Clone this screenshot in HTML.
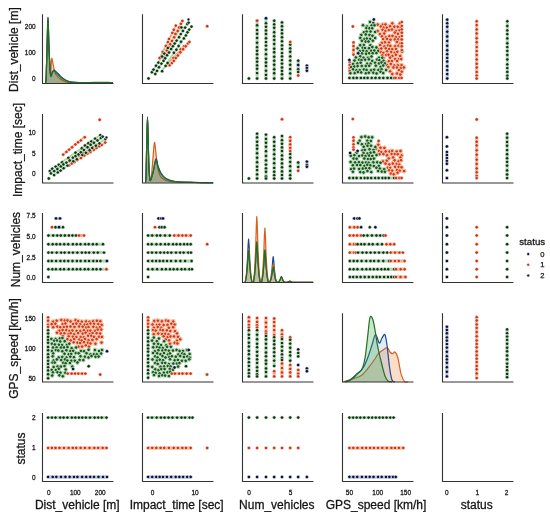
<!DOCTYPE html>
<html><head><meta charset="utf-8"><style>html,body{margin:0;padding:0;background:#fff;width:550px;height:517px;overflow:hidden}svg{display:block}</style></head>
<body><svg width="550" height="517" viewBox="0 0 550 517" font-family="Liberation Sans, sans-serif">
<rect width="550" height="517" fill="#fff"/>
<style>circle{stroke:#fff;stroke-width:0.55px}</style>
<g style="filter:blur(0.35px)"><path d="M159.8,58.0 L176.0,25.5" stroke="#f4a47a" stroke-width="2" stroke-linecap="round" fill="none"/>
<path d="M163.5,57.0 L182.7,20.7" stroke="#f4a47a" stroke-width="2" stroke-linecap="round" fill="none"/>
<path d="M166.5,66.0 L184.0,46.0" stroke="#f4a47a" stroke-width="2" stroke-linecap="round" fill="none"/>
<path d="M169.5,65.5 L189.6,42.0" stroke="#f4a47a" stroke-width="2" stroke-linecap="round" fill="none"/>
<path d="M152.0,72.0 L181.4,27.5" stroke="#a6d8a4" stroke-width="2" stroke-linecap="round" fill="none"/>
<path d="M162.0,71.0 L191.5,26.3" stroke="#a6d8a4" stroke-width="2" stroke-linecap="round" fill="none"/>
<path d="M155.0,74.0 L188.3,22.5" stroke="#a6d8a4" stroke-width="2" stroke-linecap="round" fill="none"/>
<path d="M257.1,20.7 L257.1,78.5" stroke="#a6d8a4" stroke-width="3.0" stroke-linecap="round" fill="none"/>
<path d="M266.0,18.5 L266.0,78.5" stroke="#a6d8a4" stroke-width="3.0" stroke-linecap="round" fill="none"/>
<path d="M274.2,20.7 L274.2,78.5" stroke="#a6d8a4" stroke-width="3.0" stroke-linecap="round" fill="none"/>
<path d="M282.0,22.4 L282.0,78.5" stroke="#a6d8a4" stroke-width="3.0" stroke-linecap="round" fill="none"/>
<path d="M290.2,44.5 L290.2,78.5" stroke="#a6d8a4" stroke-width="3.0" stroke-linecap="round" fill="none"/>
<path d="M298.2,60.7 L298.2,72.0" stroke="#a6d8a4" stroke-width="3.0" stroke-linecap="round" fill="none"/>
<path d="M306.9,65.6 L306.9,70.8" stroke="#a8bce0" stroke-width="3.0" stroke-linecap="round" fill="none"/>
<g fill="#f4a47a" style="stroke:none"><circle style="stroke:none" cx="377.7" cy="24.6" r="2.4"/><circle style="stroke:none" cx="382.7" cy="24.7" r="2.4"/><circle style="stroke:none" cx="385.4" cy="24.5" r="2.4"/><circle style="stroke:none" cx="392.3" cy="23.4" r="2.4"/><circle style="stroke:none" cx="400.0" cy="23.3" r="2.4"/><circle style="stroke:none" cx="380.9" cy="26.4" r="2.4"/><circle style="stroke:none" cx="383.7" cy="27.7" r="2.4"/><circle style="stroke:none" cx="386.8" cy="27.7" r="2.4"/><circle style="stroke:none" cx="390.1" cy="26.2" r="2.4"/><circle style="stroke:none" cx="394.4" cy="26.7" r="2.4"/><circle style="stroke:none" cx="397.8" cy="26.8" r="2.4"/><circle style="stroke:none" cx="400.9" cy="27.5" r="2.4"/><circle style="stroke:none" cx="377.7" cy="30.9" r="2.4"/><circle style="stroke:none" cx="382.6" cy="29.8" r="2.4"/><circle style="stroke:none" cx="385.3" cy="31.0" r="2.4"/><circle style="stroke:none" cx="388.9" cy="30.1" r="2.4"/><circle style="stroke:none" cx="391.9" cy="29.5" r="2.4"/><circle style="stroke:none" cx="395.9" cy="30.9" r="2.4"/><circle style="stroke:none" cx="399.5" cy="30.2" r="2.4"/><circle style="stroke:none" cx="379.9" cy="34.1" r="2.4"/><circle style="stroke:none" cx="384.2" cy="33.6" r="2.4"/><circle style="stroke:none" cx="394.9" cy="32.6" r="2.4"/><circle style="stroke:none" cx="398.0" cy="33.8" r="2.4"/><circle style="stroke:none" cx="401.3" cy="32.6" r="2.4"/><circle style="stroke:none" cx="381.9" cy="36.2" r="2.4"/><circle style="stroke:none" cx="385.9" cy="37.3" r="2.4"/><circle style="stroke:none" cx="389.4" cy="36.1" r="2.4"/><circle style="stroke:none" cx="392.5" cy="35.9" r="2.4"/><circle style="stroke:none" cx="395.8" cy="37.2" r="2.4"/><circle style="stroke:none" cx="399.4" cy="37.2" r="2.4"/><circle style="stroke:none" cx="383.1" cy="39.1" r="2.4"/><circle style="stroke:none" cx="387.0" cy="38.9" r="2.4"/><circle style="stroke:none" cx="390.5" cy="39.7" r="2.4"/><circle style="stroke:none" cx="394.9" cy="39.4" r="2.4"/><circle style="stroke:none" cx="398.1" cy="39.4" r="2.4"/><circle style="stroke:none" cx="401.0" cy="39.2" r="2.4"/><circle style="stroke:none" cx="381.9" cy="42.9" r="2.4"/><circle style="stroke:none" cx="385.0" cy="42.3" r="2.4"/><circle style="stroke:none" cx="388.9" cy="42.6" r="2.4"/><circle style="stroke:none" cx="396.9" cy="41.9" r="2.4"/><circle style="stroke:none" cx="400.3" cy="43.4" r="2.4"/><circle style="stroke:none" cx="380.2" cy="45.0" r="2.4"/><circle style="stroke:none" cx="384.4" cy="46.4" r="2.4"/><circle style="stroke:none" cx="388.1" cy="45.4" r="2.4"/><circle style="stroke:none" cx="390.3" cy="45.9" r="2.4"/><circle style="stroke:none" cx="395.3" cy="46.2" r="2.4"/><circle style="stroke:none" cx="398.6" cy="45.8" r="2.4"/><circle style="stroke:none" cx="400.9" cy="46.3" r="2.4"/><circle style="stroke:none" cx="379.0" cy="49.2" r="2.4"/><circle style="stroke:none" cx="381.3" cy="48.6" r="2.4"/><circle style="stroke:none" cx="385.8" cy="48.3" r="2.4"/><circle style="stroke:none" cx="389.1" cy="49.1" r="2.4"/><circle style="stroke:none" cx="392.2" cy="49.2" r="2.4"/><circle style="stroke:none" cx="396.0" cy="48.9" r="2.4"/><circle style="stroke:none" cx="380.8" cy="52.1" r="2.4"/><circle style="stroke:none" cx="383.3" cy="52.9" r="2.4"/><circle style="stroke:none" cx="387.0" cy="51.3" r="2.4"/><circle style="stroke:none" cx="391.2" cy="52.0" r="2.4"/><circle style="stroke:none" cx="394.8" cy="52.8" r="2.4"/><circle style="stroke:none" cx="397.3" cy="51.8" r="2.4"/><circle style="stroke:none" cx="402.0" cy="51.6" r="2.4"/><circle style="stroke:none" cx="382.3" cy="55.3" r="2.4"/><circle style="stroke:none" cx="386.3" cy="54.9" r="2.4"/><circle style="stroke:none" cx="388.6" cy="54.8" r="2.4"/><circle style="stroke:none" cx="392.4" cy="56.0" r="2.4"/><circle style="stroke:none" cx="395.8" cy="54.8" r="2.4"/><circle style="stroke:none" cx="400.2" cy="56.0" r="2.4"/><circle style="stroke:none" cx="383.5" cy="57.9" r="2.4"/><circle style="stroke:none" cx="390.1" cy="57.6" r="2.4"/><circle style="stroke:none" cx="395.2" cy="59.0" r="2.4"/><circle style="stroke:none" cx="398.9" cy="59.1" r="2.4"/><circle style="stroke:none" cx="401.2" cy="59.1" r="2.4"/><circle style="stroke:none" cx="384.7" cy="61.8" r="2.4"/><circle style="stroke:none" cx="388.9" cy="61.2" r="2.4"/><circle style="stroke:none" cx="391.9" cy="61.1" r="2.4"/><circle style="stroke:none" cx="397.1" cy="60.9" r="2.4"/><circle style="stroke:none" cx="387.1" cy="65.2" r="2.4"/><circle style="stroke:none" cx="390.8" cy="63.9" r="2.4"/><circle style="stroke:none" cx="394.3" cy="65.4" r="2.4"/><circle style="stroke:none" cx="397.9" cy="65.3" r="2.4"/><circle style="stroke:none" cx="401.5" cy="65.2" r="2.4"/><circle style="stroke:none" cx="388.3" cy="67.0" r="2.4"/><circle style="stroke:none" cx="393.4" cy="67.4" r="2.4"/><circle style="stroke:none" cx="397.0" cy="67.5" r="2.4"/><circle style="stroke:none" cx="400.7" cy="68.0" r="2.4"/><circle style="stroke:none" cx="403.9" cy="67.5" r="2.4"/><circle style="stroke:none" cx="390.1" cy="71.3" r="2.4"/><circle style="stroke:none" cx="398.9" cy="70.1" r="2.4"/><circle style="stroke:none" cx="401.7" cy="71.7" r="2.4"/><circle style="stroke:none" cx="392.3" cy="73.9" r="2.4"/><circle style="stroke:none" cx="397.0" cy="73.5" r="2.4"/><circle style="stroke:none" cx="400.3" cy="74.6" r="2.4"/></g>
<path d="M353.5,42.4 L353.5,54.6" stroke="#f4a47a" stroke-width="3.0" stroke-linecap="round" fill="none"/>
<path d="M349.7,62.0 L349.7,71.0" stroke="#f4a47a" stroke-width="3.0" stroke-linecap="round" fill="none"/>
<g fill="#a6d8a4" style="stroke:none"><circle style="stroke:none" cx="370.0" cy="21.9" r="2.4"/><circle style="stroke:none" cx="373.3" cy="23.1" r="2.4"/><circle style="stroke:none" cx="363.0" cy="25.3" r="2.4"/><circle style="stroke:none" cx="366.9" cy="26.5" r="2.4"/><circle style="stroke:none" cx="371.7" cy="25.4" r="2.4"/><circle style="stroke:none" cx="374.5" cy="25.3" r="2.4"/><circle style="stroke:none" cx="366.4" cy="28.1" r="2.4"/><circle style="stroke:none" cx="369.4" cy="28.3" r="2.4"/><circle style="stroke:none" cx="372.2" cy="28.3" r="2.4"/><circle style="stroke:none" cx="364.0" cy="32.2" r="2.4"/><circle style="stroke:none" cx="366.6" cy="31.6" r="2.4"/><circle style="stroke:none" cx="370.5" cy="31.6" r="2.4"/><circle style="stroke:none" cx="375.1" cy="32.0" r="2.4"/><circle style="stroke:none" cx="361.3" cy="34.9" r="2.4"/><circle style="stroke:none" cx="365.8" cy="34.4" r="2.4"/><circle style="stroke:none" cx="369.5" cy="34.9" r="2.4"/><circle style="stroke:none" cx="372.5" cy="35.8" r="2.4"/><circle style="stroke:none" cx="360.3" cy="37.9" r="2.4"/><circle style="stroke:none" cx="364.4" cy="39.0" r="2.4"/><circle style="stroke:none" cx="366.9" cy="38.6" r="2.4"/><circle style="stroke:none" cx="370.2" cy="38.9" r="2.4"/><circle style="stroke:none" cx="375.1" cy="38.0" r="2.4"/><circle style="stroke:none" cx="361.9" cy="40.8" r="2.4"/><circle style="stroke:none" cx="365.7" cy="41.6" r="2.4"/><circle style="stroke:none" cx="368.5" cy="41.5" r="2.4"/><circle style="stroke:none" cx="372.8" cy="40.7" r="2.4"/><circle style="stroke:none" cx="360.2" cy="45.2" r="2.4"/><circle style="stroke:none" cx="363.8" cy="45.0" r="2.4"/><circle style="stroke:none" cx="370.4" cy="45.2" r="2.4"/><circle style="stroke:none" cx="357.6" cy="48.3" r="2.4"/><circle style="stroke:none" cx="362.7" cy="47.8" r="2.4"/><circle style="stroke:none" cx="365.0" cy="48.1" r="2.4"/><circle style="stroke:none" cx="369.0" cy="48.2" r="2.4"/><circle style="stroke:none" cx="372.3" cy="47.1" r="2.4"/><circle style="stroke:none" cx="376.4" cy="47.4" r="2.4"/><circle style="stroke:none" cx="359.8" cy="51.1" r="2.4"/><circle style="stroke:none" cx="363.0" cy="50.8" r="2.4"/><circle style="stroke:none" cx="366.6" cy="51.3" r="2.4"/><circle style="stroke:none" cx="371.2" cy="50.8" r="2.4"/><circle style="stroke:none" cx="374.3" cy="50.6" r="2.4"/><circle style="stroke:none" cx="378.1" cy="51.0" r="2.4"/><circle style="stroke:none" cx="358.3" cy="53.0" r="2.4"/><circle style="stroke:none" cx="362.0" cy="53.4" r="2.4"/><circle style="stroke:none" cx="366.1" cy="53.8" r="2.4"/><circle style="stroke:none" cx="369.2" cy="53.2" r="2.4"/><circle style="stroke:none" cx="372.7" cy="53.2" r="2.4"/><circle style="stroke:none" cx="376.4" cy="53.1" r="2.4"/><circle style="stroke:none" cx="355.9" cy="57.4" r="2.4"/><circle style="stroke:none" cx="360.2" cy="56.2" r="2.4"/><circle style="stroke:none" cx="363.6" cy="57.8" r="2.4"/><circle style="stroke:none" cx="368.0" cy="57.8" r="2.4"/><circle style="stroke:none" cx="371.5" cy="56.5" r="2.4"/><circle style="stroke:none" cx="379.0" cy="57.7" r="2.4"/><circle style="stroke:none" cx="382.3" cy="57.7" r="2.4"/><circle style="stroke:none" cx="354.5" cy="60.6" r="2.4"/><circle style="stroke:none" cx="359.1" cy="59.7" r="2.4"/><circle style="stroke:none" cx="361.4" cy="60.1" r="2.4"/><circle style="stroke:none" cx="365.1" cy="59.7" r="2.4"/><circle style="stroke:none" cx="368.9" cy="59.3" r="2.4"/><circle style="stroke:none" cx="372.2" cy="60.9" r="2.4"/><circle style="stroke:none" cx="377.1" cy="59.6" r="2.4"/><circle style="stroke:none" cx="379.3" cy="60.2" r="2.4"/><circle style="stroke:none" cx="383.4" cy="60.8" r="2.4"/><circle style="stroke:none" cx="353.1" cy="63.9" r="2.4"/><circle style="stroke:none" cx="357.4" cy="63.5" r="2.4"/><circle style="stroke:none" cx="360.7" cy="62.8" r="2.4"/><circle style="stroke:none" cx="367.2" cy="63.7" r="2.4"/><circle style="stroke:none" cx="370.5" cy="63.7" r="2.4"/><circle style="stroke:none" cx="375.1" cy="62.8" r="2.4"/><circle style="stroke:none" cx="379.0" cy="63.4" r="2.4"/><circle style="stroke:none" cx="381.5" cy="62.4" r="2.4"/><circle style="stroke:none" cx="384.8" cy="63.4" r="2.4"/><circle style="stroke:none" cx="351.2" cy="67.1" r="2.4"/><circle style="stroke:none" cx="354.3" cy="66.6" r="2.4"/><circle style="stroke:none" cx="357.6" cy="66.1" r="2.4"/><circle style="stroke:none" cx="361.8" cy="65.9" r="2.4"/><circle style="stroke:none" cx="365.8" cy="65.9" r="2.4"/><circle style="stroke:none" cx="369.2" cy="65.8" r="2.4"/><circle style="stroke:none" cx="375.8" cy="65.7" r="2.4"/><circle style="stroke:none" cx="380.6" cy="66.9" r="2.4"/><circle style="stroke:none" cx="383.2" cy="65.5" r="2.4"/><circle style="stroke:none" cx="353.1" cy="69.3" r="2.4"/><circle style="stroke:none" cx="356.5" cy="70.3" r="2.4"/><circle style="stroke:none" cx="359.8" cy="70.2" r="2.4"/><circle style="stroke:none" cx="363.9" cy="69.4" r="2.4"/><circle style="stroke:none" cx="366.6" cy="70.0" r="2.4"/><circle style="stroke:none" cx="371.1" cy="70.3" r="2.4"/><circle style="stroke:none" cx="374.1" cy="69.7" r="2.4"/><circle style="stroke:none" cx="378.4" cy="70.0" r="2.4"/><circle style="stroke:none" cx="381.5" cy="69.2" r="2.4"/><circle style="stroke:none" cx="386.1" cy="70.0" r="2.4"/><circle style="stroke:none" cx="350.4" cy="73.2" r="2.4"/><circle style="stroke:none" cx="354.7" cy="73.1" r="2.4"/><circle style="stroke:none" cx="357.9" cy="72.0" r="2.4"/><circle style="stroke:none" cx="361.2" cy="72.4" r="2.4"/><circle style="stroke:none" cx="365.9" cy="73.2" r="2.4"/><circle style="stroke:none" cx="368.8" cy="72.7" r="2.4"/><circle style="stroke:none" cx="373.3" cy="72.7" r="2.4"/><circle style="stroke:none" cx="376.6" cy="73.4" r="2.4"/><circle style="stroke:none" cx="380.6" cy="71.8" r="2.4"/><circle style="stroke:none" cx="383.2" cy="73.1" r="2.4"/></g>
<path d="M349.4,77.9 L394.1,77.9" stroke="#a6d8a4" stroke-width="3.0" stroke-linecap="round" fill="none"/>
<path d="M395.5,77.9 L401.6,77.9" stroke="#f4a47a" stroke-width="3.0" stroke-linecap="round" fill="none"/>
<path d="M447.2,19.6 L447.2,78.5" stroke="#a8bce0" stroke-width="3.0" stroke-linecap="round" fill="none"/>
<path d="M476.7,21.3 L476.7,78.5" stroke="#f4a47a" stroke-width="3.0" stroke-linecap="round" fill="none"/>
<path d="M507.3,21.3 L507.3,78.5" stroke="#a6d8a4" stroke-width="3.0" stroke-linecap="round" fill="none"/>
<path d="M63.0,154.5 L84.6,137.0" stroke="#f4a47a" stroke-width="2" stroke-linecap="round" fill="none"/>
<path d="M66.0,163.0 L98.0,144.0" stroke="#f4a47a" stroke-width="2" stroke-linecap="round" fill="none"/>
<path d="M68.9,165.3 L105.3,142.7" stroke="#f4a47a" stroke-width="2" stroke-linecap="round" fill="none"/>
<path d="M49.5,171.0 L100.3,135.0" stroke="#a6d8a4" stroke-width="2" stroke-linecap="round" fill="none"/>
<path d="M54.0,175.0 L105.3,139.0" stroke="#a6d8a4" stroke-width="2" stroke-linecap="round" fill="none"/>
<path d="M51.0,173.5 L103.0,136.5" stroke="#a6d8a4" stroke-width="2" stroke-linecap="round" fill="none"/>
<path d="M257.1,133.7 L257.1,178.5" stroke="#a6d8a4" stroke-width="3.0" stroke-linecap="round" fill="none"/>
<path d="M266.0,134.6 L266.0,178.5" stroke="#a6d8a4" stroke-width="3.0" stroke-linecap="round" fill="none"/>
<path d="M274.2,137.2 L274.2,178.5" stroke="#a6d8a4" stroke-width="3.0" stroke-linecap="round" fill="none"/>
<path d="M282.0,136.0 L282.0,178.5" stroke="#a6d8a4" stroke-width="3.0" stroke-linecap="round" fill="none"/>
<path d="M290.2,137.2 L290.2,151.0" stroke="#f4a47a" stroke-width="3.0" stroke-linecap="round" fill="none"/>
<path d="M290.2,154.0 L290.2,178.5" stroke="#a6d8a4" stroke-width="3.0" stroke-linecap="round" fill="none"/>
<path d="M298.2,162.5 L298.2,167.0" stroke="#a6d8a4" stroke-width="3.0" stroke-linecap="round" fill="none"/>
<path d="M306.9,161.6 L306.9,166.8" stroke="#a8bce0" stroke-width="3.0" stroke-linecap="round" fill="none"/>
<g fill="#f4a47a" style="stroke:none"><circle style="stroke:none" cx="378.3" cy="144.7" r="2.4"/><circle style="stroke:none" cx="375.9" cy="148.7" r="2.4"/><circle style="stroke:none" cx="380.5" cy="147.8" r="2.4"/><circle style="stroke:none" cx="384.4" cy="147.9" r="2.4"/><circle style="stroke:none" cx="379.0" cy="150.9" r="2.4"/><circle style="stroke:none" cx="381.2" cy="152.2" r="2.4"/><circle style="stroke:none" cx="385.7" cy="151.4" r="2.4"/><circle style="stroke:none" cx="389.6" cy="151.5" r="2.4"/><circle style="stroke:none" cx="392.1" cy="151.0" r="2.4"/><circle style="stroke:none" cx="396.7" cy="151.6" r="2.4"/><circle style="stroke:none" cx="400.5" cy="151.1" r="2.4"/><circle style="stroke:none" cx="379.5" cy="154.2" r="2.4"/><circle style="stroke:none" cx="383.4" cy="154.1" r="2.4"/><circle style="stroke:none" cx="387.0" cy="155.3" r="2.4"/><circle style="stroke:none" cx="391.7" cy="153.9" r="2.4"/><circle style="stroke:none" cx="394.8" cy="154.1" r="2.4"/><circle style="stroke:none" cx="397.7" cy="154.2" r="2.4"/><circle style="stroke:none" cx="401.5" cy="155.5" r="2.4"/><circle style="stroke:none" cx="388.7" cy="158.4" r="2.4"/><circle style="stroke:none" cx="393.1" cy="157.4" r="2.4"/><circle style="stroke:none" cx="400.4" cy="157.5" r="2.4"/><circle style="stroke:none" cx="382.9" cy="161.5" r="2.4"/><circle style="stroke:none" cx="386.8" cy="160.8" r="2.4"/><circle style="stroke:none" cx="394.6" cy="160.3" r="2.4"/><circle style="stroke:none" cx="398.6" cy="161.3" r="2.4"/><circle style="stroke:none" cx="401.0" cy="160.2" r="2.4"/><circle style="stroke:none" cx="385.5" cy="163.6" r="2.4"/><circle style="stroke:none" cx="389.3" cy="164.4" r="2.4"/><circle style="stroke:none" cx="392.8" cy="163.5" r="2.4"/><circle style="stroke:none" cx="396.7" cy="163.9" r="2.4"/><circle style="stroke:none" cx="399.1" cy="164.6" r="2.4"/><circle style="stroke:none" cx="387.9" cy="167.8" r="2.4"/><circle style="stroke:none" cx="390.1" cy="167.9" r="2.4"/><circle style="stroke:none" cx="395.1" cy="166.8" r="2.4"/><circle style="stroke:none" cx="398.7" cy="166.9" r="2.4"/><circle style="stroke:none" cx="401.5" cy="167.3" r="2.4"/><circle style="stroke:none" cx="389.1" cy="170.2" r="2.4"/><circle style="stroke:none" cx="392.1" cy="170.7" r="2.4"/><circle style="stroke:none" cx="396.9" cy="170.0" r="2.4"/><circle style="stroke:none" cx="399.7" cy="170.7" r="2.4"/><circle style="stroke:none" cx="404.1" cy="171.1" r="2.4"/><circle style="stroke:none" cx="390.9" cy="173.5" r="2.4"/><circle style="stroke:none" cx="393.7" cy="174.2" r="2.4"/><circle style="stroke:none" cx="397.6" cy="172.7" r="2.4"/></g>
<path d="M353.5,137.4 L353.5,149.6" stroke="#f4a47a" stroke-width="3.0" stroke-linecap="round" fill="none"/>
<g fill="#a6d8a4" style="stroke:none"><circle style="stroke:none" cx="361.4" cy="137.1" r="2.4"/><circle style="stroke:none" cx="365.2" cy="136.5" r="2.4"/><circle style="stroke:none" cx="368.6" cy="137.3" r="2.4"/><circle style="stroke:none" cx="372.2" cy="137.3" r="2.4"/><circle style="stroke:none" cx="359.6" cy="140.8" r="2.4"/><circle style="stroke:none" cx="367.3" cy="140.8" r="2.4"/><circle style="stroke:none" cx="370.8" cy="141.0" r="2.4"/><circle style="stroke:none" cx="358.1" cy="143.0" r="2.4"/><circle style="stroke:none" cx="361.9" cy="144.2" r="2.4"/><circle style="stroke:none" cx="366.3" cy="143.9" r="2.4"/><circle style="stroke:none" cx="368.4" cy="143.4" r="2.4"/><circle style="stroke:none" cx="363.7" cy="146.8" r="2.4"/><circle style="stroke:none" cx="367.5" cy="145.8" r="2.4"/><circle style="stroke:none" cx="371.0" cy="145.7" r="2.4"/><circle style="stroke:none" cx="375.4" cy="147.0" r="2.4"/><circle style="stroke:none" cx="362.5" cy="150.3" r="2.4"/><circle style="stroke:none" cx="364.8" cy="149.9" r="2.4"/><circle style="stroke:none" cx="369.5" cy="149.3" r="2.4"/><circle style="stroke:none" cx="373.5" cy="149.9" r="2.4"/><circle style="stroke:none" cx="356.6" cy="152.7" r="2.4"/><circle style="stroke:none" cx="363.5" cy="153.0" r="2.4"/><circle style="stroke:none" cx="367.6" cy="153.6" r="2.4"/><circle style="stroke:none" cx="370.6" cy="152.7" r="2.4"/><circle style="stroke:none" cx="374.0" cy="152.2" r="2.4"/><circle style="stroke:none" cx="350.8" cy="155.8" r="2.4"/><circle style="stroke:none" cx="354.4" cy="155.2" r="2.4"/><circle style="stroke:none" cx="359.0" cy="156.1" r="2.4"/><circle style="stroke:none" cx="362.3" cy="155.4" r="2.4"/><circle style="stroke:none" cx="365.5" cy="156.0" r="2.4"/><circle style="stroke:none" cx="369.1" cy="155.6" r="2.4"/><circle style="stroke:none" cx="372.3" cy="155.9" r="2.4"/><circle style="stroke:none" cx="376.5" cy="155.1" r="2.4"/><circle style="stroke:none" cx="353.6" cy="158.6" r="2.4"/><circle style="stroke:none" cx="356.6" cy="158.7" r="2.4"/><circle style="stroke:none" cx="364.3" cy="158.5" r="2.4"/><circle style="stroke:none" cx="368.0" cy="159.0" r="2.4"/><circle style="stroke:none" cx="370.8" cy="159.0" r="2.4"/><circle style="stroke:none" cx="373.9" cy="158.6" r="2.4"/><circle style="stroke:none" cx="350.6" cy="161.9" r="2.4"/><circle style="stroke:none" cx="355.1" cy="162.4" r="2.4"/><circle style="stroke:none" cx="358.9" cy="162.2" r="2.4"/><circle style="stroke:none" cx="362.4" cy="162.6" r="2.4"/><circle style="stroke:none" cx="366.1" cy="162.5" r="2.4"/><circle style="stroke:none" cx="368.6" cy="162.8" r="2.4"/><circle style="stroke:none" cx="373.3" cy="162.3" r="2.4"/><circle style="stroke:none" cx="377.2" cy="162.3" r="2.4"/><circle style="stroke:none" cx="380.5" cy="162.8" r="2.4"/><circle style="stroke:none" cx="352.8" cy="165.2" r="2.4"/><circle style="stroke:none" cx="357.0" cy="165.0" r="2.4"/><circle style="stroke:none" cx="360.3" cy="165.1" r="2.4"/><circle style="stroke:none" cx="364.3" cy="165.9" r="2.4"/><circle style="stroke:none" cx="367.3" cy="164.8" r="2.4"/><circle style="stroke:none" cx="370.4" cy="165.4" r="2.4"/><circle style="stroke:none" cx="373.9" cy="166.0" r="2.4"/><circle style="stroke:none" cx="378.8" cy="165.9" r="2.4"/><circle style="stroke:none" cx="351.1" cy="169.1" r="2.4"/><circle style="stroke:none" cx="354.0" cy="168.6" r="2.4"/><circle style="stroke:none" cx="359.1" cy="168.9" r="2.4"/><circle style="stroke:none" cx="362.8" cy="168.5" r="2.4"/><circle style="stroke:none" cx="365.9" cy="168.3" r="2.4"/><circle style="stroke:none" cx="369.4" cy="168.2" r="2.4"/><circle style="stroke:none" cx="376.4" cy="167.8" r="2.4"/><circle style="stroke:none" cx="379.8" cy="168.6" r="2.4"/><circle style="stroke:none" cx="384.2" cy="169.2" r="2.4"/><circle style="stroke:none" cx="352.9" cy="171.8" r="2.4"/><circle style="stroke:none" cx="360.3" cy="172.1" r="2.4"/><circle style="stroke:none" cx="363.5" cy="172.4" r="2.4"/><circle style="stroke:none" cx="367.4" cy="170.9" r="2.4"/><circle style="stroke:none" cx="371.3" cy="172.1" r="2.4"/><circle style="stroke:none" cx="378.1" cy="171.0" r="2.4"/><circle style="stroke:none" cx="381.8" cy="171.6" r="2.4"/><circle style="stroke:none" cx="384.9" cy="171.8" r="2.4"/></g>
<path d="M349.4,178.0 L394.1,178.0" stroke="#a6d8a4" stroke-width="3.0" stroke-linecap="round" fill="none"/>
<path d="M396.2,178.0 L401.6,178.0" stroke="#f4a47a" stroke-width="3.0" stroke-linecap="round" fill="none"/>
<path d="M476.7,137.7 L476.7,178.1" stroke="#f4a47a" stroke-width="3.0" stroke-linecap="round" fill="none"/>
<path d="M507.1,133.7 L507.1,178.1" stroke="#a6d8a4" stroke-width="3.0" stroke-linecap="round" fill="none"/>
<path d="M48.4,269.2 L106.4,269.2" stroke="#a6d8a4" stroke-width="3.0" stroke-linecap="round" fill="none"/>
<path d="M48.4,261.0 L106.4,261.0" stroke="#a6d8a4" stroke-width="3.0" stroke-linecap="round" fill="none"/>
<path d="M48.4,252.6 L104.0,252.6" stroke="#a6d8a4" stroke-width="3.0" stroke-linecap="round" fill="none"/>
<path d="M48.4,244.2 L103.0,244.2" stroke="#a6d8a4" stroke-width="3.0" stroke-linecap="round" fill="none"/>
<path d="M48.4,235.5 L76.0,235.5" stroke="#a6d8a4" stroke-width="3.0" stroke-linecap="round" fill="none"/>
<path d="M79.0,235.5 L84.0,235.5" stroke="#f4a47a" stroke-width="3.0" stroke-linecap="round" fill="none"/>
<path d="M55.5,227.2 L63.0,227.2" stroke="#a6d8a4" stroke-width="3.0" stroke-linecap="round" fill="none"/>
<path d="M56.0,218.4 L60.0,218.4" stroke="#a8bce0" stroke-width="3.0" stroke-linecap="round" fill="none"/>
<path d="M148.1,269.2 L192.0,269.2" stroke="#a6d8a4" stroke-width="3.0" stroke-linecap="round" fill="none"/>
<path d="M148.1,261.0 L191.6,261.0" stroke="#a6d8a4" stroke-width="3.0" stroke-linecap="round" fill="none"/>
<path d="M148.1,252.6 L191.0,252.6" stroke="#a6d8a4" stroke-width="3.0" stroke-linecap="round" fill="none"/>
<path d="M148.1,244.2 L190.7,244.2" stroke="#a6d8a4" stroke-width="3.0" stroke-linecap="round" fill="none"/>
<path d="M148.1,235.5 L169.8,235.5" stroke="#a6d8a4" stroke-width="3.0" stroke-linecap="round" fill="none"/>
<path d="M174.2,235.5 L190.7,235.5" stroke="#f4a47a" stroke-width="3.0" stroke-linecap="round" fill="none"/>
<path d="M159.4,227.2 L164.6,227.2" stroke="#a6d8a4" stroke-width="3.0" stroke-linecap="round" fill="none"/>
<path d="M158.5,218.4 L163.0,218.4" stroke="#a8bce0" stroke-width="3.0" stroke-linecap="round" fill="none"/>
<path d="M349.8,277.0 L394.2,277.0" stroke="#a6d8a4" stroke-width="3.0" stroke-linecap="round" fill="none"/>
<path d="M396.0,277.0 L405.5,277.0" stroke="#f4a47a" stroke-width="3.0" stroke-linecap="round" fill="none"/>
<path d="M349.8,269.2 L394.2,269.2" stroke="#a6d8a4" stroke-width="3.0" stroke-linecap="round" fill="none"/>
<path d="M396.0,269.2 L404.6,269.2" stroke="#f4a47a" stroke-width="3.0" stroke-linecap="round" fill="none"/>
<path d="M349.8,261.0 L389.0,261.0" stroke="#a6d8a4" stroke-width="3.0" stroke-linecap="round" fill="none"/>
<path d="M390.7,261.0 L404.6,261.0" stroke="#f4a47a" stroke-width="3.0" stroke-linecap="round" fill="none"/>
<path d="M349.8,252.6 L355.9,252.6" stroke="#f4a47a" stroke-width="3.0" stroke-linecap="round" fill="none"/>
<path d="M358.0,252.6 L387.2,252.6" stroke="#a6d8a4" stroke-width="3.0" stroke-linecap="round" fill="none"/>
<path d="M390.7,252.6 L402.9,252.6" stroke="#f4a47a" stroke-width="3.0" stroke-linecap="round" fill="none"/>
<path d="M349.8,244.2 L355.9,244.2" stroke="#f4a47a" stroke-width="3.0" stroke-linecap="round" fill="none"/>
<path d="M357.6,244.2 L382.0,244.2" stroke="#a6d8a4" stroke-width="3.0" stroke-linecap="round" fill="none"/>
<path d="M386.4,244.2 L394.2,244.2" stroke="#f4a47a" stroke-width="3.0" stroke-linecap="round" fill="none"/>
<path d="M349.8,235.5 L361.1,235.5" stroke="#f4a47a" stroke-width="3.0" stroke-linecap="round" fill="none"/>
<path d="M363.7,235.5 L383.7,235.5" stroke="#a6d8a4" stroke-width="3.0" stroke-linecap="round" fill="none"/>
<path d="M349.8,227.2 L357.6,227.2" stroke="#f4a47a" stroke-width="3.0" stroke-linecap="round" fill="none"/>
<path d="M354.2,218.4 L359.4,218.4" stroke="#a8bce0" stroke-width="3.0" stroke-linecap="round" fill="none"/>
<path d="M48.1,317.4 L48.1,326.9" stroke="#f4a47a" stroke-width="3.0" stroke-linecap="round" fill="none"/>
<path d="M48.1,330.3 L48.1,378.3" stroke="#a6d8a4" stroke-width="3.0" stroke-linecap="round" fill="none"/>
<g fill="#f4a47a" style="stroke:none"><circle style="stroke:none" cx="53.2" cy="321.7" r="2.4"/><circle style="stroke:none" cx="56.7" cy="320.8" r="2.4"/><circle style="stroke:none" cx="61.3" cy="320.1" r="2.4"/><circle style="stroke:none" cx="64.8" cy="320.5" r="2.4"/><circle style="stroke:none" cx="67.5" cy="320.5" r="2.4"/><circle style="stroke:none" cx="70.6" cy="321.5" r="2.4"/><circle style="stroke:none" cx="75.6" cy="320.2" r="2.4"/><circle style="stroke:none" cx="78.2" cy="321.2" r="2.4"/><circle style="stroke:none" cx="81.8" cy="321.7" r="2.4"/><circle style="stroke:none" cx="86.1" cy="321.5" r="2.4"/><circle style="stroke:none" cx="89.5" cy="321.8" r="2.4"/><circle style="stroke:none" cx="93.1" cy="321.3" r="2.4"/><circle style="stroke:none" cx="96.9" cy="320.8" r="2.4"/><circle style="stroke:none" cx="100.3" cy="321.2" r="2.4"/><circle style="stroke:none" cx="51.7" cy="324.1" r="2.4"/><circle style="stroke:none" cx="55.3" cy="323.7" r="2.4"/><circle style="stroke:none" cx="62.7" cy="324.1" r="2.4"/><circle style="stroke:none" cx="65.4" cy="323.5" r="2.4"/><circle style="stroke:none" cx="73.1" cy="324.1" r="2.4"/><circle style="stroke:none" cx="76.3" cy="323.5" r="2.4"/><circle style="stroke:none" cx="80.2" cy="324.3" r="2.4"/><circle style="stroke:none" cx="84.6" cy="324.7" r="2.4"/><circle style="stroke:none" cx="87.3" cy="324.6" r="2.4"/><circle style="stroke:none" cx="90.5" cy="323.5" r="2.4"/><circle style="stroke:none" cx="94.0" cy="323.8" r="2.4"/><circle style="stroke:none" cx="98.3" cy="324.0" r="2.4"/><circle style="stroke:none" cx="101.7" cy="324.9" r="2.4"/><circle style="stroke:none" cx="53.2" cy="327.2" r="2.4"/><circle style="stroke:none" cx="57.3" cy="326.6" r="2.4"/><circle style="stroke:none" cx="60.3" cy="327.2" r="2.4"/><circle style="stroke:none" cx="63.9" cy="326.9" r="2.4"/><circle style="stroke:none" cx="66.9" cy="326.7" r="2.4"/><circle style="stroke:none" cx="70.5" cy="326.6" r="2.4"/><circle style="stroke:none" cx="74.5" cy="326.9" r="2.4"/><circle style="stroke:none" cx="79.1" cy="326.5" r="2.4"/><circle style="stroke:none" cx="82.7" cy="326.7" r="2.4"/><circle style="stroke:none" cx="86.2" cy="327.4" r="2.4"/><circle style="stroke:none" cx="88.5" cy="327.1" r="2.4"/><circle style="stroke:none" cx="93.3" cy="326.8" r="2.4"/><circle style="stroke:none" cx="96.8" cy="327.7" r="2.4"/><circle style="stroke:none" cx="99.9" cy="327.3" r="2.4"/><circle style="stroke:none" cx="59.5" cy="330.7" r="2.4"/><circle style="stroke:none" cx="62.6" cy="330.0" r="2.4"/><circle style="stroke:none" cx="66.3" cy="330.1" r="2.4"/><circle style="stroke:none" cx="69.5" cy="331.0" r="2.4"/><circle style="stroke:none" cx="72.3" cy="330.5" r="2.4"/><circle style="stroke:none" cx="76.6" cy="330.9" r="2.4"/><circle style="stroke:none" cx="80.3" cy="331.0" r="2.4"/><circle style="stroke:none" cx="83.9" cy="330.3" r="2.4"/><circle style="stroke:none" cx="87.8" cy="330.7" r="2.4"/><circle style="stroke:none" cx="90.3" cy="330.6" r="2.4"/><circle style="stroke:none" cx="95.2" cy="330.8" r="2.4"/><circle style="stroke:none" cx="97.8" cy="329.6" r="2.4"/><circle style="stroke:none" cx="101.2" cy="329.6" r="2.4"/><circle style="stroke:none" cx="57.0" cy="332.7" r="2.4"/><circle style="stroke:none" cx="60.9" cy="333.4" r="2.4"/><circle style="stroke:none" cx="64.4" cy="333.3" r="2.4"/><circle style="stroke:none" cx="68.5" cy="334.0" r="2.4"/><circle style="stroke:none" cx="70.7" cy="333.2" r="2.4"/><circle style="stroke:none" cx="74.1" cy="334.3" r="2.4"/><circle style="stroke:none" cx="78.1" cy="333.1" r="2.4"/><circle style="stroke:none" cx="82.7" cy="333.6" r="2.4"/><circle style="stroke:none" cx="85.6" cy="332.7" r="2.4"/><circle style="stroke:none" cx="89.9" cy="334.0" r="2.4"/><circle style="stroke:none" cx="92.5" cy="333.0" r="2.4"/><circle style="stroke:none" cx="96.6" cy="333.2" r="2.4"/><circle style="stroke:none" cx="100.1" cy="333.6" r="2.4"/><circle style="stroke:none" cx="62.8" cy="336.1" r="2.4"/><circle style="stroke:none" cx="68.7" cy="336.3" r="2.4"/><circle style="stroke:none" cx="72.9" cy="336.7" r="2.4"/><circle style="stroke:none" cx="76.3" cy="337.1" r="2.4"/><circle style="stroke:none" cx="80.7" cy="337.1" r="2.4"/><circle style="stroke:none" cx="83.8" cy="337.3" r="2.4"/><circle style="stroke:none" cx="88.1" cy="335.8" r="2.4"/><circle style="stroke:none" cx="91.3" cy="335.8" r="2.4"/><circle style="stroke:none" cx="94.0" cy="336.8" r="2.4"/><circle style="stroke:none" cx="99.0" cy="336.7" r="2.4"/><circle style="stroke:none" cx="101.9" cy="336.9" r="2.4"/><circle style="stroke:none" cx="67.4" cy="339.2" r="2.4"/><circle style="stroke:none" cx="70.7" cy="340.4" r="2.4"/><circle style="stroke:none" cx="74.2" cy="339.0" r="2.4"/><circle style="stroke:none" cx="79.3" cy="339.6" r="2.4"/><circle style="stroke:none" cx="81.7" cy="340.4" r="2.4"/><circle style="stroke:none" cx="85.1" cy="339.0" r="2.4"/><circle style="stroke:none" cx="88.5" cy="340.3" r="2.4"/><circle style="stroke:none" cx="92.4" cy="339.9" r="2.4"/><circle style="stroke:none" cx="96.6" cy="339.1" r="2.4"/><circle style="stroke:none" cx="73.7" cy="342.3" r="2.4"/><circle style="stroke:none" cx="77.5" cy="342.7" r="2.4"/><circle style="stroke:none" cx="80.1" cy="343.1" r="2.4"/><circle style="stroke:none" cx="84.0" cy="342.2" r="2.4"/><circle style="stroke:none" cx="87.9" cy="342.7" r="2.4"/><circle style="stroke:none" cx="90.4" cy="343.4" r="2.4"/><circle style="stroke:none" cx="95.4" cy="343.7" r="2.4"/><circle style="stroke:none" cx="101.5" cy="342.6" r="2.4"/><circle style="stroke:none" cx="78.5" cy="346.7" r="2.4"/><circle style="stroke:none" cx="82.1" cy="346.6" r="2.4"/><circle style="stroke:none" cx="85.8" cy="345.3" r="2.4"/><circle style="stroke:none" cx="88.9" cy="346.7" r="2.4"/></g>
<g fill="#a6d8a4" style="stroke:none"><circle style="stroke:none" cx="51.4" cy="338.9" r="2.4"/><circle style="stroke:none" cx="55.7" cy="338.9" r="2.4"/><circle style="stroke:none" cx="59.9" cy="338.4" r="2.4"/><circle style="stroke:none" cx="62.4" cy="338.0" r="2.4"/><circle style="stroke:none" cx="54.1" cy="340.7" r="2.4"/><circle style="stroke:none" cx="57.0" cy="340.5" r="2.4"/><circle style="stroke:none" cx="60.2" cy="341.4" r="2.4"/><circle style="stroke:none" cx="64.7" cy="341.2" r="2.4"/><circle style="stroke:none" cx="51.9" cy="343.7" r="2.4"/><circle style="stroke:none" cx="54.9" cy="344.5" r="2.4"/><circle style="stroke:none" cx="58.9" cy="344.7" r="2.4"/><circle style="stroke:none" cx="62.1" cy="345.1" r="2.4"/><circle style="stroke:none" cx="66.9" cy="345.0" r="2.4"/><circle style="stroke:none" cx="69.3" cy="343.7" r="2.4"/><circle style="stroke:none" cx="53.0" cy="347.5" r="2.4"/><circle style="stroke:none" cx="56.6" cy="347.5" r="2.4"/><circle style="stroke:none" cx="61.0" cy="347.5" r="2.4"/><circle style="stroke:none" cx="64.0" cy="347.4" r="2.4"/><circle style="stroke:none" cx="67.5" cy="347.1" r="2.4"/><circle style="stroke:none" cx="71.7" cy="348.2" r="2.4"/><circle style="stroke:none" cx="76.1" cy="347.5" r="2.4"/><circle style="stroke:none" cx="52.0" cy="351.0" r="2.4"/><circle style="stroke:none" cx="55.9" cy="350.1" r="2.4"/><circle style="stroke:none" cx="58.3" cy="350.5" r="2.4"/><circle style="stroke:none" cx="62.3" cy="351.3" r="2.4"/><circle style="stroke:none" cx="66.4" cy="350.2" r="2.4"/><circle style="stroke:none" cx="70.4" cy="351.0" r="2.4"/><circle style="stroke:none" cx="73.1" cy="350.8" r="2.4"/><circle style="stroke:none" cx="80.9" cy="351.0" r="2.4"/><circle style="stroke:none" cx="84.0" cy="351.2" r="2.4"/><circle style="stroke:none" cx="88.6" cy="349.8" r="2.4"/><circle style="stroke:none" cx="94.9" cy="350.0" r="2.4"/><circle style="stroke:none" cx="99.1" cy="351.0" r="2.4"/><circle style="stroke:none" cx="102.0" cy="350.0" r="2.4"/><circle style="stroke:none" cx="53.2" cy="353.5" r="2.4"/><circle style="stroke:none" cx="64.5" cy="353.8" r="2.4"/><circle style="stroke:none" cx="68.8" cy="354.2" r="2.4"/><circle style="stroke:none" cx="71.2" cy="354.0" r="2.4"/><circle style="stroke:none" cx="75.8" cy="353.1" r="2.4"/><circle style="stroke:none" cx="78.6" cy="353.2" r="2.4"/><circle style="stroke:none" cx="86.5" cy="353.2" r="2.4"/><circle style="stroke:none" cx="90.4" cy="354.5" r="2.4"/><circle style="stroke:none" cx="93.9" cy="354.3" r="2.4"/><circle style="stroke:none" cx="96.8" cy="354.3" r="2.4"/><circle style="stroke:none" cx="101.1" cy="353.5" r="2.4"/><circle style="stroke:none" cx="52.7" cy="356.3" r="2.4"/><circle style="stroke:none" cx="58.7" cy="357.5" r="2.4"/><circle style="stroke:none" cx="62.2" cy="356.9" r="2.4"/><circle style="stroke:none" cx="66.3" cy="357.6" r="2.4"/><circle style="stroke:none" cx="70.3" cy="356.7" r="2.4"/><circle style="stroke:none" cx="74.0" cy="357.2" r="2.4"/><circle style="stroke:none" cx="80.5" cy="356.2" r="2.4"/><circle style="stroke:none" cx="84.9" cy="356.7" r="2.4"/><circle style="stroke:none" cx="88.5" cy="357.4" r="2.4"/><circle style="stroke:none" cx="91.5" cy="356.1" r="2.4"/><circle style="stroke:none" cx="95.6" cy="356.8" r="2.4"/><circle style="stroke:none" cx="98.6" cy="356.6" r="2.4"/><circle style="stroke:none" cx="53.5" cy="360.6" r="2.4"/><circle style="stroke:none" cx="56.9" cy="359.4" r="2.4"/><circle style="stroke:none" cx="61.2" cy="360.0" r="2.4"/><circle style="stroke:none" cx="65.0" cy="359.4" r="2.4"/><circle style="stroke:none" cx="67.3" cy="360.6" r="2.4"/><circle style="stroke:none" cx="71.3" cy="360.8" r="2.4"/><circle style="stroke:none" cx="74.8" cy="360.7" r="2.4"/><circle style="stroke:none" cx="79.6" cy="359.9" r="2.4"/><circle style="stroke:none" cx="83.3" cy="360.1" r="2.4"/><circle style="stroke:none" cx="52.5" cy="362.6" r="2.4"/><circle style="stroke:none" cx="54.7" cy="362.6" r="2.4"/><circle style="stroke:none" cx="63.2" cy="362.8" r="2.4"/><circle style="stroke:none" cx="65.6" cy="363.3" r="2.4"/><circle style="stroke:none" cx="69.9" cy="363.0" r="2.4"/><circle style="stroke:none" cx="77.4" cy="362.5" r="2.4"/><circle style="stroke:none" cx="53.6" cy="367.1" r="2.4"/><circle style="stroke:none" cx="57.6" cy="366.5" r="2.4"/><circle style="stroke:none" cx="60.9" cy="366.6" r="2.4"/><circle style="stroke:none" cx="64.5" cy="366.1" r="2.4"/><circle style="stroke:none" cx="72.3" cy="366.6" r="2.4"/><circle style="stroke:none" cx="51.8" cy="369.9" r="2.4"/><circle style="stroke:none" cx="55.9" cy="369.9" r="2.4"/><circle style="stroke:none" cx="58.8" cy="368.8" r="2.4"/><circle style="stroke:none" cx="65.7" cy="369.6" r="2.4"/><circle style="stroke:none" cx="52.9" cy="372.4" r="2.4"/><circle style="stroke:none" cx="57.5" cy="372.2" r="2.4"/><circle style="stroke:none" cx="60.5" cy="372.7" r="2.4"/><circle style="stroke:none" cx="65.3" cy="372.8" r="2.4"/><circle style="stroke:none" cx="52.2" cy="375.5" r="2.4"/><circle style="stroke:none" cx="59.4" cy="375.3" r="2.4"/><circle style="stroke:none" cx="62.8" cy="376.3" r="2.4"/></g>
<path d="M67.7,373.6 L85.3,373.6" stroke="#f4a47a" stroke-width="3.0" stroke-linecap="round" fill="none"/>
<path d="M148.1,317.4 L148.1,326.9" stroke="#f4a47a" stroke-width="3.0" stroke-linecap="round" fill="none"/>
<path d="M148.1,330.3 L148.1,377.7" stroke="#a6d8a4" stroke-width="3.0" stroke-linecap="round" fill="none"/>
<g fill="#f4a47a" style="stroke:none"><circle style="stroke:none" cx="154.3" cy="321.0" r="2.4"/><circle style="stroke:none" cx="157.9" cy="320.7" r="2.4"/><circle style="stroke:none" cx="161.9" cy="321.3" r="2.4"/><circle style="stroke:none" cx="166.1" cy="320.6" r="2.4"/><circle style="stroke:none" cx="168.3" cy="321.1" r="2.4"/><circle style="stroke:none" cx="173.2" cy="321.5" r="2.4"/><circle style="stroke:none" cx="152.6" cy="324.5" r="2.4"/><circle style="stroke:none" cx="157.0" cy="324.9" r="2.4"/><circle style="stroke:none" cx="159.4" cy="324.7" r="2.4"/><circle style="stroke:none" cx="163.6" cy="325.0" r="2.4"/><circle style="stroke:none" cx="167.6" cy="324.9" r="2.4"/><circle style="stroke:none" cx="171.4" cy="323.7" r="2.4"/><circle style="stroke:none" cx="174.7" cy="324.6" r="2.4"/><circle style="stroke:none" cx="153.9" cy="327.7" r="2.4"/><circle style="stroke:none" cx="157.8" cy="327.0" r="2.4"/><circle style="stroke:none" cx="161.1" cy="327.8" r="2.4"/><circle style="stroke:none" cx="168.8" cy="327.8" r="2.4"/><circle style="stroke:none" cx="173.2" cy="327.2" r="2.4"/><circle style="stroke:none" cx="153.0" cy="330.0" r="2.4"/><circle style="stroke:none" cx="155.7" cy="330.5" r="2.4"/><circle style="stroke:none" cx="160.5" cy="329.8" r="2.4"/><circle style="stroke:none" cx="162.9" cy="330.2" r="2.4"/><circle style="stroke:none" cx="166.9" cy="330.3" r="2.4"/><circle style="stroke:none" cx="170.3" cy="331.1" r="2.4"/><circle style="stroke:none" cx="175.0" cy="331.2" r="2.4"/><circle style="stroke:none" cx="153.8" cy="334.2" r="2.4"/><circle style="stroke:none" cx="158.2" cy="333.6" r="2.4"/><circle style="stroke:none" cx="162.0" cy="334.1" r="2.4"/><circle style="stroke:none" cx="165.2" cy="333.8" r="2.4"/><circle style="stroke:none" cx="168.5" cy="334.4" r="2.4"/><circle style="stroke:none" cx="177.0" cy="333.5" r="2.4"/><circle style="stroke:none" cx="163.6" cy="336.3" r="2.4"/><circle style="stroke:none" cx="167.5" cy="337.2" r="2.4"/><circle style="stroke:none" cx="170.5" cy="336.4" r="2.4"/><circle style="stroke:none" cx="174.0" cy="336.4" r="2.4"/><circle style="stroke:none" cx="178.0" cy="336.8" r="2.4"/><circle style="stroke:none" cx="165.7" cy="339.5" r="2.4"/><circle style="stroke:none" cx="169.1" cy="340.4" r="2.4"/><circle style="stroke:none" cx="177.0" cy="340.7" r="2.4"/><circle style="stroke:none" cx="180.2" cy="339.3" r="2.4"/><circle style="stroke:none" cx="170.0" cy="343.8" r="2.4"/><circle style="stroke:none" cx="174.6" cy="342.8" r="2.4"/><circle style="stroke:none" cx="177.4" cy="343.4" r="2.4"/></g>
<g fill="#a6d8a4" style="stroke:none"><circle style="stroke:none" cx="153.8" cy="337.6" r="2.4"/><circle style="stroke:none" cx="158.9" cy="338.6" r="2.4"/><circle style="stroke:none" cx="152.1" cy="340.6" r="2.4"/><circle style="stroke:none" cx="156.9" cy="341.2" r="2.4"/><circle style="stroke:none" cx="164.1" cy="341.2" r="2.4"/><circle style="stroke:none" cx="154.0" cy="343.7" r="2.4"/><circle style="stroke:none" cx="158.2" cy="343.9" r="2.4"/><circle style="stroke:none" cx="161.0" cy="345.1" r="2.4"/><circle style="stroke:none" cx="166.2" cy="345.2" r="2.4"/><circle style="stroke:none" cx="153.2" cy="347.3" r="2.4"/><circle style="stroke:none" cx="157.0" cy="346.9" r="2.4"/><circle style="stroke:none" cx="159.5" cy="347.7" r="2.4"/><circle style="stroke:none" cx="162.8" cy="348.1" r="2.4"/><circle style="stroke:none" cx="167.1" cy="346.8" r="2.4"/><circle style="stroke:none" cx="170.9" cy="346.8" r="2.4"/><circle style="stroke:none" cx="154.8" cy="351.3" r="2.4"/><circle style="stroke:none" cx="158.4" cy="350.2" r="2.4"/><circle style="stroke:none" cx="162.5" cy="350.5" r="2.4"/><circle style="stroke:none" cx="165.6" cy="350.0" r="2.4"/><circle style="stroke:none" cx="168.9" cy="350.8" r="2.4"/><circle style="stroke:none" cx="173.0" cy="350.6" r="2.4"/><circle style="stroke:none" cx="176.6" cy="349.9" r="2.4"/><circle style="stroke:none" cx="179.6" cy="351.0" r="2.4"/><circle style="stroke:none" cx="183.0" cy="350.9" r="2.4"/><circle style="stroke:none" cx="187.0" cy="350.1" r="2.4"/><circle style="stroke:none" cx="153.0" cy="353.0" r="2.4"/><circle style="stroke:none" cx="157.2" cy="353.3" r="2.4"/><circle style="stroke:none" cx="160.5" cy="354.3" r="2.4"/><circle style="stroke:none" cx="164.0" cy="353.0" r="2.4"/><circle style="stroke:none" cx="168.0" cy="354.3" r="2.4"/><circle style="stroke:none" cx="170.0" cy="353.4" r="2.4"/><circle style="stroke:none" cx="178.3" cy="354.5" r="2.4"/><circle style="stroke:none" cx="182.3" cy="353.4" r="2.4"/><circle style="stroke:none" cx="184.4" cy="354.2" r="2.4"/><circle style="stroke:none" cx="189.6" cy="354.1" r="2.4"/><circle style="stroke:none" cx="155.1" cy="356.4" r="2.4"/><circle style="stroke:none" cx="157.5" cy="357.4" r="2.4"/><circle style="stroke:none" cx="162.5" cy="356.1" r="2.4"/><circle style="stroke:none" cx="165.5" cy="357.5" r="2.4"/><circle style="stroke:none" cx="169.2" cy="357.1" r="2.4"/><circle style="stroke:none" cx="171.9" cy="356.2" r="2.4"/><circle style="stroke:none" cx="175.8" cy="356.7" r="2.4"/><circle style="stroke:none" cx="180.2" cy="356.1" r="2.4"/><circle style="stroke:none" cx="183.9" cy="356.9" r="2.4"/><circle style="stroke:none" cx="187.3" cy="356.4" r="2.4"/><circle style="stroke:none" cx="189.9" cy="357.7" r="2.4"/><circle style="stroke:none" cx="152.5" cy="359.4" r="2.4"/><circle style="stroke:none" cx="157.0" cy="360.6" r="2.4"/><circle style="stroke:none" cx="159.8" cy="359.7" r="2.4"/><circle style="stroke:none" cx="163.0" cy="360.2" r="2.4"/><circle style="stroke:none" cx="170.0" cy="359.3" r="2.4"/><circle style="stroke:none" cx="174.7" cy="360.2" r="2.4"/><circle style="stroke:none" cx="177.9" cy="359.9" r="2.4"/><circle style="stroke:none" cx="181.9" cy="360.8" r="2.4"/><circle style="stroke:none" cx="185.7" cy="360.8" r="2.4"/><circle style="stroke:none" cx="189.2" cy="359.3" r="2.4"/><circle style="stroke:none" cx="155.2" cy="363.1" r="2.4"/><circle style="stroke:none" cx="157.7" cy="363.9" r="2.4"/><circle style="stroke:none" cx="162.2" cy="362.8" r="2.4"/><circle style="stroke:none" cx="165.1" cy="362.9" r="2.4"/><circle style="stroke:none" cx="168.9" cy="364.0" r="2.4"/><circle style="stroke:none" cx="173.3" cy="363.6" r="2.4"/><circle style="stroke:none" cx="177.0" cy="363.6" r="2.4"/><circle style="stroke:none" cx="179.4" cy="363.0" r="2.4"/><circle style="stroke:none" cx="152.3" cy="367.0" r="2.4"/><circle style="stroke:none" cx="160.5" cy="366.8" r="2.4"/><circle style="stroke:none" cx="164.1" cy="366.4" r="2.4"/><circle style="stroke:none" cx="167.8" cy="366.0" r="2.4"/><circle style="stroke:none" cx="170.6" cy="366.4" r="2.4"/><circle style="stroke:none" cx="178.1" cy="366.6" r="2.4"/><circle style="stroke:none" cx="155.3" cy="369.3" r="2.4"/><circle style="stroke:none" cx="158.5" cy="370.2" r="2.4"/><circle style="stroke:none" cx="161.3" cy="369.1" r="2.4"/><circle style="stroke:none" cx="164.6" cy="369.0" r="2.4"/><circle style="stroke:none" cx="169.8" cy="368.9" r="2.4"/><circle style="stroke:none" cx="172.9" cy="369.8" r="2.4"/><circle style="stroke:none" cx="153.2" cy="372.2" r="2.4"/><circle style="stroke:none" cx="155.6" cy="372.9" r="2.4"/><circle style="stroke:none" cx="159.6" cy="373.4" r="2.4"/><circle style="stroke:none" cx="163.8" cy="372.8" r="2.4"/><circle style="stroke:none" cx="167.5" cy="372.3" r="2.4"/><circle style="stroke:none" cx="170.1" cy="371.8" r="2.4"/><circle style="stroke:none" cx="154.0" cy="375.1" r="2.4"/><circle style="stroke:none" cx="159.0" cy="376.0" r="2.4"/><circle style="stroke:none" cx="162.3" cy="375.2" r="2.4"/><circle style="stroke:none" cx="165.1" cy="375.6" r="2.4"/><circle style="stroke:none" cx="168.9" cy="376.1" r="2.4"/></g>
<path d="M171.8,373.6 L190.7,373.6" stroke="#f4a47a" stroke-width="3.0" stroke-linecap="round" fill="none"/>
<path d="M248.9,317.2 L248.9,327.6" stroke="#f4a47a" stroke-width="3.0" stroke-linecap="round" fill="none"/>
<path d="M248.9,330.2 L248.9,376.4" stroke="#a6d8a4" stroke-width="3.0" stroke-linecap="round" fill="none"/>
<path d="M257.1,318.0 L257.1,327.6" stroke="#f4a47a" stroke-width="3.0" stroke-linecap="round" fill="none"/>
<path d="M257.1,330.2 L257.1,376.4" stroke="#a6d8a4" stroke-width="3.0" stroke-linecap="round" fill="none"/>
<path d="M266.0,318.0 L266.0,333.7" stroke="#f4a47a" stroke-width="3.0" stroke-linecap="round" fill="none"/>
<path d="M266.0,336.0 L266.0,376.4" stroke="#a6d8a4" stroke-width="3.0" stroke-linecap="round" fill="none"/>
<path d="M274.2,318.5 L274.2,335.0" stroke="#f4a47a" stroke-width="3.0" stroke-linecap="round" fill="none"/>
<path d="M274.2,337.2 L274.2,365.9" stroke="#a6d8a4" stroke-width="3.0" stroke-linecap="round" fill="none"/>
<path d="M274.2,371.2 L274.2,376.4" stroke="#f4a47a" stroke-width="3.0" stroke-linecap="round" fill="none"/>
<path d="M282.0,330.2 L282.0,337.2" stroke="#f4a47a" stroke-width="3.0" stroke-linecap="round" fill="none"/>
<path d="M282.0,339.0 L282.0,360.0" stroke="#a6d8a4" stroke-width="3.0" stroke-linecap="round" fill="none"/>
<path d="M282.0,363.5 L282.0,376.4" stroke="#f4a47a" stroke-width="3.0" stroke-linecap="round" fill="none"/>
<path d="M290.2,339.8 L290.2,360.7" stroke="#a6d8a4" stroke-width="3.0" stroke-linecap="round" fill="none"/>
<path d="M290.2,365.0 L290.2,376.4" stroke="#f4a47a" stroke-width="3.0" stroke-linecap="round" fill="none"/>
<path d="M298.2,352.9 L298.2,356.4" stroke="#a6d8a4" stroke-width="3.0" stroke-linecap="round" fill="none"/>
<path d="M298.2,370.0 L298.2,376.4" stroke="#f4a47a" stroke-width="3.0" stroke-linecap="round" fill="none"/>
<path d="M306.9,368.5 L306.9,371.2" stroke="#a8bce0" stroke-width="3.0" stroke-linecap="round" fill="none"/>
<path d="M446.9,326.8 L446.9,376.4" stroke="#a8bce0" stroke-width="3.0" stroke-linecap="round" fill="none"/>
<path d="M476.7,317.2 L476.7,378.1" stroke="#f4a47a" stroke-width="3.0" stroke-linecap="round" fill="none"/>
<path d="M507.1,329.4 L507.1,377.2" stroke="#a6d8a4" stroke-width="3.0" stroke-linecap="round" fill="none"/>
<path d="M48.1,417.6 L106.5,417.6" stroke="#a6d8a4" stroke-width="3.0" stroke-linecap="round" fill="none"/>
<path d="M48.1,447.9 L106.5,447.9" stroke="#f4a47a" stroke-width="3.0" stroke-linecap="round" fill="none"/>
<path d="M48.1,476.9 L107.0,476.9" stroke="#a8bce0" stroke-width="3.0" stroke-linecap="round" fill="none"/>
<path d="M148.1,417.6 L192.5,417.6" stroke="#a6d8a4" stroke-width="3.0" stroke-linecap="round" fill="none"/>
<path d="M148.1,447.9 L190.7,447.9" stroke="#f4a47a" stroke-width="3.0" stroke-linecap="round" fill="none"/>
<path d="M148.1,476.9 L190.7,476.9" stroke="#a8bce0" stroke-width="3.0" stroke-linecap="round" fill="none"/>
<path d="M349.4,417.6 L393.6,417.6" stroke="#a6d8a4" stroke-width="3.0" stroke-linecap="round" fill="none"/>
<path d="M349.4,447.9 L403.3,447.9" stroke="#f4a47a" stroke-width="3.0" stroke-linecap="round" fill="none"/>
<path d="M349.4,476.9 L395.8,476.9" stroke="#a8bce0" stroke-width="3.0" stroke-linecap="round" fill="none"/><path d="M45.60,83.00 C45.70,81.83 45.95,82.33 46.20,76.00 C46.45,69.67 46.80,54.75 47.10,45.00 C47.40,35.25 47.70,17.50 48.00,17.50 C48.30,17.50 48.57,36.25 48.90,45.00 C49.23,53.75 49.72,65.08 50.00,70.00 C50.28,74.92 50.40,75.50 50.60,74.50 C50.80,73.50 50.98,66.72 51.20,64.00 C51.42,61.28 51.60,58.20 51.90,58.20 C52.20,58.20 52.57,61.95 53.00,64.00 C53.43,66.05 54.00,68.75 54.50,70.50 C55.00,72.25 55.08,73.12 56.00,74.50 C56.92,75.88 58.33,77.58 60.00,78.80 C61.67,80.02 63.50,81.13 66.00,81.80 C68.50,82.47 67.17,82.60 75.00,82.80 C82.83,83.00 106.67,82.97 113.00,83.00 L113.00,83.0 L45.60,83.0 Z" fill="#dc5e1a" fill-opacity="0.28" stroke="none"/>
<path d="M45.60,83.00 C45.70,81.83 45.95,82.33 46.20,76.00 C46.45,69.67 46.80,54.75 47.10,45.00 C47.40,35.25 47.70,17.50 48.00,17.50 C48.30,17.50 48.57,36.25 48.90,45.00 C49.23,53.75 49.72,65.08 50.00,70.00 C50.28,74.92 50.40,75.50 50.60,74.50 C50.80,73.50 50.98,66.72 51.20,64.00 C51.42,61.28 51.60,58.20 51.90,58.20 C52.20,58.20 52.57,61.95 53.00,64.00 C53.43,66.05 54.00,68.75 54.50,70.50 C55.00,72.25 55.08,73.12 56.00,74.50 C56.92,75.88 58.33,77.58 60.00,78.80 C61.67,80.02 63.50,81.13 66.00,81.80 C68.50,82.47 67.17,82.60 75.00,82.80 C82.83,83.00 106.67,82.97 113.00,83.00" fill="none" stroke="#dc5e1a" stroke-width="1.2" stroke-linejoin="round"/>
<path d="M45.60,83.00 C45.70,81.83 45.95,82.33 46.20,76.00 C46.45,69.67 46.80,54.75 47.10,45.00 C47.40,35.25 47.70,17.50 48.00,17.50 C48.30,17.50 48.55,36.25 48.90,45.00 C49.25,53.75 49.77,64.85 50.10,70.00 C50.43,75.15 50.53,75.57 50.90,75.90 C51.27,76.23 51.77,72.97 52.30,72.00 C52.83,71.03 53.15,69.85 54.10,70.10 C55.05,70.35 56.68,72.27 58.00,73.50 C59.32,74.73 60.17,76.15 62.00,77.50 C63.83,78.85 66.00,80.75 69.00,81.60 C72.00,82.45 73.50,82.43 80.00,82.60 C86.50,82.77 102.50,82.53 108.00,82.60 C113.50,82.67 112.17,82.93 113.00,83.00 L113.00,83.0 L45.60,83.0 Z" fill="#1f4a86" fill-opacity="0.12" stroke="none"/>
<path d="M45.60,83.00 C45.70,81.83 45.95,82.33 46.20,76.00 C46.45,69.67 46.80,54.75 47.10,45.00 C47.40,35.25 47.70,17.50 48.00,17.50 C48.30,17.50 48.55,36.25 48.90,45.00 C49.25,53.75 49.77,64.85 50.10,70.00 C50.43,75.15 50.53,75.57 50.90,75.90 C51.27,76.23 51.77,72.97 52.30,72.00 C52.83,71.03 53.15,69.85 54.10,70.10 C55.05,70.35 56.68,72.27 58.00,73.50 C59.32,74.73 60.17,76.15 62.00,77.50 C63.83,78.85 66.00,80.75 69.00,81.60 C72.00,82.45 73.50,82.43 80.00,82.60 C86.50,82.77 102.50,82.53 108.00,82.60 C113.50,82.67 112.17,82.93 113.00,83.00" fill="none" stroke="#1f4a86" stroke-width="1.2" stroke-linejoin="round"/>
<path d="M45.60,83.00 C45.70,81.83 45.95,82.33 46.20,76.00 C46.45,69.67 46.80,54.80 47.10,45.00 C47.40,35.20 47.70,17.20 48.00,17.20 C48.30,17.20 48.55,36.20 48.90,45.00 C49.25,53.80 49.77,64.75 50.10,70.00 C50.43,75.25 50.53,76.00 50.90,76.50 C51.27,77.00 51.77,73.92 52.30,73.00 C52.83,72.08 53.15,70.75 54.10,71.00 C55.05,71.25 56.68,73.28 58.00,74.50 C59.32,75.72 60.17,77.12 62.00,78.30 C63.83,79.48 66.00,80.88 69.00,81.60 C72.00,82.32 73.50,82.48 80.00,82.60 C86.50,82.72 102.50,82.23 108.00,82.30 C113.50,82.37 112.17,82.88 113.00,83.00 L113.00,83.0 L45.60,83.0 Z" fill="#1d7024" fill-opacity="0.3" stroke="none"/>
<path d="M45.60,83.00 C45.70,81.83 45.95,82.33 46.20,76.00 C46.45,69.67 46.80,54.80 47.10,45.00 C47.40,35.20 47.70,17.20 48.00,17.20 C48.30,17.20 48.55,36.20 48.90,45.00 C49.25,53.80 49.77,64.75 50.10,70.00 C50.43,75.25 50.53,76.00 50.90,76.50 C51.27,77.00 51.77,73.92 52.30,73.00 C52.83,72.08 53.15,70.75 54.10,71.00 C55.05,71.25 56.68,73.28 58.00,74.50 C59.32,75.72 60.17,77.12 62.00,78.30 C63.83,79.48 66.00,80.88 69.00,81.60 C72.00,82.32 73.50,82.48 80.00,82.60 C86.50,82.72 102.50,82.23 108.00,82.30 C113.50,82.37 112.17,82.88 113.00,83.00" fill="none" stroke="#1d7024" stroke-width="1.2" stroke-linejoin="round"/>
<path d="M145.40,182.80 C145.50,181.67 145.78,182.30 146.00,176.00 C146.22,169.70 146.45,154.80 146.70,145.00 C146.95,135.20 147.23,117.20 147.50,117.20 C147.77,117.20 148.03,136.20 148.30,145.00 C148.57,153.80 148.78,164.08 149.10,170.00 C149.42,175.92 149.75,180.17 150.20,180.50 C150.65,180.83 151.30,176.25 151.80,172.00 C152.30,167.75 152.75,159.93 153.20,155.00 C153.65,150.07 154.07,142.90 154.50,142.40 C154.93,141.90 155.33,148.23 155.80,152.00 C156.27,155.77 156.77,161.50 157.30,165.00 C157.83,168.50 158.22,170.83 159.00,173.00 C159.78,175.17 160.17,176.58 162.00,178.00 C163.83,179.42 165.33,180.75 170.00,181.50 C174.67,182.25 182.83,182.30 190.00,182.50 C197.17,182.70 209.17,182.67 213.00,182.70 L213.00,182.8 L145.40,182.8 Z" fill="#dc5e1a" fill-opacity="0.28" stroke="none"/>
<path d="M145.40,182.80 C145.50,181.67 145.78,182.30 146.00,176.00 C146.22,169.70 146.45,154.80 146.70,145.00 C146.95,135.20 147.23,117.20 147.50,117.20 C147.77,117.20 148.03,136.20 148.30,145.00 C148.57,153.80 148.78,164.08 149.10,170.00 C149.42,175.92 149.75,180.17 150.20,180.50 C150.65,180.83 151.30,176.25 151.80,172.00 C152.30,167.75 152.75,159.93 153.20,155.00 C153.65,150.07 154.07,142.90 154.50,142.40 C154.93,141.90 155.33,148.23 155.80,152.00 C156.27,155.77 156.77,161.50 157.30,165.00 C157.83,168.50 158.22,170.83 159.00,173.00 C159.78,175.17 160.17,176.58 162.00,178.00 C163.83,179.42 165.33,180.75 170.00,181.50 C174.67,182.25 182.83,182.30 190.00,182.50 C197.17,182.70 209.17,182.67 213.00,182.70" fill="none" stroke="#dc5e1a" stroke-width="1.2" stroke-linejoin="round"/>
<path d="M145.40,182.80 C145.50,181.67 145.78,182.30 146.00,176.00 C146.22,169.70 146.45,154.80 146.70,145.00 C146.95,135.20 147.23,117.20 147.50,117.20 C147.77,117.20 148.03,136.20 148.30,145.00 C148.57,153.80 148.78,164.08 149.10,170.00 C149.42,175.92 149.55,180.17 150.20,180.50 C150.85,180.83 152.05,175.58 153.00,172.00 C153.95,168.42 155.07,160.00 155.90,159.00 C156.73,158.00 157.15,163.67 158.00,166.00 C158.85,168.33 159.67,170.92 161.00,173.00 C162.33,175.08 163.67,177.08 166.00,178.50 C168.33,179.92 170.17,180.83 175.00,181.50 C179.83,182.17 188.67,182.30 195.00,182.50 C201.33,182.70 210.00,182.67 213.00,182.70 L213.00,182.8 L145.40,182.8 Z" fill="#1f4a86" fill-opacity="0.12" stroke="none"/>
<path d="M145.40,182.80 C145.50,181.67 145.78,182.30 146.00,176.00 C146.22,169.70 146.45,154.80 146.70,145.00 C146.95,135.20 147.23,117.20 147.50,117.20 C147.77,117.20 148.03,136.20 148.30,145.00 C148.57,153.80 148.78,164.08 149.10,170.00 C149.42,175.92 149.55,180.17 150.20,180.50 C150.85,180.83 152.05,175.58 153.00,172.00 C153.95,168.42 155.07,160.00 155.90,159.00 C156.73,158.00 157.15,163.67 158.00,166.00 C158.85,168.33 159.67,170.92 161.00,173.00 C162.33,175.08 163.67,177.08 166.00,178.50 C168.33,179.92 170.17,180.83 175.00,181.50 C179.83,182.17 188.67,182.30 195.00,182.50 C201.33,182.70 210.00,182.67 213.00,182.70" fill="none" stroke="#1f4a86" stroke-width="1.2" stroke-linejoin="round"/>
<path d="M145.40,182.80 C145.50,181.67 145.78,182.30 146.00,176.00 C146.22,169.70 146.45,154.80 146.70,145.00 C146.95,135.20 147.23,117.20 147.50,117.20 C147.77,117.20 148.03,136.20 148.30,145.00 C148.57,153.80 148.78,164.08 149.10,170.00 C149.42,175.92 149.55,180.00 150.20,180.50 C150.85,181.00 152.05,176.42 153.00,173.00 C153.95,169.58 155.07,161.00 155.90,160.00 C156.73,159.00 157.15,164.67 158.00,167.00 C158.85,169.33 159.67,172.00 161.00,174.00 C162.33,176.00 163.67,177.75 166.00,179.00 C168.33,180.25 170.17,180.95 175.00,181.50 C179.83,182.05 188.67,182.10 195.00,182.30 C201.33,182.50 210.00,182.63 213.00,182.70 L213.00,182.8 L145.40,182.8 Z" fill="#1d7024" fill-opacity="0.3" stroke="none"/>
<path d="M145.40,182.80 C145.50,181.67 145.78,182.30 146.00,176.00 C146.22,169.70 146.45,154.80 146.70,145.00 C146.95,135.20 147.23,117.20 147.50,117.20 C147.77,117.20 148.03,136.20 148.30,145.00 C148.57,153.80 148.78,164.08 149.10,170.00 C149.42,175.92 149.55,180.00 150.20,180.50 C150.85,181.00 152.05,176.42 153.00,173.00 C153.95,169.58 155.07,161.00 155.90,160.00 C156.73,159.00 157.15,164.67 158.00,167.00 C158.85,169.33 159.67,172.00 161.00,174.00 C162.33,176.00 163.67,177.75 166.00,179.00 C168.33,180.25 170.17,180.95 175.00,181.50 C179.83,182.05 188.67,182.10 195.00,182.30 C201.33,182.50 210.00,182.63 213.00,182.70" fill="none" stroke="#1d7024" stroke-width="1.2" stroke-linejoin="round"/>
<path d="M244.50,282.30 L245.20,282.30 L246.40,274.51 L247.40,260.65 L248.15,244.20 L248.60,239.00 L249.05,244.20 L249.80,260.65 L250.80,274.51 L252.00,282.30 L253.40,282.30 L254.60,275.10 L255.60,262.30 L256.35,247.10 L256.80,242.30 L257.25,247.10 L258.00,262.30 L259.00,275.10 L260.20,282.30 L261.50,282.30 L262.70,276.54 L263.70,266.30 L264.45,254.14 L264.90,250.30 L265.35,254.14 L266.10,266.30 L267.10,276.54 L268.30,282.30 L269.80,282.30 L271.00,277.69 L272.00,269.50 L272.75,259.77 L273.20,256.70 L273.65,259.77 L274.40,269.50 L275.40,277.69 L276.60,282.30 L278.00,282.30 L279.20,281.40 L280.20,279.80 L280.95,277.90 L281.40,277.30 L281.85,277.90 L282.60,279.80 L283.60,281.40 L284.80,282.30 L286.40,282.30 L287.60,282.12 L288.60,281.80 L289.35,281.42 L289.80,281.30 L290.25,281.42 L291.00,281.80 L292.00,282.12 L293.20,282.30 L313.00,282.30 Z" fill="#1f4a86" fill-opacity="0.08" stroke="none"/>
<path d="M244.50,282.30 L245.20,282.30 L246.40,274.51 L247.40,260.65 L248.15,244.20 L248.60,239.00 L249.05,244.20 L249.80,260.65 L250.80,274.51 L252.00,282.30 L253.40,282.30 L254.60,275.10 L255.60,262.30 L256.35,247.10 L256.80,242.30 L257.25,247.10 L258.00,262.30 L259.00,275.10 L260.20,282.30 L261.50,282.30 L262.70,276.54 L263.70,266.30 L264.45,254.14 L264.90,250.30 L265.35,254.14 L266.10,266.30 L267.10,276.54 L268.30,282.30 L269.80,282.30 L271.00,277.69 L272.00,269.50 L272.75,259.77 L273.20,256.70 L273.65,259.77 L274.40,269.50 L275.40,277.69 L276.60,282.30 L278.00,282.30 L279.20,281.40 L280.20,279.80 L280.95,277.90 L281.40,277.30 L281.85,277.90 L282.60,279.80 L283.60,281.40 L284.80,282.30 L286.40,282.30 L287.60,282.12 L288.60,281.80 L289.35,281.42 L289.80,281.30 L290.25,281.42 L291.00,281.80 L292.00,282.12 L293.20,282.30 L313.00,282.30" fill="none" stroke="#1f4a86" stroke-width="1.2" stroke-linejoin="round"/>
<path d="M244.50,282.30 L245.20,282.30 L246.40,276.32 L247.40,265.70 L248.15,253.08 L248.60,249.10 L249.05,253.08 L249.80,265.70 L250.80,276.32 L252.00,282.30 L253.40,282.30 L254.60,270.46 L255.60,249.40 L256.35,224.40 L256.80,216.50 L257.25,224.40 L258.00,249.40 L259.00,270.46 L260.20,282.30 L261.50,282.30 L262.70,272.54 L263.70,255.20 L264.45,234.60 L264.90,228.10 L265.35,234.60 L266.10,255.20 L267.10,272.54 L268.30,282.30 L269.80,282.30 L271.00,279.06 L272.00,273.30 L272.75,266.46 L273.20,264.30 L273.65,266.46 L274.40,273.30 L275.40,279.06 L276.60,282.30 L278.00,282.30 L279.20,281.40 L280.20,279.80 L280.95,277.90 L281.40,277.30 L281.85,277.90 L282.60,279.80 L283.60,281.40 L284.80,282.30 L286.40,282.30 L287.60,282.12 L288.60,281.80 L289.35,281.42 L289.80,281.30 L290.25,281.42 L291.00,281.80 L292.00,282.12 L293.20,282.30 L313.00,282.30 Z" fill="#dc5e1a" fill-opacity="0.2" stroke="none"/>
<path d="M244.50,282.30 L245.20,282.30 L246.40,276.32 L247.40,265.70 L248.15,253.08 L248.60,249.10 L249.05,253.08 L249.80,265.70 L250.80,276.32 L252.00,282.30 L253.40,282.30 L254.60,270.46 L255.60,249.40 L256.35,224.40 L256.80,216.50 L257.25,224.40 L258.00,249.40 L259.00,270.46 L260.20,282.30 L261.50,282.30 L262.70,272.54 L263.70,255.20 L264.45,234.60 L264.90,228.10 L265.35,234.60 L266.10,255.20 L267.10,272.54 L268.30,282.30 L269.80,282.30 L271.00,279.06 L272.00,273.30 L272.75,266.46 L273.20,264.30 L273.65,266.46 L274.40,273.30 L275.40,279.06 L276.60,282.30 L278.00,282.30 L279.20,281.40 L280.20,279.80 L280.95,277.90 L281.40,277.30 L281.85,277.90 L282.60,279.80 L283.60,281.40 L284.80,282.30 L286.40,282.30 L287.60,282.12 L288.60,281.80 L289.35,281.42 L289.80,281.30 L290.25,281.42 L291.00,281.80 L292.00,282.12 L293.20,282.30 L313.00,282.30" fill="none" stroke="#dc5e1a" stroke-width="1.2" stroke-linejoin="round"/>
<path d="M244.50,282.30 L245.20,282.30 L246.40,276.59 L247.40,266.45 L248.15,254.40 L248.60,250.60 L249.05,254.40 L249.80,266.45 L250.80,276.59 L252.00,282.30 L253.40,282.30 L254.60,275.03 L255.60,262.10 L256.35,246.75 L256.80,241.90 L257.25,246.75 L258.00,262.10 L259.00,275.03 L260.20,282.30 L261.50,282.30 L262.70,276.47 L263.70,266.10 L264.45,253.79 L264.90,249.90 L265.35,253.79 L266.10,266.10 L267.10,276.47 L268.30,282.30 L269.80,282.30 L271.00,279.58 L272.00,274.75 L272.75,269.01 L273.20,267.20 L273.65,269.01 L274.40,274.75 L275.40,279.58 L276.60,282.30 L278.00,282.30 L279.20,281.24 L280.20,279.35 L280.95,277.11 L281.40,276.40 L281.85,277.11 L282.60,279.35 L283.60,281.24 L284.80,282.30 L286.40,282.30 L287.60,282.07 L288.60,281.65 L289.35,281.16 L289.80,281.00 L290.25,281.16 L291.00,281.65 L292.00,282.07 L293.20,282.30 L313.00,282.30 Z" fill="#1d7024" fill-opacity="0.2" stroke="none"/>
<path d="M244.50,282.30 L245.20,282.30 L246.40,276.59 L247.40,266.45 L248.15,254.40 L248.60,250.60 L249.05,254.40 L249.80,266.45 L250.80,276.59 L252.00,282.30 L253.40,282.30 L254.60,275.03 L255.60,262.10 L256.35,246.75 L256.80,241.90 L257.25,246.75 L258.00,262.10 L259.00,275.03 L260.20,282.30 L261.50,282.30 L262.70,276.47 L263.70,266.10 L264.45,253.79 L264.90,249.90 L265.35,253.79 L266.10,266.10 L267.10,276.47 L268.30,282.30 L269.80,282.30 L271.00,279.58 L272.00,274.75 L272.75,269.01 L273.20,267.20 L273.65,269.01 L274.40,274.75 L275.40,279.58 L276.60,282.30 L278.00,282.30 L279.20,281.24 L280.20,279.35 L280.95,277.11 L281.40,276.40 L281.85,277.11 L282.60,279.35 L283.60,281.24 L284.80,282.30 L286.40,282.30 L287.60,282.07 L288.60,281.65 L289.35,281.16 L289.80,281.00 L290.25,281.16 L291.00,281.65 L292.00,282.07 L293.20,282.30 L313.00,282.30" fill="none" stroke="#1d7024" stroke-width="1.2" stroke-linejoin="round"/>
<path d="M343.50,381.90 C344.92,381.42 348.92,380.15 352.00,379.00 C355.08,377.85 358.67,377.67 362.00,375.00 C365.33,372.33 369.25,366.55 372.00,363.00 C374.75,359.45 376.67,355.87 378.50,353.70 C380.33,351.53 381.55,351.00 383.00,350.00 C384.45,349.00 386.03,347.37 387.20,347.70 C388.37,348.03 389.12,351.00 390.00,352.00 C390.88,353.00 391.67,353.70 392.50,353.70 C393.33,353.70 394.13,351.42 395.00,352.00 C395.87,352.58 396.95,354.87 397.70,357.20 C398.45,359.53 398.92,363.10 399.50,366.00 C400.08,368.90 400.35,372.00 401.20,374.60 C402.05,377.20 403.47,380.38 404.60,381.60 C405.73,382.82 407.43,381.85 408.00,381.90 L408.00,381.9 L343.50,381.9 Z" fill="#f07a2a" fill-opacity="0.25" stroke="none"/>
<path d="M343.50,381.90 C344.92,381.42 348.92,380.15 352.00,379.00 C355.08,377.85 358.67,377.67 362.00,375.00 C365.33,372.33 369.25,366.55 372.00,363.00 C374.75,359.45 376.67,355.87 378.50,353.70 C380.33,351.53 381.55,351.00 383.00,350.00 C384.45,349.00 386.03,347.37 387.20,347.70 C388.37,348.03 389.12,351.00 390.00,352.00 C390.88,353.00 391.67,353.70 392.50,353.70 C393.33,353.70 394.13,351.42 395.00,352.00 C395.87,352.58 396.95,354.87 397.70,357.20 C398.45,359.53 398.92,363.10 399.50,366.00 C400.08,368.90 400.35,372.00 401.20,374.60 C402.05,377.20 403.47,380.38 404.60,381.60 C405.73,382.82 407.43,381.85 408.00,381.90" fill="none" stroke="#dc5e1a" stroke-width="1.2" stroke-linejoin="round"/>
<path d="M345.50,381.90 C346.25,381.58 348.08,381.32 350.00,380.00 C351.92,378.68 354.83,376.00 357.00,374.00 C359.17,372.00 361.17,370.83 363.00,368.00 C364.83,365.17 366.50,360.83 368.00,357.00 C369.50,353.17 370.75,348.75 372.00,345.00 C373.25,341.25 374.28,334.83 375.50,334.50 C376.72,334.17 378.22,342.42 379.30,343.00 C380.38,343.58 381.07,339.40 382.00,338.00 C382.93,336.60 384.07,333.43 384.90,334.60 C385.73,335.77 386.23,339.60 387.00,345.00 C387.77,350.40 388.67,361.17 389.50,367.00 C390.33,372.83 391.08,377.52 392.00,380.00 C392.92,382.48 394.50,381.58 395.00,381.90 L395.00,381.9 L345.50,381.9 Z" fill="#3f78c4" fill-opacity="0.16" stroke="none"/>
<path d="M345.50,381.90 C346.25,381.58 348.08,381.32 350.00,380.00 C351.92,378.68 354.83,376.00 357.00,374.00 C359.17,372.00 361.17,370.83 363.00,368.00 C364.83,365.17 366.50,360.83 368.00,357.00 C369.50,353.17 370.75,348.75 372.00,345.00 C373.25,341.25 374.28,334.83 375.50,334.50 C376.72,334.17 378.22,342.42 379.30,343.00 C380.38,343.58 381.07,339.40 382.00,338.00 C382.93,336.60 384.07,333.43 384.90,334.60 C385.73,335.77 386.23,339.60 387.00,345.00 C387.77,350.40 388.67,361.17 389.50,367.00 C390.33,372.83 391.08,377.52 392.00,380.00 C392.92,382.48 394.50,381.58 395.00,381.90" fill="none" stroke="#1f4a86" stroke-width="1.2" stroke-linejoin="round"/>
<path d="M345.50,381.90 C346.58,381.42 350.08,380.32 352.00,379.00 C353.92,377.68 355.33,375.67 357.00,374.00 C358.67,372.33 360.67,371.67 362.00,369.00 C363.33,366.33 364.08,363.17 365.00,358.00 C365.92,352.83 366.75,344.33 367.50,338.00 C368.25,331.67 368.97,323.62 369.50,320.00 C370.03,316.38 370.12,316.30 370.70,316.30 C371.28,316.30 372.28,317.72 373.00,320.00 C373.72,322.28 374.17,325.33 375.00,330.00 C375.83,334.67 376.83,342.17 378.00,348.00 C379.17,353.83 380.83,360.33 382.00,365.00 C383.17,369.67 384.00,373.33 385.00,376.00 C386.00,378.67 386.83,380.02 388.00,381.00 C389.17,381.98 391.33,381.75 392.00,381.90 L392.00,381.9 L345.50,381.9 Z" fill="#36a844" fill-opacity="0.28" stroke="none"/>
<path d="M345.50,381.90 C346.58,381.42 350.08,380.32 352.00,379.00 C353.92,377.68 355.33,375.67 357.00,374.00 C358.67,372.33 360.67,371.67 362.00,369.00 C363.33,366.33 364.08,363.17 365.00,358.00 C365.92,352.83 366.75,344.33 367.50,338.00 C368.25,331.67 368.97,323.62 369.50,320.00 C370.03,316.38 370.12,316.30 370.70,316.30 C371.28,316.30 372.28,317.72 373.00,320.00 C373.72,322.28 374.17,325.33 375.00,330.00 C375.83,334.67 376.83,342.17 378.00,348.00 C379.17,353.83 380.83,360.33 382.00,365.00 C383.17,369.67 384.00,373.33 385.00,376.00 C386.00,378.67 386.83,380.02 388.00,381.00 C389.17,381.98 391.33,381.75 392.00,381.90" fill="none" stroke="#1d7024" stroke-width="1.2" stroke-linejoin="round"/>
<circle cx="148.5" cy="78.4" r="1.75" fill="#083a0c"/>
<circle cx="159.6" cy="58.0" r="1.72" fill="#d2320c"/>
<circle cx="162.7" cy="52.0" r="1.72" fill="#d2320c"/>
<circle cx="165.9" cy="45.9" r="1.72" fill="#d2320c"/>
<circle cx="167.9" cy="42.1" r="1.72" fill="#d2320c"/>
<circle cx="169.0" cy="38.9" r="1.72" fill="#d2320c"/>
<circle cx="172.4" cy="32.9" r="1.72" fill="#d2320c"/>
<circle cx="173.8" cy="29.8" r="1.72" fill="#d2320c"/>
<circle cx="175.8" cy="25.6" r="1.72" fill="#d2320c"/>
<circle cx="163.4" cy="57.3" r="1.72" fill="#d2320c"/>
<circle cx="165.2" cy="53.9" r="1.72" fill="#d2320c"/>
<circle cx="166.8" cy="50.4" r="1.72" fill="#d2320c"/>
<circle cx="168.8" cy="47.3" r="1.72" fill="#d2320c"/>
<circle cx="170.2" cy="44.2" r="1.72" fill="#d2320c"/>
<circle cx="172.0" cy="40.9" r="1.72" fill="#d2320c"/>
<circle cx="174.2" cy="37.3" r="1.72" fill="#d2320c"/>
<circle cx="175.5" cy="33.9" r="1.72" fill="#d2320c"/>
<circle cx="177.7" cy="31.0" r="1.72" fill="#d2320c"/>
<circle cx="179.1" cy="27.5" r="1.72" fill="#d2320c"/>
<circle cx="180.9" cy="23.8" r="1.72" fill="#d2320c"/>
<circle cx="182.4" cy="20.9" r="1.72" fill="#d2320c"/>
<circle cx="173.4" cy="58.0" r="1.72" fill="#d2320c"/>
<circle cx="180.7" cy="49.3" r="1.72" fill="#d2320c"/>
<circle cx="184.0" cy="46.1" r="1.72" fill="#d2320c"/>
<circle cx="169.6" cy="65.2" r="1.72" fill="#d2320c"/>
<circle cx="171.9" cy="63.1" r="1.72" fill="#d2320c"/>
<circle cx="173.8" cy="60.9" r="1.72" fill="#d2320c"/>
<circle cx="175.8" cy="58.0" r="1.72" fill="#d2320c"/>
<circle cx="177.9" cy="55.5" r="1.72" fill="#d2320c"/>
<circle cx="180.3" cy="52.3" r="1.72" fill="#d2320c"/>
<circle cx="183.1" cy="49.2" r="1.72" fill="#d2320c"/>
<circle cx="185.7" cy="46.2" r="1.72" fill="#d2320c"/>
<circle cx="187.9" cy="43.4" r="1.72" fill="#d2320c"/>
<circle cx="189.4" cy="41.9" r="1.72" fill="#d2320c"/>
<circle cx="151.9" cy="72.2" r="1.72" fill="#083a0c"/>
<circle cx="153.5" cy="69.6" r="1.72" fill="#083a0c"/>
<circle cx="156.0" cy="65.7" r="1.72" fill="#083a0c"/>
<circle cx="158.4" cy="62.6" r="1.72" fill="#083a0c"/>
<circle cx="162.0" cy="56.5" r="1.72" fill="#083a0c"/>
<circle cx="164.3" cy="53.6" r="1.72" fill="#083a0c"/>
<circle cx="167.8" cy="48.0" r="1.72" fill="#083a0c"/>
<circle cx="181.4" cy="27.4" r="1.72" fill="#083a0c"/>
<circle cx="162.1" cy="71.2" r="1.72" fill="#083a0c"/>
<circle cx="165.6" cy="65.9" r="1.72" fill="#083a0c"/>
<circle cx="167.6" cy="63.0" r="1.72" fill="#083a0c"/>
<circle cx="173.9" cy="52.8" r="1.72" fill="#083a0c"/>
<circle cx="176.4" cy="49.7" r="1.72" fill="#083a0c"/>
<circle cx="178.6" cy="46.0" r="1.72" fill="#083a0c"/>
<circle cx="181.0" cy="41.7" r="1.72" fill="#083a0c"/>
<circle cx="183.9" cy="38.4" r="1.72" fill="#083a0c"/>
<circle cx="185.9" cy="35.4" r="1.72" fill="#083a0c"/>
<circle cx="187.5" cy="32.3" r="1.72" fill="#083a0c"/>
<circle cx="189.2" cy="29.6" r="1.72" fill="#083a0c"/>
<circle cx="191.5" cy="26.6" r="1.72" fill="#083a0c"/>
<circle cx="155.3" cy="74.0" r="1.72" fill="#083a0c"/>
<circle cx="157.0" cy="70.9" r="1.72" fill="#083a0c"/>
<circle cx="159.0" cy="67.3" r="1.72" fill="#083a0c"/>
<circle cx="161.4" cy="63.6" r="1.72" fill="#083a0c"/>
<circle cx="163.6" cy="60.8" r="1.72" fill="#083a0c"/>
<circle cx="165.2" cy="58.3" r="1.72" fill="#083a0c"/>
<circle cx="167.1" cy="55.2" r="1.72" fill="#083a0c"/>
<circle cx="169.0" cy="52.5" r="1.72" fill="#083a0c"/>
<circle cx="171.2" cy="49.0" r="1.72" fill="#083a0c"/>
<circle cx="172.9" cy="46.2" r="1.72" fill="#083a0c"/>
<circle cx="174.7" cy="43.5" r="1.72" fill="#083a0c"/>
<circle cx="176.6" cy="40.6" r="1.72" fill="#083a0c"/>
<circle cx="179.1" cy="37.2" r="1.72" fill="#083a0c"/>
<circle cx="180.8" cy="34.1" r="1.72" fill="#083a0c"/>
<circle cx="182.9" cy="30.9" r="1.72" fill="#083a0c"/>
<circle cx="185.1" cy="27.6" r="1.72" fill="#083a0c"/>
<circle cx="187.3" cy="24.0" r="1.72" fill="#083a0c"/>
<circle cx="188.6" cy="22.6" r="1.72" fill="#083a0c"/>
<circle cx="188.5" cy="19.5" r="1.4" fill="#081242"/>
<circle cx="207.2" cy="26.2" r="1.75" fill="#d2320c"/>
<circle cx="248.9" cy="78.5" r="1.75" fill="#083a0c"/>
<circle cx="257.1" cy="20.7" r="1.72" fill="#083a0c"/>
<circle cx="257.1" cy="25.3" r="1.72" fill="#083a0c"/>
<circle cx="257.1" cy="30.1" r="1.72" fill="#083a0c"/>
<circle cx="257.1" cy="33.8" r="1.72" fill="#083a0c"/>
<circle cx="257.1" cy="37.9" r="1.72" fill="#083a0c"/>
<circle cx="257.1" cy="42.7" r="1.72" fill="#083a0c"/>
<circle cx="257.1" cy="47.2" r="1.72" fill="#083a0c"/>
<circle cx="257.1" cy="50.8" r="1.72" fill="#083a0c"/>
<circle cx="257.1" cy="54.3" r="1.72" fill="#083a0c"/>
<circle cx="257.1" cy="58.3" r="1.72" fill="#083a0c"/>
<circle cx="257.1" cy="61.7" r="1.72" fill="#083a0c"/>
<circle cx="257.1" cy="65.4" r="1.72" fill="#083a0c"/>
<circle cx="257.1" cy="68.8" r="1.72" fill="#083a0c"/>
<circle cx="257.1" cy="73.1" r="1.72" fill="#083a0c"/>
<circle cx="257.1" cy="78.5" r="1.72" fill="#083a0c"/>
<circle cx="266.0" cy="18.5" r="1.72" fill="#083a0c"/>
<circle cx="266.0" cy="23.3" r="1.72" fill="#083a0c"/>
<circle cx="266.0" cy="26.8" r="1.72" fill="#083a0c"/>
<circle cx="266.0" cy="30.5" r="1.72" fill="#083a0c"/>
<circle cx="266.0" cy="33.9" r="1.72" fill="#083a0c"/>
<circle cx="266.0" cy="38.3" r="1.72" fill="#083a0c"/>
<circle cx="266.0" cy="42.1" r="1.72" fill="#083a0c"/>
<circle cx="266.0" cy="45.6" r="1.72" fill="#083a0c"/>
<circle cx="266.0" cy="49.6" r="1.72" fill="#083a0c"/>
<circle cx="266.0" cy="54.2" r="1.72" fill="#083a0c"/>
<circle cx="266.0" cy="58.8" r="1.72" fill="#083a0c"/>
<circle cx="266.0" cy="62.5" r="1.72" fill="#083a0c"/>
<circle cx="266.0" cy="66.0" r="1.72" fill="#083a0c"/>
<circle cx="266.0" cy="70.7" r="1.72" fill="#083a0c"/>
<circle cx="266.0" cy="74.9" r="1.72" fill="#083a0c"/>
<circle cx="266.0" cy="78.5" r="1.72" fill="#083a0c"/>
<circle cx="274.2" cy="20.7" r="1.72" fill="#083a0c"/>
<circle cx="274.2" cy="24.4" r="1.72" fill="#083a0c"/>
<circle cx="274.2" cy="27.8" r="1.72" fill="#083a0c"/>
<circle cx="274.2" cy="32.2" r="1.72" fill="#083a0c"/>
<circle cx="274.2" cy="36.3" r="1.72" fill="#083a0c"/>
<circle cx="274.2" cy="39.9" r="1.72" fill="#083a0c"/>
<circle cx="274.2" cy="44.0" r="1.72" fill="#083a0c"/>
<circle cx="274.2" cy="48.7" r="1.72" fill="#083a0c"/>
<circle cx="274.2" cy="52.2" r="1.72" fill="#083a0c"/>
<circle cx="274.2" cy="56.7" r="1.72" fill="#083a0c"/>
<circle cx="274.2" cy="60.7" r="1.72" fill="#083a0c"/>
<circle cx="274.2" cy="64.7" r="1.72" fill="#083a0c"/>
<circle cx="274.2" cy="69.3" r="1.72" fill="#083a0c"/>
<circle cx="274.2" cy="73.2" r="1.72" fill="#083a0c"/>
<circle cx="274.2" cy="78.5" r="1.72" fill="#083a0c"/>
<circle cx="282.0" cy="22.4" r="1.72" fill="#083a0c"/>
<circle cx="282.0" cy="26.2" r="1.72" fill="#083a0c"/>
<circle cx="282.0" cy="30.0" r="1.72" fill="#083a0c"/>
<circle cx="282.0" cy="33.4" r="1.72" fill="#083a0c"/>
<circle cx="282.0" cy="37.3" r="1.72" fill="#083a0c"/>
<circle cx="282.0" cy="41.3" r="1.72" fill="#083a0c"/>
<circle cx="282.0" cy="45.4" r="1.72" fill="#083a0c"/>
<circle cx="282.0" cy="49.0" r="1.72" fill="#083a0c"/>
<circle cx="282.0" cy="53.1" r="1.72" fill="#083a0c"/>
<circle cx="282.0" cy="56.4" r="1.72" fill="#083a0c"/>
<circle cx="282.0" cy="60.1" r="1.72" fill="#083a0c"/>
<circle cx="282.0" cy="63.6" r="1.72" fill="#083a0c"/>
<circle cx="282.0" cy="67.5" r="1.72" fill="#083a0c"/>
<circle cx="282.0" cy="70.9" r="1.72" fill="#083a0c"/>
<circle cx="282.0" cy="74.3" r="1.72" fill="#083a0c"/>
<circle cx="282.0" cy="78.5" r="1.72" fill="#083a0c"/>
<circle cx="290.2" cy="44.5" r="1.72" fill="#083a0c"/>
<circle cx="290.2" cy="48.4" r="1.72" fill="#083a0c"/>
<circle cx="290.2" cy="51.8" r="1.72" fill="#083a0c"/>
<circle cx="290.2" cy="56.4" r="1.72" fill="#083a0c"/>
<circle cx="290.2" cy="60.6" r="1.72" fill="#083a0c"/>
<circle cx="290.2" cy="64.8" r="1.72" fill="#083a0c"/>
<circle cx="290.2" cy="69.1" r="1.72" fill="#083a0c"/>
<circle cx="290.2" cy="73.4" r="1.72" fill="#083a0c"/>
<circle cx="290.2" cy="78.5" r="1.72" fill="#083a0c"/>
<circle cx="257.1" cy="20.7" r="1.75" fill="#d2320c"/>
<circle cx="266.0" cy="18.2" r="1.75" fill="#081242"/>
<circle cx="290.2" cy="41.9" r="1.75" fill="#d2320c"/>
<circle cx="298.2" cy="60.7" r="1.72" fill="#083a0c"/>
<circle cx="298.2" cy="64.9" r="1.72" fill="#083a0c"/>
<circle cx="298.2" cy="69.3" r="1.72" fill="#083a0c"/>
<circle cx="298.2" cy="72.0" r="1.72" fill="#083a0c"/>
<circle cx="298.2" cy="65.0" r="1.75" fill="#081242"/>
<circle cx="298.2" cy="75.5" r="1.75" fill="#d2320c"/>
<circle cx="306.9" cy="65.6" r="1.72" fill="#081242"/>
<circle cx="306.9" cy="68.0" r="1.72" fill="#081242"/>
<circle cx="306.9" cy="70.8" r="1.72" fill="#081242"/>
<circle cx="377.7" cy="24.6" r="1.75" fill="#d83a10"/>
<circle cx="382.7" cy="24.7" r="1.75" fill="#d83a10"/>
<circle cx="385.4" cy="24.5" r="1.75" fill="#d83a10"/>
<circle cx="392.3" cy="23.4" r="1.75" fill="#d83a10"/>
<circle cx="400.0" cy="23.3" r="1.75" fill="#d83a10"/>
<circle cx="380.9" cy="26.4" r="1.75" fill="#d83a10"/>
<circle cx="383.7" cy="27.7" r="1.75" fill="#d83a10"/>
<circle cx="386.8" cy="27.7" r="1.75" fill="#d83a10"/>
<circle cx="390.1" cy="26.2" r="1.75" fill="#d83a10"/>
<circle cx="394.4" cy="26.7" r="1.75" fill="#d83a10"/>
<circle cx="397.8" cy="26.8" r="1.75" fill="#d83a10"/>
<circle cx="400.9" cy="27.5" r="1.75" fill="#d83a10"/>
<circle cx="377.7" cy="30.9" r="1.75" fill="#d83a10"/>
<circle cx="382.6" cy="29.8" r="1.75" fill="#d83a10"/>
<circle cx="385.3" cy="31.0" r="1.75" fill="#d83a10"/>
<circle cx="388.9" cy="30.1" r="1.75" fill="#d83a10"/>
<circle cx="391.9" cy="29.5" r="1.75" fill="#d83a10"/>
<circle cx="395.9" cy="30.9" r="1.75" fill="#d83a10"/>
<circle cx="399.5" cy="30.2" r="1.75" fill="#d83a10"/>
<circle cx="379.9" cy="34.1" r="1.75" fill="#d83a10"/>
<circle cx="384.2" cy="33.6" r="1.75" fill="#d83a10"/>
<circle cx="394.9" cy="32.6" r="1.75" fill="#d83a10"/>
<circle cx="398.0" cy="33.8" r="1.75" fill="#d83a10"/>
<circle cx="401.3" cy="32.6" r="1.75" fill="#d83a10"/>
<circle cx="381.9" cy="36.2" r="1.75" fill="#d83a10"/>
<circle cx="385.9" cy="37.3" r="1.75" fill="#d83a10"/>
<circle cx="389.4" cy="36.1" r="1.75" fill="#d83a10"/>
<circle cx="392.5" cy="35.9" r="1.75" fill="#d83a10"/>
<circle cx="395.8" cy="37.2" r="1.75" fill="#d83a10"/>
<circle cx="399.4" cy="37.2" r="1.75" fill="#d83a10"/>
<circle cx="383.1" cy="39.1" r="1.75" fill="#d83a10"/>
<circle cx="387.0" cy="38.9" r="1.75" fill="#d83a10"/>
<circle cx="390.5" cy="39.7" r="1.75" fill="#d83a10"/>
<circle cx="394.9" cy="39.4" r="1.75" fill="#d83a10"/>
<circle cx="398.1" cy="39.4" r="1.75" fill="#d83a10"/>
<circle cx="401.0" cy="39.2" r="1.75" fill="#d83a10"/>
<circle cx="381.9" cy="42.9" r="1.75" fill="#d83a10"/>
<circle cx="385.0" cy="42.3" r="1.75" fill="#d83a10"/>
<circle cx="388.9" cy="42.6" r="1.75" fill="#d83a10"/>
<circle cx="396.9" cy="41.9" r="1.75" fill="#d83a10"/>
<circle cx="400.3" cy="43.4" r="1.75" fill="#d83a10"/>
<circle cx="380.2" cy="45.0" r="1.75" fill="#d83a10"/>
<circle cx="384.4" cy="46.4" r="1.75" fill="#d83a10"/>
<circle cx="388.1" cy="45.4" r="1.75" fill="#d83a10"/>
<circle cx="390.3" cy="45.9" r="1.75" fill="#d83a10"/>
<circle cx="395.3" cy="46.2" r="1.75" fill="#d83a10"/>
<circle cx="398.6" cy="45.8" r="1.75" fill="#d83a10"/>
<circle cx="400.9" cy="46.3" r="1.75" fill="#d83a10"/>
<circle cx="379.0" cy="49.2" r="1.75" fill="#d83a10"/>
<circle cx="381.3" cy="48.6" r="1.75" fill="#d83a10"/>
<circle cx="385.8" cy="48.3" r="1.75" fill="#d83a10"/>
<circle cx="389.1" cy="49.1" r="1.75" fill="#d83a10"/>
<circle cx="392.2" cy="49.2" r="1.75" fill="#d83a10"/>
<circle cx="396.0" cy="48.9" r="1.75" fill="#d83a10"/>
<circle cx="380.8" cy="52.1" r="1.75" fill="#d83a10"/>
<circle cx="383.3" cy="52.9" r="1.75" fill="#d83a10"/>
<circle cx="387.0" cy="51.3" r="1.75" fill="#d83a10"/>
<circle cx="391.2" cy="52.0" r="1.75" fill="#d83a10"/>
<circle cx="394.8" cy="52.8" r="1.75" fill="#d83a10"/>
<circle cx="397.3" cy="51.8" r="1.75" fill="#d83a10"/>
<circle cx="402.0" cy="51.6" r="1.75" fill="#d83a10"/>
<circle cx="382.3" cy="55.3" r="1.75" fill="#d83a10"/>
<circle cx="386.3" cy="54.9" r="1.75" fill="#d83a10"/>
<circle cx="388.6" cy="54.8" r="1.75" fill="#d83a10"/>
<circle cx="392.4" cy="56.0" r="1.75" fill="#d83a10"/>
<circle cx="395.8" cy="54.8" r="1.75" fill="#d83a10"/>
<circle cx="400.2" cy="56.0" r="1.75" fill="#d83a10"/>
<circle cx="383.5" cy="57.9" r="1.75" fill="#d83a10"/>
<circle cx="390.1" cy="57.6" r="1.75" fill="#d83a10"/>
<circle cx="395.2" cy="59.0" r="1.75" fill="#d83a10"/>
<circle cx="398.9" cy="59.1" r="1.75" fill="#d83a10"/>
<circle cx="401.2" cy="59.1" r="1.75" fill="#d83a10"/>
<circle cx="384.7" cy="61.8" r="1.75" fill="#d83a10"/>
<circle cx="388.9" cy="61.2" r="1.75" fill="#d83a10"/>
<circle cx="391.9" cy="61.1" r="1.75" fill="#d83a10"/>
<circle cx="397.1" cy="60.9" r="1.75" fill="#d83a10"/>
<circle cx="387.1" cy="65.2" r="1.75" fill="#d83a10"/>
<circle cx="390.8" cy="63.9" r="1.75" fill="#d83a10"/>
<circle cx="394.3" cy="65.4" r="1.75" fill="#d83a10"/>
<circle cx="397.9" cy="65.3" r="1.75" fill="#d83a10"/>
<circle cx="401.5" cy="65.2" r="1.75" fill="#d83a10"/>
<circle cx="388.3" cy="67.0" r="1.75" fill="#d83a10"/>
<circle cx="393.4" cy="67.4" r="1.75" fill="#d83a10"/>
<circle cx="397.0" cy="67.5" r="1.75" fill="#d83a10"/>
<circle cx="400.7" cy="68.0" r="1.75" fill="#d83a10"/>
<circle cx="403.9" cy="67.5" r="1.75" fill="#d83a10"/>
<circle cx="390.1" cy="71.3" r="1.75" fill="#d83a10"/>
<circle cx="398.9" cy="70.1" r="1.75" fill="#d83a10"/>
<circle cx="401.7" cy="71.7" r="1.75" fill="#d83a10"/>
<circle cx="392.3" cy="73.9" r="1.75" fill="#d83a10"/>
<circle cx="397.0" cy="73.5" r="1.75" fill="#d83a10"/>
<circle cx="400.3" cy="74.6" r="1.75" fill="#d83a10"/>
<circle cx="401.8" cy="22.0" r="1.72" fill="#d2320c"/>
<circle cx="401.8" cy="25.9" r="1.72" fill="#d2320c"/>
<circle cx="401.8" cy="29.5" r="1.72" fill="#d2320c"/>
<circle cx="401.8" cy="32.8" r="1.72" fill="#d2320c"/>
<circle cx="401.8" cy="36.1" r="1.72" fill="#d2320c"/>
<circle cx="401.8" cy="39.5" r="1.72" fill="#d2320c"/>
<circle cx="401.8" cy="43.3" r="1.72" fill="#d2320c"/>
<circle cx="401.8" cy="46.3" r="1.72" fill="#d2320c"/>
<circle cx="401.8" cy="50.0" r="1.72" fill="#d2320c"/>
<circle cx="352.8" cy="26.5" r="1.75" fill="#d2320c"/>
<circle cx="353.5" cy="42.4" r="1.72" fill="#d2320c"/>
<circle cx="353.5" cy="46.1" r="1.72" fill="#d2320c"/>
<circle cx="353.5" cy="50.0" r="1.72" fill="#d2320c"/>
<circle cx="353.5" cy="54.6" r="1.72" fill="#d2320c"/>
<circle cx="349.7" cy="62.0" r="1.72" fill="#d2320c"/>
<circle cx="349.7" cy="65.0" r="1.72" fill="#d2320c"/>
<circle cx="349.7" cy="68.0" r="1.72" fill="#d2320c"/>
<circle cx="349.7" cy="71.0" r="1.72" fill="#d2320c"/>
<circle cx="370.0" cy="21.9" r="1.75" fill="#165a1a"/>
<circle cx="373.3" cy="23.1" r="1.75" fill="#165a1a"/>
<circle cx="363.0" cy="25.3" r="1.75" fill="#165a1a"/>
<circle cx="366.9" cy="26.5" r="1.75" fill="#165a1a"/>
<circle cx="371.7" cy="25.4" r="1.75" fill="#165a1a"/>
<circle cx="374.5" cy="25.3" r="1.75" fill="#165a1a"/>
<circle cx="366.4" cy="28.1" r="1.75" fill="#165a1a"/>
<circle cx="369.4" cy="28.3" r="1.75" fill="#165a1a"/>
<circle cx="372.2" cy="28.3" r="1.75" fill="#165a1a"/>
<circle cx="364.0" cy="32.2" r="1.75" fill="#165a1a"/>
<circle cx="366.6" cy="31.6" r="1.75" fill="#165a1a"/>
<circle cx="370.5" cy="31.6" r="1.75" fill="#165a1a"/>
<circle cx="375.1" cy="32.0" r="1.75" fill="#165a1a"/>
<circle cx="361.3" cy="34.9" r="1.75" fill="#165a1a"/>
<circle cx="365.8" cy="34.4" r="1.75" fill="#165a1a"/>
<circle cx="369.5" cy="34.9" r="1.75" fill="#165a1a"/>
<circle cx="372.5" cy="35.8" r="1.75" fill="#165a1a"/>
<circle cx="360.3" cy="37.9" r="1.75" fill="#165a1a"/>
<circle cx="364.4" cy="39.0" r="1.75" fill="#165a1a"/>
<circle cx="366.9" cy="38.6" r="1.75" fill="#165a1a"/>
<circle cx="370.2" cy="38.9" r="1.75" fill="#165a1a"/>
<circle cx="375.1" cy="38.0" r="1.75" fill="#165a1a"/>
<circle cx="361.9" cy="40.8" r="1.75" fill="#165a1a"/>
<circle cx="365.7" cy="41.6" r="1.75" fill="#165a1a"/>
<circle cx="368.5" cy="41.5" r="1.75" fill="#165a1a"/>
<circle cx="372.8" cy="40.7" r="1.75" fill="#165a1a"/>
<circle cx="360.2" cy="45.2" r="1.75" fill="#165a1a"/>
<circle cx="363.8" cy="45.0" r="1.75" fill="#165a1a"/>
<circle cx="370.4" cy="45.2" r="1.75" fill="#165a1a"/>
<circle cx="357.6" cy="48.3" r="1.75" fill="#165a1a"/>
<circle cx="362.7" cy="47.8" r="1.75" fill="#165a1a"/>
<circle cx="365.0" cy="48.1" r="1.75" fill="#165a1a"/>
<circle cx="369.0" cy="48.2" r="1.75" fill="#165a1a"/>
<circle cx="372.3" cy="47.1" r="1.75" fill="#165a1a"/>
<circle cx="376.4" cy="47.4" r="1.75" fill="#165a1a"/>
<circle cx="359.8" cy="51.1" r="1.75" fill="#165a1a"/>
<circle cx="363.0" cy="50.8" r="1.75" fill="#165a1a"/>
<circle cx="366.6" cy="51.3" r="1.75" fill="#165a1a"/>
<circle cx="371.2" cy="50.8" r="1.75" fill="#165a1a"/>
<circle cx="374.3" cy="50.6" r="1.75" fill="#165a1a"/>
<circle cx="378.1" cy="51.0" r="1.75" fill="#165a1a"/>
<circle cx="358.3" cy="53.0" r="1.75" fill="#165a1a"/>
<circle cx="362.0" cy="53.4" r="1.75" fill="#165a1a"/>
<circle cx="366.1" cy="53.8" r="1.75" fill="#165a1a"/>
<circle cx="369.2" cy="53.2" r="1.75" fill="#165a1a"/>
<circle cx="372.7" cy="53.2" r="1.75" fill="#165a1a"/>
<circle cx="376.4" cy="53.1" r="1.75" fill="#165a1a"/>
<circle cx="355.9" cy="57.4" r="1.75" fill="#165a1a"/>
<circle cx="360.2" cy="56.2" r="1.75" fill="#165a1a"/>
<circle cx="363.6" cy="57.8" r="1.75" fill="#165a1a"/>
<circle cx="368.0" cy="57.8" r="1.75" fill="#165a1a"/>
<circle cx="371.5" cy="56.5" r="1.75" fill="#165a1a"/>
<circle cx="379.0" cy="57.7" r="1.75" fill="#165a1a"/>
<circle cx="382.3" cy="57.7" r="1.75" fill="#165a1a"/>
<circle cx="354.5" cy="60.6" r="1.75" fill="#165a1a"/>
<circle cx="359.1" cy="59.7" r="1.75" fill="#165a1a"/>
<circle cx="361.4" cy="60.1" r="1.75" fill="#165a1a"/>
<circle cx="365.1" cy="59.7" r="1.75" fill="#165a1a"/>
<circle cx="368.9" cy="59.3" r="1.75" fill="#165a1a"/>
<circle cx="372.2" cy="60.9" r="1.75" fill="#165a1a"/>
<circle cx="377.1" cy="59.6" r="1.75" fill="#165a1a"/>
<circle cx="379.3" cy="60.2" r="1.75" fill="#165a1a"/>
<circle cx="383.4" cy="60.8" r="1.75" fill="#165a1a"/>
<circle cx="353.1" cy="63.9" r="1.75" fill="#165a1a"/>
<circle cx="357.4" cy="63.5" r="1.75" fill="#165a1a"/>
<circle cx="360.7" cy="62.8" r="1.75" fill="#165a1a"/>
<circle cx="367.2" cy="63.7" r="1.75" fill="#165a1a"/>
<circle cx="370.5" cy="63.7" r="1.75" fill="#165a1a"/>
<circle cx="375.1" cy="62.8" r="1.75" fill="#165a1a"/>
<circle cx="379.0" cy="63.4" r="1.75" fill="#165a1a"/>
<circle cx="381.5" cy="62.4" r="1.75" fill="#165a1a"/>
<circle cx="384.8" cy="63.4" r="1.75" fill="#165a1a"/>
<circle cx="351.2" cy="67.1" r="1.75" fill="#165a1a"/>
<circle cx="354.3" cy="66.6" r="1.75" fill="#165a1a"/>
<circle cx="357.6" cy="66.1" r="1.75" fill="#165a1a"/>
<circle cx="361.8" cy="65.9" r="1.75" fill="#165a1a"/>
<circle cx="365.8" cy="65.9" r="1.75" fill="#165a1a"/>
<circle cx="369.2" cy="65.8" r="1.75" fill="#165a1a"/>
<circle cx="375.8" cy="65.7" r="1.75" fill="#165a1a"/>
<circle cx="380.6" cy="66.9" r="1.75" fill="#165a1a"/>
<circle cx="383.2" cy="65.5" r="1.75" fill="#165a1a"/>
<circle cx="353.1" cy="69.3" r="1.75" fill="#165a1a"/>
<circle cx="356.5" cy="70.3" r="1.75" fill="#165a1a"/>
<circle cx="359.8" cy="70.2" r="1.75" fill="#165a1a"/>
<circle cx="363.9" cy="69.4" r="1.75" fill="#165a1a"/>
<circle cx="366.6" cy="70.0" r="1.75" fill="#165a1a"/>
<circle cx="371.1" cy="70.3" r="1.75" fill="#165a1a"/>
<circle cx="374.1" cy="69.7" r="1.75" fill="#165a1a"/>
<circle cx="378.4" cy="70.0" r="1.75" fill="#165a1a"/>
<circle cx="381.5" cy="69.2" r="1.75" fill="#165a1a"/>
<circle cx="386.1" cy="70.0" r="1.75" fill="#165a1a"/>
<circle cx="350.4" cy="73.2" r="1.75" fill="#165a1a"/>
<circle cx="354.7" cy="73.1" r="1.75" fill="#165a1a"/>
<circle cx="357.9" cy="72.0" r="1.75" fill="#165a1a"/>
<circle cx="361.2" cy="72.4" r="1.75" fill="#165a1a"/>
<circle cx="365.9" cy="73.2" r="1.75" fill="#165a1a"/>
<circle cx="368.8" cy="72.7" r="1.75" fill="#165a1a"/>
<circle cx="373.3" cy="72.7" r="1.75" fill="#165a1a"/>
<circle cx="376.6" cy="73.4" r="1.75" fill="#165a1a"/>
<circle cx="380.6" cy="71.8" r="1.75" fill="#165a1a"/>
<circle cx="383.2" cy="73.1" r="1.75" fill="#165a1a"/>
<circle cx="373.8" cy="19.4" r="1.75" fill="#081242"/>
<circle cx="358.2" cy="53.3" r="1.75" fill="#081242"/>
<circle cx="349.4" cy="60.0" r="1.75" fill="#081242"/>
<circle cx="349.4" cy="77.9" r="1.72" fill="#083a0c"/>
<circle cx="353.4" cy="77.9" r="1.72" fill="#083a0c"/>
<circle cx="356.8" cy="77.9" r="1.72" fill="#083a0c"/>
<circle cx="360.9" cy="77.9" r="1.72" fill="#083a0c"/>
<circle cx="364.3" cy="77.9" r="1.72" fill="#083a0c"/>
<circle cx="367.6" cy="77.9" r="1.72" fill="#083a0c"/>
<circle cx="371.7" cy="77.9" r="1.72" fill="#083a0c"/>
<circle cx="375.5" cy="77.9" r="1.72" fill="#083a0c"/>
<circle cx="379.4" cy="77.9" r="1.72" fill="#083a0c"/>
<circle cx="383.3" cy="77.9" r="1.72" fill="#083a0c"/>
<circle cx="387.5" cy="77.9" r="1.72" fill="#083a0c"/>
<circle cx="391.1" cy="77.9" r="1.72" fill="#083a0c"/>
<circle cx="394.1" cy="77.9" r="1.72" fill="#083a0c"/>
<circle cx="395.5" cy="77.9" r="1.72" fill="#d2320c"/>
<circle cx="399.2" cy="77.9" r="1.72" fill="#d2320c"/>
<circle cx="401.6" cy="77.9" r="1.72" fill="#d2320c"/>
<circle cx="447.2" cy="19.6" r="1.72" fill="#081242"/>
<circle cx="447.2" cy="23.3" r="1.72" fill="#081242"/>
<circle cx="447.2" cy="26.8" r="1.72" fill="#081242"/>
<circle cx="447.2" cy="31.7" r="1.72" fill="#081242"/>
<circle cx="447.2" cy="36.5" r="1.72" fill="#081242"/>
<circle cx="447.2" cy="41.0" r="1.72" fill="#081242"/>
<circle cx="447.2" cy="45.8" r="1.72" fill="#081242"/>
<circle cx="447.2" cy="50.2" r="1.72" fill="#081242"/>
<circle cx="447.2" cy="54.2" r="1.72" fill="#081242"/>
<circle cx="447.2" cy="57.9" r="1.72" fill="#081242"/>
<circle cx="447.2" cy="61.5" r="1.72" fill="#081242"/>
<circle cx="447.2" cy="66.2" r="1.72" fill="#081242"/>
<circle cx="447.2" cy="70.1" r="1.72" fill="#081242"/>
<circle cx="447.2" cy="74.1" r="1.72" fill="#081242"/>
<circle cx="447.2" cy="78.5" r="1.72" fill="#081242"/>
<circle cx="476.7" cy="21.3" r="1.72" fill="#d2320c"/>
<circle cx="476.7" cy="25.1" r="1.72" fill="#d2320c"/>
<circle cx="476.7" cy="29.4" r="1.72" fill="#d2320c"/>
<circle cx="476.7" cy="33.4" r="1.72" fill="#d2320c"/>
<circle cx="476.7" cy="38.2" r="1.72" fill="#d2320c"/>
<circle cx="476.7" cy="42.2" r="1.72" fill="#d2320c"/>
<circle cx="476.7" cy="47.1" r="1.72" fill="#d2320c"/>
<circle cx="476.7" cy="51.1" r="1.72" fill="#d2320c"/>
<circle cx="476.7" cy="54.9" r="1.72" fill="#d2320c"/>
<circle cx="476.7" cy="59.5" r="1.72" fill="#d2320c"/>
<circle cx="476.7" cy="63.8" r="1.72" fill="#d2320c"/>
<circle cx="476.7" cy="67.5" r="1.72" fill="#d2320c"/>
<circle cx="476.7" cy="72.0" r="1.72" fill="#d2320c"/>
<circle cx="476.7" cy="75.6" r="1.72" fill="#d2320c"/>
<circle cx="476.7" cy="78.5" r="1.72" fill="#d2320c"/>
<circle cx="507.3" cy="21.3" r="1.72" fill="#083a0c"/>
<circle cx="507.3" cy="26.0" r="1.72" fill="#083a0c"/>
<circle cx="507.3" cy="30.4" r="1.72" fill="#083a0c"/>
<circle cx="507.3" cy="34.1" r="1.72" fill="#083a0c"/>
<circle cx="507.3" cy="38.4" r="1.72" fill="#083a0c"/>
<circle cx="507.3" cy="43.3" r="1.72" fill="#083a0c"/>
<circle cx="507.3" cy="47.1" r="1.72" fill="#083a0c"/>
<circle cx="507.3" cy="50.9" r="1.72" fill="#083a0c"/>
<circle cx="507.3" cy="54.9" r="1.72" fill="#083a0c"/>
<circle cx="507.3" cy="59.5" r="1.72" fill="#083a0c"/>
<circle cx="507.3" cy="64.4" r="1.72" fill="#083a0c"/>
<circle cx="507.3" cy="68.1" r="1.72" fill="#083a0c"/>
<circle cx="507.3" cy="71.9" r="1.72" fill="#083a0c"/>
<circle cx="507.3" cy="75.8" r="1.72" fill="#083a0c"/>
<circle cx="507.3" cy="78.5" r="1.72" fill="#083a0c"/>
<circle cx="48.8" cy="178.5" r="1.75" fill="#083a0c"/>
<circle cx="63.2" cy="154.6" r="1.72" fill="#d2320c"/>
<circle cx="66.4" cy="151.9" r="1.72" fill="#d2320c"/>
<circle cx="69.1" cy="149.6" r="1.72" fill="#d2320c"/>
<circle cx="72.1" cy="147.3" r="1.72" fill="#d2320c"/>
<circle cx="75.4" cy="144.4" r="1.72" fill="#d2320c"/>
<circle cx="78.1" cy="142.3" r="1.72" fill="#d2320c"/>
<circle cx="80.9" cy="140.4" r="1.72" fill="#d2320c"/>
<circle cx="84.7" cy="137.2" r="1.72" fill="#d2320c"/>
<circle cx="69.4" cy="161.1" r="1.72" fill="#d2320c"/>
<circle cx="79.0" cy="155.6" r="1.72" fill="#d2320c"/>
<circle cx="82.6" cy="153.1" r="1.72" fill="#d2320c"/>
<circle cx="89.4" cy="149.2" r="1.72" fill="#d2320c"/>
<circle cx="92.7" cy="147.0" r="1.72" fill="#d2320c"/>
<circle cx="96.1" cy="145.0" r="1.72" fill="#d2320c"/>
<circle cx="69.1" cy="165.4" r="1.72" fill="#d2320c"/>
<circle cx="71.8" cy="163.5" r="1.72" fill="#d2320c"/>
<circle cx="74.5" cy="162.0" r="1.72" fill="#d2320c"/>
<circle cx="77.3" cy="160.1" r="1.72" fill="#d2320c"/>
<circle cx="81.0" cy="158.1" r="1.72" fill="#d2320c"/>
<circle cx="84.3" cy="155.6" r="1.72" fill="#d2320c"/>
<circle cx="87.5" cy="153.6" r="1.72" fill="#d2320c"/>
<circle cx="90.4" cy="152.0" r="1.72" fill="#d2320c"/>
<circle cx="93.9" cy="149.8" r="1.72" fill="#d2320c"/>
<circle cx="96.5" cy="147.9" r="1.72" fill="#d2320c"/>
<circle cx="99.3" cy="146.2" r="1.72" fill="#d2320c"/>
<circle cx="101.7" cy="144.9" r="1.72" fill="#d2320c"/>
<circle cx="105.2" cy="142.5" r="1.72" fill="#d2320c"/>
<circle cx="49.8" cy="171.1" r="1.72" fill="#083a0c"/>
<circle cx="52.2" cy="168.7" r="1.72" fill="#083a0c"/>
<circle cx="55.7" cy="166.6" r="1.72" fill="#083a0c"/>
<circle cx="58.8" cy="164.7" r="1.72" fill="#083a0c"/>
<circle cx="62.1" cy="162.3" r="1.72" fill="#083a0c"/>
<circle cx="68.4" cy="157.9" r="1.72" fill="#083a0c"/>
<circle cx="75.5" cy="152.7" r="1.72" fill="#083a0c"/>
<circle cx="81.8" cy="148.3" r="1.72" fill="#083a0c"/>
<circle cx="85.0" cy="145.5" r="1.72" fill="#083a0c"/>
<circle cx="88.3" cy="143.3" r="1.72" fill="#083a0c"/>
<circle cx="91.3" cy="141.4" r="1.72" fill="#083a0c"/>
<circle cx="95.1" cy="138.6" r="1.72" fill="#083a0c"/>
<circle cx="100.3" cy="135.1" r="1.72" fill="#083a0c"/>
<circle cx="54.1" cy="175.1" r="1.72" fill="#083a0c"/>
<circle cx="57.8" cy="172.4" r="1.72" fill="#083a0c"/>
<circle cx="60.6" cy="170.6" r="1.72" fill="#083a0c"/>
<circle cx="63.6" cy="168.2" r="1.72" fill="#083a0c"/>
<circle cx="67.5" cy="165.6" r="1.72" fill="#083a0c"/>
<circle cx="73.3" cy="161.3" r="1.72" fill="#083a0c"/>
<circle cx="76.9" cy="159.3" r="1.72" fill="#083a0c"/>
<circle cx="82.3" cy="154.9" r="1.72" fill="#083a0c"/>
<circle cx="85.9" cy="152.8" r="1.72" fill="#083a0c"/>
<circle cx="89.6" cy="150.3" r="1.72" fill="#083a0c"/>
<circle cx="92.2" cy="147.9" r="1.72" fill="#083a0c"/>
<circle cx="95.9" cy="145.7" r="1.72" fill="#083a0c"/>
<circle cx="99.4" cy="143.4" r="1.72" fill="#083a0c"/>
<circle cx="105.4" cy="139.1" r="1.72" fill="#083a0c"/>
<circle cx="50.9" cy="173.4" r="1.72" fill="#083a0c"/>
<circle cx="54.2" cy="171.1" r="1.72" fill="#083a0c"/>
<circle cx="57.4" cy="169.0" r="1.72" fill="#083a0c"/>
<circle cx="60.9" cy="166.4" r="1.72" fill="#083a0c"/>
<circle cx="63.4" cy="164.4" r="1.72" fill="#083a0c"/>
<circle cx="66.4" cy="162.6" r="1.72" fill="#083a0c"/>
<circle cx="69.7" cy="160.5" r="1.72" fill="#083a0c"/>
<circle cx="72.9" cy="157.6" r="1.72" fill="#083a0c"/>
<circle cx="75.5" cy="156.1" r="1.72" fill="#083a0c"/>
<circle cx="78.5" cy="154.4" r="1.72" fill="#083a0c"/>
<circle cx="80.8" cy="152.2" r="1.72" fill="#083a0c"/>
<circle cx="83.9" cy="150.0" r="1.72" fill="#083a0c"/>
<circle cx="87.5" cy="147.2" r="1.72" fill="#083a0c"/>
<circle cx="90.6" cy="144.8" r="1.72" fill="#083a0c"/>
<circle cx="93.9" cy="142.8" r="1.72" fill="#083a0c"/>
<circle cx="97.5" cy="140.4" r="1.72" fill="#083a0c"/>
<circle cx="100.8" cy="138.0" r="1.72" fill="#083a0c"/>
<circle cx="102.7" cy="136.6" r="1.72" fill="#083a0c"/>
<circle cx="106.5" cy="137.5" r="1.4" fill="#081242"/>
<circle cx="99.7" cy="119.8" r="1.75" fill="#d2320c"/>
<circle cx="248.9" cy="178.5" r="1.75" fill="#083a0c"/>
<circle cx="257.1" cy="133.7" r="1.72" fill="#083a0c"/>
<circle cx="257.1" cy="137.4" r="1.72" fill="#083a0c"/>
<circle cx="257.1" cy="141.8" r="1.72" fill="#083a0c"/>
<circle cx="257.1" cy="145.4" r="1.72" fill="#083a0c"/>
<circle cx="257.1" cy="148.8" r="1.72" fill="#083a0c"/>
<circle cx="257.1" cy="153.3" r="1.72" fill="#083a0c"/>
<circle cx="257.1" cy="157.7" r="1.72" fill="#083a0c"/>
<circle cx="257.1" cy="162.3" r="1.72" fill="#083a0c"/>
<circle cx="257.1" cy="166.7" r="1.72" fill="#083a0c"/>
<circle cx="257.1" cy="170.1" r="1.72" fill="#083a0c"/>
<circle cx="257.1" cy="174.4" r="1.72" fill="#083a0c"/>
<circle cx="257.1" cy="178.5" r="1.72" fill="#083a0c"/>
<circle cx="266.0" cy="134.6" r="1.72" fill="#083a0c"/>
<circle cx="266.0" cy="138.9" r="1.72" fill="#083a0c"/>
<circle cx="266.0" cy="142.8" r="1.72" fill="#083a0c"/>
<circle cx="266.0" cy="146.7" r="1.72" fill="#083a0c"/>
<circle cx="266.0" cy="151.2" r="1.72" fill="#083a0c"/>
<circle cx="266.0" cy="155.9" r="1.72" fill="#083a0c"/>
<circle cx="266.0" cy="160.4" r="1.72" fill="#083a0c"/>
<circle cx="266.0" cy="164.6" r="1.72" fill="#083a0c"/>
<circle cx="266.0" cy="168.4" r="1.72" fill="#083a0c"/>
<circle cx="266.0" cy="171.8" r="1.72" fill="#083a0c"/>
<circle cx="266.0" cy="176.5" r="1.72" fill="#083a0c"/>
<circle cx="266.0" cy="178.5" r="1.72" fill="#083a0c"/>
<circle cx="274.2" cy="137.2" r="1.72" fill="#083a0c"/>
<circle cx="274.2" cy="141.8" r="1.72" fill="#083a0c"/>
<circle cx="274.2" cy="146.0" r="1.72" fill="#083a0c"/>
<circle cx="274.2" cy="149.7" r="1.72" fill="#083a0c"/>
<circle cx="274.2" cy="154.3" r="1.72" fill="#083a0c"/>
<circle cx="274.2" cy="158.8" r="1.72" fill="#083a0c"/>
<circle cx="274.2" cy="163.2" r="1.72" fill="#083a0c"/>
<circle cx="274.2" cy="167.9" r="1.72" fill="#083a0c"/>
<circle cx="274.2" cy="171.7" r="1.72" fill="#083a0c"/>
<circle cx="274.2" cy="175.2" r="1.72" fill="#083a0c"/>
<circle cx="274.2" cy="178.5" r="1.72" fill="#083a0c"/>
<circle cx="282.0" cy="136.0" r="1.72" fill="#083a0c"/>
<circle cx="282.0" cy="140.2" r="1.72" fill="#083a0c"/>
<circle cx="282.0" cy="143.8" r="1.72" fill="#083a0c"/>
<circle cx="282.0" cy="147.4" r="1.72" fill="#083a0c"/>
<circle cx="282.0" cy="151.0" r="1.72" fill="#083a0c"/>
<circle cx="282.0" cy="155.4" r="1.72" fill="#083a0c"/>
<circle cx="282.0" cy="159.3" r="1.72" fill="#083a0c"/>
<circle cx="282.0" cy="163.4" r="1.72" fill="#083a0c"/>
<circle cx="282.0" cy="167.3" r="1.72" fill="#083a0c"/>
<circle cx="282.0" cy="171.4" r="1.72" fill="#083a0c"/>
<circle cx="282.0" cy="175.0" r="1.72" fill="#083a0c"/>
<circle cx="282.0" cy="178.5" r="1.72" fill="#083a0c"/>
<circle cx="282.0" cy="119.3" r="1.75" fill="#d2320c"/>
<circle cx="290.2" cy="137.2" r="1.72" fill="#d2320c"/>
<circle cx="290.2" cy="140.8" r="1.72" fill="#d2320c"/>
<circle cx="290.2" cy="144.4" r="1.72" fill="#d2320c"/>
<circle cx="290.2" cy="147.9" r="1.72" fill="#d2320c"/>
<circle cx="290.2" cy="151.0" r="1.72" fill="#d2320c"/>
<circle cx="290.2" cy="154.0" r="1.72" fill="#083a0c"/>
<circle cx="290.2" cy="157.7" r="1.72" fill="#083a0c"/>
<circle cx="290.2" cy="161.9" r="1.72" fill="#083a0c"/>
<circle cx="290.2" cy="166.2" r="1.72" fill="#083a0c"/>
<circle cx="290.2" cy="170.9" r="1.72" fill="#083a0c"/>
<circle cx="290.2" cy="175.2" r="1.72" fill="#083a0c"/>
<circle cx="290.2" cy="178.5" r="1.72" fill="#083a0c"/>
<circle cx="298.2" cy="162.5" r="1.72" fill="#083a0c"/>
<circle cx="298.2" cy="167.0" r="1.72" fill="#083a0c"/>
<circle cx="298.2" cy="170.8" r="1.75" fill="#d2320c"/>
<circle cx="306.9" cy="161.6" r="1.72" fill="#081242"/>
<circle cx="306.9" cy="164.9" r="1.72" fill="#081242"/>
<circle cx="306.9" cy="166.8" r="1.72" fill="#081242"/>
<circle cx="378.3" cy="144.7" r="1.75" fill="#d83a10"/>
<circle cx="375.9" cy="148.7" r="1.75" fill="#d83a10"/>
<circle cx="380.5" cy="147.8" r="1.75" fill="#d83a10"/>
<circle cx="384.4" cy="147.9" r="1.75" fill="#d83a10"/>
<circle cx="379.0" cy="150.9" r="1.75" fill="#d83a10"/>
<circle cx="381.2" cy="152.2" r="1.75" fill="#d83a10"/>
<circle cx="385.7" cy="151.4" r="1.75" fill="#d83a10"/>
<circle cx="389.6" cy="151.5" r="1.75" fill="#d83a10"/>
<circle cx="392.1" cy="151.0" r="1.75" fill="#d83a10"/>
<circle cx="396.7" cy="151.6" r="1.75" fill="#d83a10"/>
<circle cx="400.5" cy="151.1" r="1.75" fill="#d83a10"/>
<circle cx="379.5" cy="154.2" r="1.75" fill="#d83a10"/>
<circle cx="383.4" cy="154.1" r="1.75" fill="#d83a10"/>
<circle cx="387.0" cy="155.3" r="1.75" fill="#d83a10"/>
<circle cx="391.7" cy="153.9" r="1.75" fill="#d83a10"/>
<circle cx="394.8" cy="154.1" r="1.75" fill="#d83a10"/>
<circle cx="397.7" cy="154.2" r="1.75" fill="#d83a10"/>
<circle cx="401.5" cy="155.5" r="1.75" fill="#d83a10"/>
<circle cx="388.7" cy="158.4" r="1.75" fill="#d83a10"/>
<circle cx="393.1" cy="157.4" r="1.75" fill="#d83a10"/>
<circle cx="400.4" cy="157.5" r="1.75" fill="#d83a10"/>
<circle cx="382.9" cy="161.5" r="1.75" fill="#d83a10"/>
<circle cx="386.8" cy="160.8" r="1.75" fill="#d83a10"/>
<circle cx="394.6" cy="160.3" r="1.75" fill="#d83a10"/>
<circle cx="398.6" cy="161.3" r="1.75" fill="#d83a10"/>
<circle cx="401.0" cy="160.2" r="1.75" fill="#d83a10"/>
<circle cx="385.5" cy="163.6" r="1.75" fill="#d83a10"/>
<circle cx="389.3" cy="164.4" r="1.75" fill="#d83a10"/>
<circle cx="392.8" cy="163.5" r="1.75" fill="#d83a10"/>
<circle cx="396.7" cy="163.9" r="1.75" fill="#d83a10"/>
<circle cx="399.1" cy="164.6" r="1.75" fill="#d83a10"/>
<circle cx="387.9" cy="167.8" r="1.75" fill="#d83a10"/>
<circle cx="390.1" cy="167.9" r="1.75" fill="#d83a10"/>
<circle cx="395.1" cy="166.8" r="1.75" fill="#d83a10"/>
<circle cx="398.7" cy="166.9" r="1.75" fill="#d83a10"/>
<circle cx="401.5" cy="167.3" r="1.75" fill="#d83a10"/>
<circle cx="389.1" cy="170.2" r="1.75" fill="#d83a10"/>
<circle cx="392.1" cy="170.7" r="1.75" fill="#d83a10"/>
<circle cx="396.9" cy="170.0" r="1.75" fill="#d83a10"/>
<circle cx="399.7" cy="170.7" r="1.75" fill="#d83a10"/>
<circle cx="404.1" cy="171.1" r="1.75" fill="#d83a10"/>
<circle cx="390.9" cy="173.5" r="1.75" fill="#d83a10"/>
<circle cx="393.7" cy="174.2" r="1.75" fill="#d83a10"/>
<circle cx="397.6" cy="172.7" r="1.75" fill="#d83a10"/>
<circle cx="378.6" cy="141.0" r="1.75" fill="#d2320c"/>
<circle cx="352.8" cy="119.1" r="1.75" fill="#d2320c"/>
<circle cx="353.5" cy="137.4" r="1.72" fill="#d2320c"/>
<circle cx="353.5" cy="140.6" r="1.72" fill="#d2320c"/>
<circle cx="353.5" cy="144.5" r="1.72" fill="#d2320c"/>
<circle cx="353.5" cy="147.4" r="1.72" fill="#d2320c"/>
<circle cx="353.5" cy="149.6" r="1.72" fill="#d2320c"/>
<circle cx="361.4" cy="137.1" r="1.75" fill="#165a1a"/>
<circle cx="365.2" cy="136.5" r="1.75" fill="#165a1a"/>
<circle cx="368.6" cy="137.3" r="1.75" fill="#165a1a"/>
<circle cx="372.2" cy="137.3" r="1.75" fill="#165a1a"/>
<circle cx="359.6" cy="140.8" r="1.75" fill="#165a1a"/>
<circle cx="367.3" cy="140.8" r="1.75" fill="#165a1a"/>
<circle cx="370.8" cy="141.0" r="1.75" fill="#165a1a"/>
<circle cx="358.1" cy="143.0" r="1.75" fill="#165a1a"/>
<circle cx="361.9" cy="144.2" r="1.75" fill="#165a1a"/>
<circle cx="366.3" cy="143.9" r="1.75" fill="#165a1a"/>
<circle cx="368.4" cy="143.4" r="1.75" fill="#165a1a"/>
<circle cx="363.7" cy="146.8" r="1.75" fill="#165a1a"/>
<circle cx="367.5" cy="145.8" r="1.75" fill="#165a1a"/>
<circle cx="371.0" cy="145.7" r="1.75" fill="#165a1a"/>
<circle cx="375.4" cy="147.0" r="1.75" fill="#165a1a"/>
<circle cx="362.5" cy="150.3" r="1.75" fill="#165a1a"/>
<circle cx="364.8" cy="149.9" r="1.75" fill="#165a1a"/>
<circle cx="369.5" cy="149.3" r="1.75" fill="#165a1a"/>
<circle cx="373.5" cy="149.9" r="1.75" fill="#165a1a"/>
<circle cx="356.6" cy="152.7" r="1.75" fill="#165a1a"/>
<circle cx="363.5" cy="153.0" r="1.75" fill="#165a1a"/>
<circle cx="367.6" cy="153.6" r="1.75" fill="#165a1a"/>
<circle cx="370.6" cy="152.7" r="1.75" fill="#165a1a"/>
<circle cx="374.0" cy="152.2" r="1.75" fill="#165a1a"/>
<circle cx="350.8" cy="155.8" r="1.75" fill="#165a1a"/>
<circle cx="354.4" cy="155.2" r="1.75" fill="#165a1a"/>
<circle cx="359.0" cy="156.1" r="1.75" fill="#165a1a"/>
<circle cx="362.3" cy="155.4" r="1.75" fill="#165a1a"/>
<circle cx="365.5" cy="156.0" r="1.75" fill="#165a1a"/>
<circle cx="369.1" cy="155.6" r="1.75" fill="#165a1a"/>
<circle cx="372.3" cy="155.9" r="1.75" fill="#165a1a"/>
<circle cx="376.5" cy="155.1" r="1.75" fill="#165a1a"/>
<circle cx="353.6" cy="158.6" r="1.75" fill="#165a1a"/>
<circle cx="356.6" cy="158.7" r="1.75" fill="#165a1a"/>
<circle cx="364.3" cy="158.5" r="1.75" fill="#165a1a"/>
<circle cx="368.0" cy="159.0" r="1.75" fill="#165a1a"/>
<circle cx="370.8" cy="159.0" r="1.75" fill="#165a1a"/>
<circle cx="373.9" cy="158.6" r="1.75" fill="#165a1a"/>
<circle cx="350.6" cy="161.9" r="1.75" fill="#165a1a"/>
<circle cx="355.1" cy="162.4" r="1.75" fill="#165a1a"/>
<circle cx="358.9" cy="162.2" r="1.75" fill="#165a1a"/>
<circle cx="362.4" cy="162.6" r="1.75" fill="#165a1a"/>
<circle cx="366.1" cy="162.5" r="1.75" fill="#165a1a"/>
<circle cx="368.6" cy="162.8" r="1.75" fill="#165a1a"/>
<circle cx="373.3" cy="162.3" r="1.75" fill="#165a1a"/>
<circle cx="377.2" cy="162.3" r="1.75" fill="#165a1a"/>
<circle cx="380.5" cy="162.8" r="1.75" fill="#165a1a"/>
<circle cx="352.8" cy="165.2" r="1.75" fill="#165a1a"/>
<circle cx="357.0" cy="165.0" r="1.75" fill="#165a1a"/>
<circle cx="360.3" cy="165.1" r="1.75" fill="#165a1a"/>
<circle cx="364.3" cy="165.9" r="1.75" fill="#165a1a"/>
<circle cx="367.3" cy="164.8" r="1.75" fill="#165a1a"/>
<circle cx="370.4" cy="165.4" r="1.75" fill="#165a1a"/>
<circle cx="373.9" cy="166.0" r="1.75" fill="#165a1a"/>
<circle cx="378.8" cy="165.9" r="1.75" fill="#165a1a"/>
<circle cx="351.1" cy="169.1" r="1.75" fill="#165a1a"/>
<circle cx="354.0" cy="168.6" r="1.75" fill="#165a1a"/>
<circle cx="359.1" cy="168.9" r="1.75" fill="#165a1a"/>
<circle cx="362.8" cy="168.5" r="1.75" fill="#165a1a"/>
<circle cx="365.9" cy="168.3" r="1.75" fill="#165a1a"/>
<circle cx="369.4" cy="168.2" r="1.75" fill="#165a1a"/>
<circle cx="376.4" cy="167.8" r="1.75" fill="#165a1a"/>
<circle cx="379.8" cy="168.6" r="1.75" fill="#165a1a"/>
<circle cx="384.2" cy="169.2" r="1.75" fill="#165a1a"/>
<circle cx="352.9" cy="171.8" r="1.75" fill="#165a1a"/>
<circle cx="360.3" cy="172.1" r="1.75" fill="#165a1a"/>
<circle cx="363.5" cy="172.4" r="1.75" fill="#165a1a"/>
<circle cx="367.4" cy="170.9" r="1.75" fill="#165a1a"/>
<circle cx="371.3" cy="172.1" r="1.75" fill="#165a1a"/>
<circle cx="378.1" cy="171.0" r="1.75" fill="#165a1a"/>
<circle cx="381.8" cy="171.6" r="1.75" fill="#165a1a"/>
<circle cx="384.9" cy="171.8" r="1.75" fill="#165a1a"/>
<circle cx="350.1" cy="152.9" r="1.75" fill="#081242"/>
<circle cx="357.6" cy="150.9" r="1.75" fill="#081242"/>
<circle cx="349.4" cy="178.0" r="1.72" fill="#083a0c"/>
<circle cx="353.2" cy="178.0" r="1.72" fill="#083a0c"/>
<circle cx="356.6" cy="178.0" r="1.72" fill="#083a0c"/>
<circle cx="360.9" cy="178.0" r="1.72" fill="#083a0c"/>
<circle cx="364.7" cy="178.0" r="1.72" fill="#083a0c"/>
<circle cx="367.7" cy="178.0" r="1.72" fill="#083a0c"/>
<circle cx="371.2" cy="178.0" r="1.72" fill="#083a0c"/>
<circle cx="375.2" cy="178.0" r="1.72" fill="#083a0c"/>
<circle cx="378.6" cy="178.0" r="1.72" fill="#083a0c"/>
<circle cx="382.5" cy="178.0" r="1.72" fill="#083a0c"/>
<circle cx="385.5" cy="178.0" r="1.72" fill="#083a0c"/>
<circle cx="388.8" cy="178.0" r="1.72" fill="#083a0c"/>
<circle cx="394.1" cy="178.0" r="1.72" fill="#083a0c"/>
<circle cx="396.2" cy="178.0" r="1.72" fill="#d2320c"/>
<circle cx="399.3" cy="178.0" r="1.72" fill="#d2320c"/>
<circle cx="401.6" cy="178.0" r="1.72" fill="#d2320c"/>
<circle cx="446.9" cy="137.2" r="1.75" fill="#081242"/>
<circle cx="446.9" cy="146.4" r="1.75" fill="#081242"/>
<circle cx="446.9" cy="152.0" r="1.75" fill="#081242"/>
<circle cx="446.9" cy="155.0" r="1.75" fill="#081242"/>
<circle cx="446.9" cy="158.1" r="1.75" fill="#081242"/>
<circle cx="446.9" cy="161.0" r="1.75" fill="#081242"/>
<circle cx="446.9" cy="163.8" r="1.75" fill="#081242"/>
<circle cx="446.9" cy="170.3" r="1.75" fill="#081242"/>
<circle cx="446.9" cy="178.1" r="1.75" fill="#081242"/>
<circle cx="476.7" cy="119.4" r="1.75" fill="#d2320c"/>
<circle cx="476.7" cy="137.7" r="1.72" fill="#d2320c"/>
<circle cx="476.7" cy="141.8" r="1.72" fill="#d2320c"/>
<circle cx="476.7" cy="145.4" r="1.72" fill="#d2320c"/>
<circle cx="476.7" cy="150.3" r="1.72" fill="#d2320c"/>
<circle cx="476.7" cy="154.7" r="1.72" fill="#d2320c"/>
<circle cx="476.7" cy="159.7" r="1.72" fill="#d2320c"/>
<circle cx="476.7" cy="163.9" r="1.72" fill="#d2320c"/>
<circle cx="476.7" cy="168.4" r="1.72" fill="#d2320c"/>
<circle cx="476.7" cy="172.3" r="1.72" fill="#d2320c"/>
<circle cx="476.7" cy="175.9" r="1.72" fill="#d2320c"/>
<circle cx="476.7" cy="178.1" r="1.72" fill="#d2320c"/>
<circle cx="507.1" cy="133.7" r="1.72" fill="#083a0c"/>
<circle cx="507.1" cy="137.7" r="1.72" fill="#083a0c"/>
<circle cx="507.1" cy="142.0" r="1.72" fill="#083a0c"/>
<circle cx="507.1" cy="145.7" r="1.72" fill="#083a0c"/>
<circle cx="507.1" cy="150.1" r="1.72" fill="#083a0c"/>
<circle cx="507.1" cy="154.2" r="1.72" fill="#083a0c"/>
<circle cx="507.1" cy="158.3" r="1.72" fill="#083a0c"/>
<circle cx="507.1" cy="161.9" r="1.72" fill="#083a0c"/>
<circle cx="507.1" cy="165.6" r="1.72" fill="#083a0c"/>
<circle cx="507.1" cy="170.4" r="1.72" fill="#083a0c"/>
<circle cx="507.1" cy="174.5" r="1.72" fill="#083a0c"/>
<circle cx="507.1" cy="178.1" r="1.72" fill="#083a0c"/>
<circle cx="48.4" cy="277.0" r="1.75" fill="#083a0c"/>
<circle cx="48.4" cy="269.2" r="1.72" fill="#083a0c"/>
<circle cx="52.4" cy="269.2" r="1.72" fill="#083a0c"/>
<circle cx="55.9" cy="269.2" r="1.72" fill="#083a0c"/>
<circle cx="60.3" cy="269.2" r="1.72" fill="#083a0c"/>
<circle cx="64.0" cy="269.2" r="1.72" fill="#083a0c"/>
<circle cx="68.7" cy="269.2" r="1.72" fill="#083a0c"/>
<circle cx="72.9" cy="269.2" r="1.72" fill="#083a0c"/>
<circle cx="76.8" cy="269.2" r="1.72" fill="#083a0c"/>
<circle cx="80.4" cy="269.2" r="1.72" fill="#083a0c"/>
<circle cx="84.7" cy="269.2" r="1.72" fill="#083a0c"/>
<circle cx="88.3" cy="269.2" r="1.72" fill="#083a0c"/>
<circle cx="92.9" cy="269.2" r="1.72" fill="#083a0c"/>
<circle cx="96.5" cy="269.2" r="1.72" fill="#083a0c"/>
<circle cx="100.5" cy="269.2" r="1.72" fill="#083a0c"/>
<circle cx="106.4" cy="269.2" r="1.72" fill="#083a0c"/>
<circle cx="48.4" cy="261.0" r="1.72" fill="#083a0c"/>
<circle cx="51.8" cy="261.0" r="1.72" fill="#083a0c"/>
<circle cx="56.1" cy="261.0" r="1.72" fill="#083a0c"/>
<circle cx="60.4" cy="261.0" r="1.72" fill="#083a0c"/>
<circle cx="64.3" cy="261.0" r="1.72" fill="#083a0c"/>
<circle cx="68.2" cy="261.0" r="1.72" fill="#083a0c"/>
<circle cx="72.5" cy="261.0" r="1.72" fill="#083a0c"/>
<circle cx="76.9" cy="261.0" r="1.72" fill="#083a0c"/>
<circle cx="80.6" cy="261.0" r="1.72" fill="#083a0c"/>
<circle cx="85.2" cy="261.0" r="1.72" fill="#083a0c"/>
<circle cx="89.0" cy="261.0" r="1.72" fill="#083a0c"/>
<circle cx="93.3" cy="261.0" r="1.72" fill="#083a0c"/>
<circle cx="96.9" cy="261.0" r="1.72" fill="#083a0c"/>
<circle cx="100.4" cy="261.0" r="1.72" fill="#083a0c"/>
<circle cx="106.4" cy="261.0" r="1.72" fill="#083a0c"/>
<circle cx="48.4" cy="252.6" r="1.72" fill="#083a0c"/>
<circle cx="52.0" cy="252.6" r="1.72" fill="#083a0c"/>
<circle cx="56.7" cy="252.6" r="1.72" fill="#083a0c"/>
<circle cx="61.2" cy="252.6" r="1.72" fill="#083a0c"/>
<circle cx="64.6" cy="252.6" r="1.72" fill="#083a0c"/>
<circle cx="69.0" cy="252.6" r="1.72" fill="#083a0c"/>
<circle cx="72.9" cy="252.6" r="1.72" fill="#083a0c"/>
<circle cx="77.3" cy="252.6" r="1.72" fill="#083a0c"/>
<circle cx="81.9" cy="252.6" r="1.72" fill="#083a0c"/>
<circle cx="85.6" cy="252.6" r="1.72" fill="#083a0c"/>
<circle cx="89.1" cy="252.6" r="1.72" fill="#083a0c"/>
<circle cx="93.8" cy="252.6" r="1.72" fill="#083a0c"/>
<circle cx="97.8" cy="252.6" r="1.72" fill="#083a0c"/>
<circle cx="104.0" cy="252.6" r="1.72" fill="#083a0c"/>
<circle cx="48.4" cy="244.2" r="1.72" fill="#083a0c"/>
<circle cx="52.7" cy="244.2" r="1.72" fill="#083a0c"/>
<circle cx="56.4" cy="244.2" r="1.72" fill="#083a0c"/>
<circle cx="60.1" cy="244.2" r="1.72" fill="#083a0c"/>
<circle cx="64.2" cy="244.2" r="1.72" fill="#083a0c"/>
<circle cx="68.2" cy="244.2" r="1.72" fill="#083a0c"/>
<circle cx="72.9" cy="244.2" r="1.72" fill="#083a0c"/>
<circle cx="76.7" cy="244.2" r="1.72" fill="#083a0c"/>
<circle cx="80.5" cy="244.2" r="1.72" fill="#083a0c"/>
<circle cx="85.2" cy="244.2" r="1.72" fill="#083a0c"/>
<circle cx="88.7" cy="244.2" r="1.72" fill="#083a0c"/>
<circle cx="92.9" cy="244.2" r="1.72" fill="#083a0c"/>
<circle cx="96.7" cy="244.2" r="1.72" fill="#083a0c"/>
<circle cx="103.0" cy="244.2" r="1.72" fill="#083a0c"/>
<circle cx="48.4" cy="235.5" r="1.72" fill="#083a0c"/>
<circle cx="53.2" cy="235.5" r="1.72" fill="#083a0c"/>
<circle cx="57.3" cy="235.5" r="1.72" fill="#083a0c"/>
<circle cx="60.8" cy="235.5" r="1.72" fill="#083a0c"/>
<circle cx="64.9" cy="235.5" r="1.72" fill="#083a0c"/>
<circle cx="68.9" cy="235.5" r="1.72" fill="#083a0c"/>
<circle cx="72.5" cy="235.5" r="1.72" fill="#083a0c"/>
<circle cx="76.0" cy="235.5" r="1.72" fill="#083a0c"/>
<circle cx="106.4" cy="269.2" r="1.75" fill="#d2320c"/>
<circle cx="107.0" cy="261.0" r="1.75" fill="#081242"/>
<circle cx="79.0" cy="235.5" r="1.72" fill="#d2320c"/>
<circle cx="84.0" cy="235.5" r="1.72" fill="#d2320c"/>
<circle cx="52.0" cy="227.2" r="1.75" fill="#d2320c"/>
<circle cx="55.5" cy="227.2" r="1.72" fill="#083a0c"/>
<circle cx="59.3" cy="227.2" r="1.72" fill="#083a0c"/>
<circle cx="63.0" cy="227.2" r="1.72" fill="#083a0c"/>
<circle cx="59.0" cy="227.2" r="1.75" fill="#081242"/>
<circle cx="56.0" cy="218.4" r="1.72" fill="#081242"/>
<circle cx="60.0" cy="218.4" r="1.72" fill="#081242"/>
<circle cx="148.1" cy="277.0" r="1.75" fill="#083a0c"/>
<circle cx="148.1" cy="269.2" r="1.72" fill="#083a0c"/>
<circle cx="152.5" cy="269.2" r="1.72" fill="#083a0c"/>
<circle cx="157.1" cy="269.2" r="1.72" fill="#083a0c"/>
<circle cx="161.9" cy="269.2" r="1.72" fill="#083a0c"/>
<circle cx="165.9" cy="269.2" r="1.72" fill="#083a0c"/>
<circle cx="170.0" cy="269.2" r="1.72" fill="#083a0c"/>
<circle cx="173.6" cy="269.2" r="1.72" fill="#083a0c"/>
<circle cx="177.3" cy="269.2" r="1.72" fill="#083a0c"/>
<circle cx="181.5" cy="269.2" r="1.72" fill="#083a0c"/>
<circle cx="185.0" cy="269.2" r="1.72" fill="#083a0c"/>
<circle cx="189.3" cy="269.2" r="1.72" fill="#083a0c"/>
<circle cx="192.0" cy="269.2" r="1.72" fill="#083a0c"/>
<circle cx="148.1" cy="261.0" r="1.72" fill="#083a0c"/>
<circle cx="152.3" cy="261.0" r="1.72" fill="#083a0c"/>
<circle cx="156.1" cy="261.0" r="1.72" fill="#083a0c"/>
<circle cx="159.7" cy="261.0" r="1.72" fill="#083a0c"/>
<circle cx="163.2" cy="261.0" r="1.72" fill="#083a0c"/>
<circle cx="167.0" cy="261.0" r="1.72" fill="#083a0c"/>
<circle cx="171.0" cy="261.0" r="1.72" fill="#083a0c"/>
<circle cx="175.8" cy="261.0" r="1.72" fill="#083a0c"/>
<circle cx="180.4" cy="261.0" r="1.72" fill="#083a0c"/>
<circle cx="185.1" cy="261.0" r="1.72" fill="#083a0c"/>
<circle cx="191.6" cy="261.0" r="1.72" fill="#083a0c"/>
<circle cx="148.1" cy="252.6" r="1.72" fill="#083a0c"/>
<circle cx="152.0" cy="252.6" r="1.72" fill="#083a0c"/>
<circle cx="156.2" cy="252.6" r="1.72" fill="#083a0c"/>
<circle cx="160.3" cy="252.6" r="1.72" fill="#083a0c"/>
<circle cx="164.2" cy="252.6" r="1.72" fill="#083a0c"/>
<circle cx="167.7" cy="252.6" r="1.72" fill="#083a0c"/>
<circle cx="171.3" cy="252.6" r="1.72" fill="#083a0c"/>
<circle cx="176.0" cy="252.6" r="1.72" fill="#083a0c"/>
<circle cx="180.1" cy="252.6" r="1.72" fill="#083a0c"/>
<circle cx="183.6" cy="252.6" r="1.72" fill="#083a0c"/>
<circle cx="188.2" cy="252.6" r="1.72" fill="#083a0c"/>
<circle cx="191.0" cy="252.6" r="1.72" fill="#083a0c"/>
<circle cx="148.1" cy="244.2" r="1.72" fill="#083a0c"/>
<circle cx="151.7" cy="244.2" r="1.72" fill="#083a0c"/>
<circle cx="156.4" cy="244.2" r="1.72" fill="#083a0c"/>
<circle cx="160.6" cy="244.2" r="1.72" fill="#083a0c"/>
<circle cx="165.1" cy="244.2" r="1.72" fill="#083a0c"/>
<circle cx="168.6" cy="244.2" r="1.72" fill="#083a0c"/>
<circle cx="173.1" cy="244.2" r="1.72" fill="#083a0c"/>
<circle cx="176.5" cy="244.2" r="1.72" fill="#083a0c"/>
<circle cx="180.2" cy="244.2" r="1.72" fill="#083a0c"/>
<circle cx="184.1" cy="244.2" r="1.72" fill="#083a0c"/>
<circle cx="187.4" cy="244.2" r="1.72" fill="#083a0c"/>
<circle cx="190.7" cy="244.2" r="1.72" fill="#083a0c"/>
<circle cx="207.2" cy="244.2" r="1.75" fill="#d2320c"/>
<circle cx="148.1" cy="235.5" r="1.72" fill="#083a0c"/>
<circle cx="152.2" cy="235.5" r="1.72" fill="#083a0c"/>
<circle cx="156.8" cy="235.5" r="1.72" fill="#083a0c"/>
<circle cx="160.3" cy="235.5" r="1.72" fill="#083a0c"/>
<circle cx="165.0" cy="235.5" r="1.72" fill="#083a0c"/>
<circle cx="169.8" cy="235.5" r="1.72" fill="#083a0c"/>
<circle cx="174.2" cy="235.5" r="1.72" fill="#d2320c"/>
<circle cx="178.5" cy="235.5" r="1.72" fill="#d2320c"/>
<circle cx="182.4" cy="235.5" r="1.72" fill="#d2320c"/>
<circle cx="186.0" cy="235.5" r="1.72" fill="#d2320c"/>
<circle cx="190.7" cy="235.5" r="1.72" fill="#d2320c"/>
<circle cx="155.0" cy="227.2" r="1.75" fill="#d2320c"/>
<circle cx="159.4" cy="227.2" r="1.72" fill="#083a0c"/>
<circle cx="161.8" cy="227.2" r="1.72" fill="#083a0c"/>
<circle cx="164.6" cy="227.2" r="1.72" fill="#083a0c"/>
<circle cx="158.5" cy="218.4" r="1.72" fill="#081242"/>
<circle cx="161.2" cy="218.4" r="1.72" fill="#081242"/>
<circle cx="163.0" cy="218.4" r="1.72" fill="#081242"/>
<circle cx="349.8" cy="277.0" r="1.72" fill="#083a0c"/>
<circle cx="353.2" cy="277.0" r="1.72" fill="#083a0c"/>
<circle cx="356.8" cy="277.0" r="1.72" fill="#083a0c"/>
<circle cx="360.6" cy="277.0" r="1.72" fill="#083a0c"/>
<circle cx="364.7" cy="277.0" r="1.72" fill="#083a0c"/>
<circle cx="368.8" cy="277.0" r="1.72" fill="#083a0c"/>
<circle cx="372.8" cy="277.0" r="1.72" fill="#083a0c"/>
<circle cx="376.6" cy="277.0" r="1.72" fill="#083a0c"/>
<circle cx="379.9" cy="277.0" r="1.72" fill="#083a0c"/>
<circle cx="384.1" cy="277.0" r="1.72" fill="#083a0c"/>
<circle cx="388.0" cy="277.0" r="1.72" fill="#083a0c"/>
<circle cx="391.3" cy="277.0" r="1.72" fill="#083a0c"/>
<circle cx="394.2" cy="277.0" r="1.72" fill="#083a0c"/>
<circle cx="396.0" cy="277.0" r="1.72" fill="#d2320c"/>
<circle cx="400.5" cy="277.0" r="1.72" fill="#d2320c"/>
<circle cx="405.5" cy="277.0" r="1.72" fill="#d2320c"/>
<circle cx="349.8" cy="269.2" r="1.72" fill="#083a0c"/>
<circle cx="353.6" cy="269.2" r="1.72" fill="#083a0c"/>
<circle cx="357.4" cy="269.2" r="1.72" fill="#083a0c"/>
<circle cx="362.2" cy="269.2" r="1.72" fill="#083a0c"/>
<circle cx="366.3" cy="269.2" r="1.72" fill="#083a0c"/>
<circle cx="370.1" cy="269.2" r="1.72" fill="#083a0c"/>
<circle cx="373.8" cy="269.2" r="1.72" fill="#083a0c"/>
<circle cx="377.5" cy="269.2" r="1.72" fill="#083a0c"/>
<circle cx="381.4" cy="269.2" r="1.72" fill="#083a0c"/>
<circle cx="384.9" cy="269.2" r="1.72" fill="#083a0c"/>
<circle cx="388.2" cy="269.2" r="1.72" fill="#083a0c"/>
<circle cx="394.2" cy="269.2" r="1.72" fill="#083a0c"/>
<circle cx="396.0" cy="269.2" r="1.72" fill="#d2320c"/>
<circle cx="400.7" cy="269.2" r="1.72" fill="#d2320c"/>
<circle cx="404.6" cy="269.2" r="1.72" fill="#d2320c"/>
<circle cx="349.8" cy="261.0" r="1.72" fill="#083a0c"/>
<circle cx="353.7" cy="261.0" r="1.72" fill="#083a0c"/>
<circle cx="357.3" cy="261.0" r="1.72" fill="#083a0c"/>
<circle cx="361.6" cy="261.0" r="1.72" fill="#083a0c"/>
<circle cx="366.2" cy="261.0" r="1.72" fill="#083a0c"/>
<circle cx="370.5" cy="261.0" r="1.72" fill="#083a0c"/>
<circle cx="374.1" cy="261.0" r="1.72" fill="#083a0c"/>
<circle cx="378.5" cy="261.0" r="1.72" fill="#083a0c"/>
<circle cx="383.3" cy="261.0" r="1.72" fill="#083a0c"/>
<circle cx="389.0" cy="261.0" r="1.72" fill="#083a0c"/>
<circle cx="390.7" cy="261.0" r="1.72" fill="#d2320c"/>
<circle cx="395.0" cy="261.0" r="1.72" fill="#d2320c"/>
<circle cx="398.8" cy="261.0" r="1.72" fill="#d2320c"/>
<circle cx="404.6" cy="261.0" r="1.72" fill="#d2320c"/>
<circle cx="349.8" cy="252.6" r="1.72" fill="#d2320c"/>
<circle cx="354.0" cy="252.6" r="1.72" fill="#d2320c"/>
<circle cx="355.9" cy="252.6" r="1.72" fill="#d2320c"/>
<circle cx="358.0" cy="252.6" r="1.72" fill="#083a0c"/>
<circle cx="362.5" cy="252.6" r="1.72" fill="#083a0c"/>
<circle cx="366.5" cy="252.6" r="1.72" fill="#083a0c"/>
<circle cx="370.6" cy="252.6" r="1.72" fill="#083a0c"/>
<circle cx="374.8" cy="252.6" r="1.72" fill="#083a0c"/>
<circle cx="379.0" cy="252.6" r="1.72" fill="#083a0c"/>
<circle cx="383.3" cy="252.6" r="1.72" fill="#083a0c"/>
<circle cx="387.2" cy="252.6" r="1.72" fill="#083a0c"/>
<circle cx="390.7" cy="252.6" r="1.72" fill="#d2320c"/>
<circle cx="395.0" cy="252.6" r="1.72" fill="#d2320c"/>
<circle cx="399.5" cy="252.6" r="1.72" fill="#d2320c"/>
<circle cx="402.9" cy="252.6" r="1.72" fill="#d2320c"/>
<circle cx="349.8" cy="244.2" r="1.72" fill="#d2320c"/>
<circle cx="354.0" cy="244.2" r="1.72" fill="#d2320c"/>
<circle cx="355.9" cy="244.2" r="1.72" fill="#d2320c"/>
<circle cx="357.6" cy="244.2" r="1.72" fill="#083a0c"/>
<circle cx="361.2" cy="244.2" r="1.72" fill="#083a0c"/>
<circle cx="364.5" cy="244.2" r="1.72" fill="#083a0c"/>
<circle cx="369.0" cy="244.2" r="1.72" fill="#083a0c"/>
<circle cx="372.7" cy="244.2" r="1.72" fill="#083a0c"/>
<circle cx="377.5" cy="244.2" r="1.72" fill="#083a0c"/>
<circle cx="382.0" cy="244.2" r="1.72" fill="#083a0c"/>
<circle cx="386.4" cy="244.2" r="1.72" fill="#d2320c"/>
<circle cx="390.3" cy="244.2" r="1.72" fill="#d2320c"/>
<circle cx="394.2" cy="244.2" r="1.72" fill="#d2320c"/>
<circle cx="349.8" cy="235.5" r="1.72" fill="#d2320c"/>
<circle cx="353.5" cy="235.5" r="1.72" fill="#d2320c"/>
<circle cx="357.1" cy="235.5" r="1.72" fill="#d2320c"/>
<circle cx="361.1" cy="235.5" r="1.72" fill="#d2320c"/>
<circle cx="363.7" cy="235.5" r="1.72" fill="#083a0c"/>
<circle cx="367.4" cy="235.5" r="1.72" fill="#083a0c"/>
<circle cx="371.9" cy="235.5" r="1.72" fill="#083a0c"/>
<circle cx="376.4" cy="235.5" r="1.72" fill="#083a0c"/>
<circle cx="380.2" cy="235.5" r="1.72" fill="#083a0c"/>
<circle cx="383.7" cy="235.5" r="1.72" fill="#083a0c"/>
<circle cx="385.5" cy="235.5" r="1.72" fill="#d2320c"/>
<circle cx="349.8" cy="227.2" r="1.72" fill="#d2320c"/>
<circle cx="354.4" cy="227.2" r="1.72" fill="#d2320c"/>
<circle cx="357.6" cy="227.2" r="1.72" fill="#d2320c"/>
<circle cx="361.1" cy="227.2" r="1.72" fill="#081242"/>
<circle cx="369.8" cy="227.2" r="1.72" fill="#083a0c"/>
<circle cx="375.4" cy="227.2" r="1.72" fill="#081242"/>
<circle cx="354.2" cy="218.4" r="1.72" fill="#081242"/>
<circle cx="357.5" cy="218.4" r="1.72" fill="#081242"/>
<circle cx="359.4" cy="218.4" r="1.72" fill="#081242"/>
<circle cx="446.9" cy="277.0" r="1.75" fill="#081242"/>
<circle cx="446.9" cy="269.2" r="1.75" fill="#081242"/>
<circle cx="446.9" cy="261.0" r="1.75" fill="#081242"/>
<circle cx="446.9" cy="252.6" r="1.75" fill="#081242"/>
<circle cx="446.9" cy="244.2" r="1.75" fill="#081242"/>
<circle cx="446.9" cy="235.5" r="1.75" fill="#081242"/>
<circle cx="446.9" cy="227.2" r="1.75" fill="#081242"/>
<circle cx="446.9" cy="218.4" r="1.75" fill="#081242"/>
<circle cx="476.7" cy="277.0" r="1.75" fill="#d2320c"/>
<circle cx="507.1" cy="277.0" r="1.75" fill="#083a0c"/>
<circle cx="476.7" cy="269.2" r="1.75" fill="#d2320c"/>
<circle cx="507.1" cy="269.2" r="1.75" fill="#083a0c"/>
<circle cx="476.7" cy="261.0" r="1.75" fill="#d2320c"/>
<circle cx="507.1" cy="261.0" r="1.75" fill="#083a0c"/>
<circle cx="476.7" cy="252.6" r="1.75" fill="#d2320c"/>
<circle cx="507.1" cy="252.6" r="1.75" fill="#083a0c"/>
<circle cx="476.7" cy="244.2" r="1.75" fill="#d2320c"/>
<circle cx="507.1" cy="244.2" r="1.75" fill="#083a0c"/>
<circle cx="476.7" cy="235.5" r="1.75" fill="#d2320c"/>
<circle cx="507.1" cy="235.5" r="1.75" fill="#083a0c"/>
<circle cx="476.7" cy="227.2" r="1.75" fill="#d2320c"/>
<circle cx="507.1" cy="227.2" r="1.75" fill="#083a0c"/>
<circle cx="48.1" cy="317.4" r="1.72" fill="#d2320c"/>
<circle cx="48.1" cy="320.7" r="1.72" fill="#d2320c"/>
<circle cx="48.1" cy="324.8" r="1.72" fill="#d2320c"/>
<circle cx="48.1" cy="326.9" r="1.72" fill="#d2320c"/>
<circle cx="48.1" cy="330.3" r="1.72" fill="#083a0c"/>
<circle cx="48.1" cy="333.5" r="1.72" fill="#083a0c"/>
<circle cx="48.1" cy="336.9" r="1.72" fill="#083a0c"/>
<circle cx="48.1" cy="339.9" r="1.72" fill="#083a0c"/>
<circle cx="48.1" cy="342.8" r="1.72" fill="#083a0c"/>
<circle cx="48.1" cy="347.0" r="1.72" fill="#083a0c"/>
<circle cx="48.1" cy="350.3" r="1.72" fill="#083a0c"/>
<circle cx="48.1" cy="354.3" r="1.72" fill="#083a0c"/>
<circle cx="48.1" cy="357.3" r="1.72" fill="#083a0c"/>
<circle cx="48.1" cy="360.8" r="1.72" fill="#083a0c"/>
<circle cx="48.1" cy="363.9" r="1.72" fill="#083a0c"/>
<circle cx="48.1" cy="367.3" r="1.72" fill="#083a0c"/>
<circle cx="48.1" cy="370.4" r="1.72" fill="#083a0c"/>
<circle cx="48.1" cy="374.2" r="1.72" fill="#083a0c"/>
<circle cx="48.1" cy="378.3" r="1.72" fill="#083a0c"/>
<circle cx="53.2" cy="321.7" r="1.75" fill="#d83a10"/>
<circle cx="56.7" cy="320.8" r="1.75" fill="#d83a10"/>
<circle cx="61.3" cy="320.1" r="1.75" fill="#d83a10"/>
<circle cx="64.8" cy="320.5" r="1.75" fill="#d83a10"/>
<circle cx="67.5" cy="320.5" r="1.75" fill="#d83a10"/>
<circle cx="70.6" cy="321.5" r="1.75" fill="#d83a10"/>
<circle cx="75.6" cy="320.2" r="1.75" fill="#d83a10"/>
<circle cx="78.2" cy="321.2" r="1.75" fill="#d83a10"/>
<circle cx="81.8" cy="321.7" r="1.75" fill="#d83a10"/>
<circle cx="86.1" cy="321.5" r="1.75" fill="#d83a10"/>
<circle cx="89.5" cy="321.8" r="1.75" fill="#d83a10"/>
<circle cx="93.1" cy="321.3" r="1.75" fill="#d83a10"/>
<circle cx="96.9" cy="320.8" r="1.75" fill="#d83a10"/>
<circle cx="100.3" cy="321.2" r="1.75" fill="#d83a10"/>
<circle cx="51.7" cy="324.1" r="1.75" fill="#d83a10"/>
<circle cx="55.3" cy="323.7" r="1.75" fill="#d83a10"/>
<circle cx="62.7" cy="324.1" r="1.75" fill="#d83a10"/>
<circle cx="65.4" cy="323.5" r="1.75" fill="#d83a10"/>
<circle cx="73.1" cy="324.1" r="1.75" fill="#d83a10"/>
<circle cx="76.3" cy="323.5" r="1.75" fill="#d83a10"/>
<circle cx="80.2" cy="324.3" r="1.75" fill="#d83a10"/>
<circle cx="84.6" cy="324.7" r="1.75" fill="#d83a10"/>
<circle cx="87.3" cy="324.6" r="1.75" fill="#d83a10"/>
<circle cx="90.5" cy="323.5" r="1.75" fill="#d83a10"/>
<circle cx="94.0" cy="323.8" r="1.75" fill="#d83a10"/>
<circle cx="98.3" cy="324.0" r="1.75" fill="#d83a10"/>
<circle cx="101.7" cy="324.9" r="1.75" fill="#d83a10"/>
<circle cx="53.2" cy="327.2" r="1.75" fill="#d83a10"/>
<circle cx="57.3" cy="326.6" r="1.75" fill="#d83a10"/>
<circle cx="60.3" cy="327.2" r="1.75" fill="#d83a10"/>
<circle cx="63.9" cy="326.9" r="1.75" fill="#d83a10"/>
<circle cx="66.9" cy="326.7" r="1.75" fill="#d83a10"/>
<circle cx="70.5" cy="326.6" r="1.75" fill="#d83a10"/>
<circle cx="74.5" cy="326.9" r="1.75" fill="#d83a10"/>
<circle cx="79.1" cy="326.5" r="1.75" fill="#d83a10"/>
<circle cx="82.7" cy="326.7" r="1.75" fill="#d83a10"/>
<circle cx="86.2" cy="327.4" r="1.75" fill="#d83a10"/>
<circle cx="88.5" cy="327.1" r="1.75" fill="#d83a10"/>
<circle cx="93.3" cy="326.8" r="1.75" fill="#d83a10"/>
<circle cx="96.8" cy="327.7" r="1.75" fill="#d83a10"/>
<circle cx="99.9" cy="327.3" r="1.75" fill="#d83a10"/>
<circle cx="59.5" cy="330.7" r="1.75" fill="#d83a10"/>
<circle cx="62.6" cy="330.0" r="1.75" fill="#d83a10"/>
<circle cx="66.3" cy="330.1" r="1.75" fill="#d83a10"/>
<circle cx="69.5" cy="331.0" r="1.75" fill="#d83a10"/>
<circle cx="72.3" cy="330.5" r="1.75" fill="#d83a10"/>
<circle cx="76.6" cy="330.9" r="1.75" fill="#d83a10"/>
<circle cx="80.3" cy="331.0" r="1.75" fill="#d83a10"/>
<circle cx="83.9" cy="330.3" r="1.75" fill="#d83a10"/>
<circle cx="87.8" cy="330.7" r="1.75" fill="#d83a10"/>
<circle cx="90.3" cy="330.6" r="1.75" fill="#d83a10"/>
<circle cx="95.2" cy="330.8" r="1.75" fill="#d83a10"/>
<circle cx="97.8" cy="329.6" r="1.75" fill="#d83a10"/>
<circle cx="101.2" cy="329.6" r="1.75" fill="#d83a10"/>
<circle cx="57.0" cy="332.7" r="1.75" fill="#d83a10"/>
<circle cx="60.9" cy="333.4" r="1.75" fill="#d83a10"/>
<circle cx="64.4" cy="333.3" r="1.75" fill="#d83a10"/>
<circle cx="68.5" cy="334.0" r="1.75" fill="#d83a10"/>
<circle cx="70.7" cy="333.2" r="1.75" fill="#d83a10"/>
<circle cx="74.1" cy="334.3" r="1.75" fill="#d83a10"/>
<circle cx="78.1" cy="333.1" r="1.75" fill="#d83a10"/>
<circle cx="82.7" cy="333.6" r="1.75" fill="#d83a10"/>
<circle cx="85.6" cy="332.7" r="1.75" fill="#d83a10"/>
<circle cx="89.9" cy="334.0" r="1.75" fill="#d83a10"/>
<circle cx="92.5" cy="333.0" r="1.75" fill="#d83a10"/>
<circle cx="96.6" cy="333.2" r="1.75" fill="#d83a10"/>
<circle cx="100.1" cy="333.6" r="1.75" fill="#d83a10"/>
<circle cx="62.8" cy="336.1" r="1.75" fill="#d83a10"/>
<circle cx="68.7" cy="336.3" r="1.75" fill="#d83a10"/>
<circle cx="72.9" cy="336.7" r="1.75" fill="#d83a10"/>
<circle cx="76.3" cy="337.1" r="1.75" fill="#d83a10"/>
<circle cx="80.7" cy="337.1" r="1.75" fill="#d83a10"/>
<circle cx="83.8" cy="337.3" r="1.75" fill="#d83a10"/>
<circle cx="88.1" cy="335.8" r="1.75" fill="#d83a10"/>
<circle cx="91.3" cy="335.8" r="1.75" fill="#d83a10"/>
<circle cx="94.0" cy="336.8" r="1.75" fill="#d83a10"/>
<circle cx="99.0" cy="336.7" r="1.75" fill="#d83a10"/>
<circle cx="101.9" cy="336.9" r="1.75" fill="#d83a10"/>
<circle cx="67.4" cy="339.2" r="1.75" fill="#d83a10"/>
<circle cx="70.7" cy="340.4" r="1.75" fill="#d83a10"/>
<circle cx="74.2" cy="339.0" r="1.75" fill="#d83a10"/>
<circle cx="79.3" cy="339.6" r="1.75" fill="#d83a10"/>
<circle cx="81.7" cy="340.4" r="1.75" fill="#d83a10"/>
<circle cx="85.1" cy="339.0" r="1.75" fill="#d83a10"/>
<circle cx="88.5" cy="340.3" r="1.75" fill="#d83a10"/>
<circle cx="92.4" cy="339.9" r="1.75" fill="#d83a10"/>
<circle cx="96.6" cy="339.1" r="1.75" fill="#d83a10"/>
<circle cx="73.7" cy="342.3" r="1.75" fill="#d83a10"/>
<circle cx="77.5" cy="342.7" r="1.75" fill="#d83a10"/>
<circle cx="80.1" cy="343.1" r="1.75" fill="#d83a10"/>
<circle cx="84.0" cy="342.2" r="1.75" fill="#d83a10"/>
<circle cx="87.9" cy="342.7" r="1.75" fill="#d83a10"/>
<circle cx="90.4" cy="343.4" r="1.75" fill="#d83a10"/>
<circle cx="95.4" cy="343.7" r="1.75" fill="#d83a10"/>
<circle cx="101.5" cy="342.6" r="1.75" fill="#d83a10"/>
<circle cx="78.5" cy="346.7" r="1.75" fill="#d83a10"/>
<circle cx="82.1" cy="346.6" r="1.75" fill="#d83a10"/>
<circle cx="85.8" cy="345.3" r="1.75" fill="#d83a10"/>
<circle cx="88.9" cy="346.7" r="1.75" fill="#d83a10"/>
<circle cx="51.4" cy="338.9" r="1.75" fill="#165a1a"/>
<circle cx="55.7" cy="338.9" r="1.75" fill="#165a1a"/>
<circle cx="59.9" cy="338.4" r="1.75" fill="#165a1a"/>
<circle cx="62.4" cy="338.0" r="1.75" fill="#165a1a"/>
<circle cx="54.1" cy="340.7" r="1.75" fill="#165a1a"/>
<circle cx="57.0" cy="340.5" r="1.75" fill="#165a1a"/>
<circle cx="60.2" cy="341.4" r="1.75" fill="#165a1a"/>
<circle cx="64.7" cy="341.2" r="1.75" fill="#165a1a"/>
<circle cx="51.9" cy="343.7" r="1.75" fill="#165a1a"/>
<circle cx="54.9" cy="344.5" r="1.75" fill="#165a1a"/>
<circle cx="58.9" cy="344.7" r="1.75" fill="#165a1a"/>
<circle cx="62.1" cy="345.1" r="1.75" fill="#165a1a"/>
<circle cx="66.9" cy="345.0" r="1.75" fill="#165a1a"/>
<circle cx="69.3" cy="343.7" r="1.75" fill="#165a1a"/>
<circle cx="53.0" cy="347.5" r="1.75" fill="#165a1a"/>
<circle cx="56.6" cy="347.5" r="1.75" fill="#165a1a"/>
<circle cx="61.0" cy="347.5" r="1.75" fill="#165a1a"/>
<circle cx="64.0" cy="347.4" r="1.75" fill="#165a1a"/>
<circle cx="67.5" cy="347.1" r="1.75" fill="#165a1a"/>
<circle cx="71.7" cy="348.2" r="1.75" fill="#165a1a"/>
<circle cx="76.1" cy="347.5" r="1.75" fill="#165a1a"/>
<circle cx="52.0" cy="351.0" r="1.75" fill="#165a1a"/>
<circle cx="55.9" cy="350.1" r="1.75" fill="#165a1a"/>
<circle cx="58.3" cy="350.5" r="1.75" fill="#165a1a"/>
<circle cx="62.3" cy="351.3" r="1.75" fill="#165a1a"/>
<circle cx="66.4" cy="350.2" r="1.75" fill="#165a1a"/>
<circle cx="70.4" cy="351.0" r="1.75" fill="#165a1a"/>
<circle cx="73.1" cy="350.8" r="1.75" fill="#165a1a"/>
<circle cx="80.9" cy="351.0" r="1.75" fill="#165a1a"/>
<circle cx="84.0" cy="351.2" r="1.75" fill="#165a1a"/>
<circle cx="88.6" cy="349.8" r="1.75" fill="#165a1a"/>
<circle cx="94.9" cy="350.0" r="1.75" fill="#165a1a"/>
<circle cx="99.1" cy="351.0" r="1.75" fill="#165a1a"/>
<circle cx="102.0" cy="350.0" r="1.75" fill="#165a1a"/>
<circle cx="53.2" cy="353.5" r="1.75" fill="#165a1a"/>
<circle cx="64.5" cy="353.8" r="1.75" fill="#165a1a"/>
<circle cx="68.8" cy="354.2" r="1.75" fill="#165a1a"/>
<circle cx="71.2" cy="354.0" r="1.75" fill="#165a1a"/>
<circle cx="75.8" cy="353.1" r="1.75" fill="#165a1a"/>
<circle cx="78.6" cy="353.2" r="1.75" fill="#165a1a"/>
<circle cx="86.5" cy="353.2" r="1.75" fill="#165a1a"/>
<circle cx="90.4" cy="354.5" r="1.75" fill="#165a1a"/>
<circle cx="93.9" cy="354.3" r="1.75" fill="#165a1a"/>
<circle cx="96.8" cy="354.3" r="1.75" fill="#165a1a"/>
<circle cx="101.1" cy="353.5" r="1.75" fill="#165a1a"/>
<circle cx="52.7" cy="356.3" r="1.75" fill="#165a1a"/>
<circle cx="58.7" cy="357.5" r="1.75" fill="#165a1a"/>
<circle cx="62.2" cy="356.9" r="1.75" fill="#165a1a"/>
<circle cx="66.3" cy="357.6" r="1.75" fill="#165a1a"/>
<circle cx="70.3" cy="356.7" r="1.75" fill="#165a1a"/>
<circle cx="74.0" cy="357.2" r="1.75" fill="#165a1a"/>
<circle cx="80.5" cy="356.2" r="1.75" fill="#165a1a"/>
<circle cx="84.9" cy="356.7" r="1.75" fill="#165a1a"/>
<circle cx="88.5" cy="357.4" r="1.75" fill="#165a1a"/>
<circle cx="91.5" cy="356.1" r="1.75" fill="#165a1a"/>
<circle cx="95.6" cy="356.8" r="1.75" fill="#165a1a"/>
<circle cx="98.6" cy="356.6" r="1.75" fill="#165a1a"/>
<circle cx="53.5" cy="360.6" r="1.75" fill="#165a1a"/>
<circle cx="56.9" cy="359.4" r="1.75" fill="#165a1a"/>
<circle cx="61.2" cy="360.0" r="1.75" fill="#165a1a"/>
<circle cx="65.0" cy="359.4" r="1.75" fill="#165a1a"/>
<circle cx="67.3" cy="360.6" r="1.75" fill="#165a1a"/>
<circle cx="71.3" cy="360.8" r="1.75" fill="#165a1a"/>
<circle cx="74.8" cy="360.7" r="1.75" fill="#165a1a"/>
<circle cx="79.6" cy="359.9" r="1.75" fill="#165a1a"/>
<circle cx="83.3" cy="360.1" r="1.75" fill="#165a1a"/>
<circle cx="52.5" cy="362.6" r="1.75" fill="#165a1a"/>
<circle cx="54.7" cy="362.6" r="1.75" fill="#165a1a"/>
<circle cx="63.2" cy="362.8" r="1.75" fill="#165a1a"/>
<circle cx="65.6" cy="363.3" r="1.75" fill="#165a1a"/>
<circle cx="69.9" cy="363.0" r="1.75" fill="#165a1a"/>
<circle cx="77.4" cy="362.5" r="1.75" fill="#165a1a"/>
<circle cx="53.6" cy="367.1" r="1.75" fill="#165a1a"/>
<circle cx="57.6" cy="366.5" r="1.75" fill="#165a1a"/>
<circle cx="60.9" cy="366.6" r="1.75" fill="#165a1a"/>
<circle cx="64.5" cy="366.1" r="1.75" fill="#165a1a"/>
<circle cx="72.3" cy="366.6" r="1.75" fill="#165a1a"/>
<circle cx="51.8" cy="369.9" r="1.75" fill="#165a1a"/>
<circle cx="55.9" cy="369.9" r="1.75" fill="#165a1a"/>
<circle cx="58.8" cy="368.8" r="1.75" fill="#165a1a"/>
<circle cx="65.7" cy="369.6" r="1.75" fill="#165a1a"/>
<circle cx="52.9" cy="372.4" r="1.75" fill="#165a1a"/>
<circle cx="57.5" cy="372.2" r="1.75" fill="#165a1a"/>
<circle cx="60.5" cy="372.7" r="1.75" fill="#165a1a"/>
<circle cx="65.3" cy="372.8" r="1.75" fill="#165a1a"/>
<circle cx="52.2" cy="375.5" r="1.75" fill="#165a1a"/>
<circle cx="59.4" cy="375.3" r="1.75" fill="#165a1a"/>
<circle cx="62.8" cy="376.3" r="1.75" fill="#165a1a"/>
<circle cx="67.7" cy="373.6" r="1.72" fill="#d2320c"/>
<circle cx="71.7" cy="373.6" r="1.72" fill="#d2320c"/>
<circle cx="75.1" cy="373.6" r="1.72" fill="#d2320c"/>
<circle cx="78.3" cy="373.6" r="1.72" fill="#d2320c"/>
<circle cx="82.0" cy="373.6" r="1.72" fill="#d2320c"/>
<circle cx="85.3" cy="373.6" r="1.72" fill="#d2320c"/>
<circle cx="100.2" cy="374.6" r="1.75" fill="#d2320c"/>
<circle cx="88.7" cy="366.2" r="1.75" fill="#083a0c"/>
<circle cx="73.1" cy="368.9" r="1.75" fill="#081242"/>
<circle cx="107.0" cy="351.3" r="1.75" fill="#081242"/>
<circle cx="148.1" cy="317.4" r="1.72" fill="#d2320c"/>
<circle cx="148.1" cy="320.5" r="1.72" fill="#d2320c"/>
<circle cx="148.1" cy="323.8" r="1.72" fill="#d2320c"/>
<circle cx="148.1" cy="326.9" r="1.72" fill="#d2320c"/>
<circle cx="148.1" cy="330.3" r="1.72" fill="#083a0c"/>
<circle cx="148.1" cy="333.8" r="1.72" fill="#083a0c"/>
<circle cx="148.1" cy="337.7" r="1.72" fill="#083a0c"/>
<circle cx="148.1" cy="341.4" r="1.72" fill="#083a0c"/>
<circle cx="148.1" cy="345.3" r="1.72" fill="#083a0c"/>
<circle cx="148.1" cy="348.6" r="1.72" fill="#083a0c"/>
<circle cx="148.1" cy="351.6" r="1.72" fill="#083a0c"/>
<circle cx="148.1" cy="355.5" r="1.72" fill="#083a0c"/>
<circle cx="148.1" cy="359.0" r="1.72" fill="#083a0c"/>
<circle cx="148.1" cy="362.6" r="1.72" fill="#083a0c"/>
<circle cx="148.1" cy="366.3" r="1.72" fill="#083a0c"/>
<circle cx="148.1" cy="370.1" r="1.72" fill="#083a0c"/>
<circle cx="148.1" cy="373.4" r="1.72" fill="#083a0c"/>
<circle cx="148.1" cy="377.7" r="1.72" fill="#083a0c"/>
<circle cx="154.3" cy="321.0" r="1.75" fill="#d83a10"/>
<circle cx="157.9" cy="320.7" r="1.75" fill="#d83a10"/>
<circle cx="161.9" cy="321.3" r="1.75" fill="#d83a10"/>
<circle cx="166.1" cy="320.6" r="1.75" fill="#d83a10"/>
<circle cx="168.3" cy="321.1" r="1.75" fill="#d83a10"/>
<circle cx="173.2" cy="321.5" r="1.75" fill="#d83a10"/>
<circle cx="152.6" cy="324.5" r="1.75" fill="#d83a10"/>
<circle cx="157.0" cy="324.9" r="1.75" fill="#d83a10"/>
<circle cx="159.4" cy="324.7" r="1.75" fill="#d83a10"/>
<circle cx="163.6" cy="325.0" r="1.75" fill="#d83a10"/>
<circle cx="167.6" cy="324.9" r="1.75" fill="#d83a10"/>
<circle cx="171.4" cy="323.7" r="1.75" fill="#d83a10"/>
<circle cx="174.7" cy="324.6" r="1.75" fill="#d83a10"/>
<circle cx="153.9" cy="327.7" r="1.75" fill="#d83a10"/>
<circle cx="157.8" cy="327.0" r="1.75" fill="#d83a10"/>
<circle cx="161.1" cy="327.8" r="1.75" fill="#d83a10"/>
<circle cx="168.8" cy="327.8" r="1.75" fill="#d83a10"/>
<circle cx="173.2" cy="327.2" r="1.75" fill="#d83a10"/>
<circle cx="153.0" cy="330.0" r="1.75" fill="#d83a10"/>
<circle cx="155.7" cy="330.5" r="1.75" fill="#d83a10"/>
<circle cx="160.5" cy="329.8" r="1.75" fill="#d83a10"/>
<circle cx="162.9" cy="330.2" r="1.75" fill="#d83a10"/>
<circle cx="166.9" cy="330.3" r="1.75" fill="#d83a10"/>
<circle cx="170.3" cy="331.1" r="1.75" fill="#d83a10"/>
<circle cx="175.0" cy="331.2" r="1.75" fill="#d83a10"/>
<circle cx="153.8" cy="334.2" r="1.75" fill="#d83a10"/>
<circle cx="158.2" cy="333.6" r="1.75" fill="#d83a10"/>
<circle cx="162.0" cy="334.1" r="1.75" fill="#d83a10"/>
<circle cx="165.2" cy="333.8" r="1.75" fill="#d83a10"/>
<circle cx="168.5" cy="334.4" r="1.75" fill="#d83a10"/>
<circle cx="177.0" cy="333.5" r="1.75" fill="#d83a10"/>
<circle cx="163.6" cy="336.3" r="1.75" fill="#d83a10"/>
<circle cx="167.5" cy="337.2" r="1.75" fill="#d83a10"/>
<circle cx="170.5" cy="336.4" r="1.75" fill="#d83a10"/>
<circle cx="174.0" cy="336.4" r="1.75" fill="#d83a10"/>
<circle cx="178.0" cy="336.8" r="1.75" fill="#d83a10"/>
<circle cx="165.7" cy="339.5" r="1.75" fill="#d83a10"/>
<circle cx="169.1" cy="340.4" r="1.75" fill="#d83a10"/>
<circle cx="177.0" cy="340.7" r="1.75" fill="#d83a10"/>
<circle cx="180.2" cy="339.3" r="1.75" fill="#d83a10"/>
<circle cx="170.0" cy="343.8" r="1.75" fill="#d83a10"/>
<circle cx="174.6" cy="342.8" r="1.75" fill="#d83a10"/>
<circle cx="177.4" cy="343.4" r="1.75" fill="#d83a10"/>
<circle cx="153.8" cy="337.6" r="1.75" fill="#165a1a"/>
<circle cx="158.9" cy="338.6" r="1.75" fill="#165a1a"/>
<circle cx="152.1" cy="340.6" r="1.75" fill="#165a1a"/>
<circle cx="156.9" cy="341.2" r="1.75" fill="#165a1a"/>
<circle cx="164.1" cy="341.2" r="1.75" fill="#165a1a"/>
<circle cx="154.0" cy="343.7" r="1.75" fill="#165a1a"/>
<circle cx="158.2" cy="343.9" r="1.75" fill="#165a1a"/>
<circle cx="161.0" cy="345.1" r="1.75" fill="#165a1a"/>
<circle cx="166.2" cy="345.2" r="1.75" fill="#165a1a"/>
<circle cx="153.2" cy="347.3" r="1.75" fill="#165a1a"/>
<circle cx="157.0" cy="346.9" r="1.75" fill="#165a1a"/>
<circle cx="159.5" cy="347.7" r="1.75" fill="#165a1a"/>
<circle cx="162.8" cy="348.1" r="1.75" fill="#165a1a"/>
<circle cx="167.1" cy="346.8" r="1.75" fill="#165a1a"/>
<circle cx="170.9" cy="346.8" r="1.75" fill="#165a1a"/>
<circle cx="154.8" cy="351.3" r="1.75" fill="#165a1a"/>
<circle cx="158.4" cy="350.2" r="1.75" fill="#165a1a"/>
<circle cx="162.5" cy="350.5" r="1.75" fill="#165a1a"/>
<circle cx="165.6" cy="350.0" r="1.75" fill="#165a1a"/>
<circle cx="168.9" cy="350.8" r="1.75" fill="#165a1a"/>
<circle cx="173.0" cy="350.6" r="1.75" fill="#165a1a"/>
<circle cx="176.6" cy="349.9" r="1.75" fill="#165a1a"/>
<circle cx="179.6" cy="351.0" r="1.75" fill="#165a1a"/>
<circle cx="183.0" cy="350.9" r="1.75" fill="#165a1a"/>
<circle cx="187.0" cy="350.1" r="1.75" fill="#165a1a"/>
<circle cx="153.0" cy="353.0" r="1.75" fill="#165a1a"/>
<circle cx="157.2" cy="353.3" r="1.75" fill="#165a1a"/>
<circle cx="160.5" cy="354.3" r="1.75" fill="#165a1a"/>
<circle cx="164.0" cy="353.0" r="1.75" fill="#165a1a"/>
<circle cx="168.0" cy="354.3" r="1.75" fill="#165a1a"/>
<circle cx="170.0" cy="353.4" r="1.75" fill="#165a1a"/>
<circle cx="178.3" cy="354.5" r="1.75" fill="#165a1a"/>
<circle cx="182.3" cy="353.4" r="1.75" fill="#165a1a"/>
<circle cx="184.4" cy="354.2" r="1.75" fill="#165a1a"/>
<circle cx="189.6" cy="354.1" r="1.75" fill="#165a1a"/>
<circle cx="155.1" cy="356.4" r="1.75" fill="#165a1a"/>
<circle cx="157.5" cy="357.4" r="1.75" fill="#165a1a"/>
<circle cx="162.5" cy="356.1" r="1.75" fill="#165a1a"/>
<circle cx="165.5" cy="357.5" r="1.75" fill="#165a1a"/>
<circle cx="169.2" cy="357.1" r="1.75" fill="#165a1a"/>
<circle cx="171.9" cy="356.2" r="1.75" fill="#165a1a"/>
<circle cx="175.8" cy="356.7" r="1.75" fill="#165a1a"/>
<circle cx="180.2" cy="356.1" r="1.75" fill="#165a1a"/>
<circle cx="183.9" cy="356.9" r="1.75" fill="#165a1a"/>
<circle cx="187.3" cy="356.4" r="1.75" fill="#165a1a"/>
<circle cx="189.9" cy="357.7" r="1.75" fill="#165a1a"/>
<circle cx="152.5" cy="359.4" r="1.75" fill="#165a1a"/>
<circle cx="157.0" cy="360.6" r="1.75" fill="#165a1a"/>
<circle cx="159.8" cy="359.7" r="1.75" fill="#165a1a"/>
<circle cx="163.0" cy="360.2" r="1.75" fill="#165a1a"/>
<circle cx="170.0" cy="359.3" r="1.75" fill="#165a1a"/>
<circle cx="174.7" cy="360.2" r="1.75" fill="#165a1a"/>
<circle cx="177.9" cy="359.9" r="1.75" fill="#165a1a"/>
<circle cx="181.9" cy="360.8" r="1.75" fill="#165a1a"/>
<circle cx="185.7" cy="360.8" r="1.75" fill="#165a1a"/>
<circle cx="189.2" cy="359.3" r="1.75" fill="#165a1a"/>
<circle cx="155.2" cy="363.1" r="1.75" fill="#165a1a"/>
<circle cx="157.7" cy="363.9" r="1.75" fill="#165a1a"/>
<circle cx="162.2" cy="362.8" r="1.75" fill="#165a1a"/>
<circle cx="165.1" cy="362.9" r="1.75" fill="#165a1a"/>
<circle cx="168.9" cy="364.0" r="1.75" fill="#165a1a"/>
<circle cx="173.3" cy="363.6" r="1.75" fill="#165a1a"/>
<circle cx="177.0" cy="363.6" r="1.75" fill="#165a1a"/>
<circle cx="179.4" cy="363.0" r="1.75" fill="#165a1a"/>
<circle cx="152.3" cy="367.0" r="1.75" fill="#165a1a"/>
<circle cx="160.5" cy="366.8" r="1.75" fill="#165a1a"/>
<circle cx="164.1" cy="366.4" r="1.75" fill="#165a1a"/>
<circle cx="167.8" cy="366.0" r="1.75" fill="#165a1a"/>
<circle cx="170.6" cy="366.4" r="1.75" fill="#165a1a"/>
<circle cx="178.1" cy="366.6" r="1.75" fill="#165a1a"/>
<circle cx="155.3" cy="369.3" r="1.75" fill="#165a1a"/>
<circle cx="158.5" cy="370.2" r="1.75" fill="#165a1a"/>
<circle cx="161.3" cy="369.1" r="1.75" fill="#165a1a"/>
<circle cx="164.6" cy="369.0" r="1.75" fill="#165a1a"/>
<circle cx="169.8" cy="368.9" r="1.75" fill="#165a1a"/>
<circle cx="172.9" cy="369.8" r="1.75" fill="#165a1a"/>
<circle cx="153.2" cy="372.2" r="1.75" fill="#165a1a"/>
<circle cx="155.6" cy="372.9" r="1.75" fill="#165a1a"/>
<circle cx="159.6" cy="373.4" r="1.75" fill="#165a1a"/>
<circle cx="163.8" cy="372.8" r="1.75" fill="#165a1a"/>
<circle cx="167.5" cy="372.3" r="1.75" fill="#165a1a"/>
<circle cx="170.1" cy="371.8" r="1.75" fill="#165a1a"/>
<circle cx="154.0" cy="375.1" r="1.75" fill="#165a1a"/>
<circle cx="159.0" cy="376.0" r="1.75" fill="#165a1a"/>
<circle cx="162.3" cy="375.2" r="1.75" fill="#165a1a"/>
<circle cx="165.1" cy="375.6" r="1.75" fill="#165a1a"/>
<circle cx="168.9" cy="376.1" r="1.75" fill="#165a1a"/>
<circle cx="171.8" cy="373.6" r="1.72" fill="#d2320c"/>
<circle cx="174.9" cy="373.6" r="1.72" fill="#d2320c"/>
<circle cx="179.1" cy="373.6" r="1.72" fill="#d2320c"/>
<circle cx="182.5" cy="373.6" r="1.72" fill="#d2320c"/>
<circle cx="186.6" cy="373.6" r="1.72" fill="#d2320c"/>
<circle cx="190.7" cy="373.6" r="1.72" fill="#d2320c"/>
<circle cx="207.0" cy="374.6" r="1.75" fill="#d2320c"/>
<circle cx="186.0" cy="366.2" r="1.75" fill="#083a0c"/>
<circle cx="188.7" cy="349.9" r="1.75" fill="#081242"/>
<circle cx="174.5" cy="367.5" r="1.75" fill="#081242"/>
<circle cx="248.9" cy="317.2" r="1.72" fill="#d2320c"/>
<circle cx="248.9" cy="321.4" r="1.72" fill="#d2320c"/>
<circle cx="248.9" cy="324.9" r="1.72" fill="#d2320c"/>
<circle cx="248.9" cy="327.6" r="1.72" fill="#d2320c"/>
<circle cx="248.9" cy="330.2" r="1.72" fill="#083a0c"/>
<circle cx="248.9" cy="334.7" r="1.72" fill="#083a0c"/>
<circle cx="248.9" cy="338.1" r="1.72" fill="#083a0c"/>
<circle cx="248.9" cy="342.7" r="1.72" fill="#083a0c"/>
<circle cx="248.9" cy="346.5" r="1.72" fill="#083a0c"/>
<circle cx="248.9" cy="350.8" r="1.72" fill="#083a0c"/>
<circle cx="248.9" cy="354.2" r="1.72" fill="#083a0c"/>
<circle cx="248.9" cy="358.6" r="1.72" fill="#083a0c"/>
<circle cx="248.9" cy="362.2" r="1.72" fill="#083a0c"/>
<circle cx="248.9" cy="365.9" r="1.72" fill="#083a0c"/>
<circle cx="248.9" cy="369.9" r="1.72" fill="#083a0c"/>
<circle cx="248.9" cy="373.3" r="1.72" fill="#083a0c"/>
<circle cx="248.9" cy="376.4" r="1.72" fill="#083a0c"/>
<circle cx="257.1" cy="318.0" r="1.72" fill="#d2320c"/>
<circle cx="257.1" cy="321.9" r="1.72" fill="#d2320c"/>
<circle cx="257.1" cy="325.3" r="1.72" fill="#d2320c"/>
<circle cx="257.1" cy="327.6" r="1.72" fill="#d2320c"/>
<circle cx="257.1" cy="330.2" r="1.72" fill="#083a0c"/>
<circle cx="257.1" cy="334.7" r="1.72" fill="#083a0c"/>
<circle cx="257.1" cy="339.3" r="1.72" fill="#083a0c"/>
<circle cx="257.1" cy="343.8" r="1.72" fill="#083a0c"/>
<circle cx="257.1" cy="347.2" r="1.72" fill="#083a0c"/>
<circle cx="257.1" cy="351.8" r="1.72" fill="#083a0c"/>
<circle cx="257.1" cy="355.8" r="1.72" fill="#083a0c"/>
<circle cx="257.1" cy="359.4" r="1.72" fill="#083a0c"/>
<circle cx="257.1" cy="362.9" r="1.72" fill="#083a0c"/>
<circle cx="257.1" cy="367.3" r="1.72" fill="#083a0c"/>
<circle cx="257.1" cy="370.9" r="1.72" fill="#083a0c"/>
<circle cx="257.1" cy="374.2" r="1.72" fill="#083a0c"/>
<circle cx="257.1" cy="376.4" r="1.72" fill="#083a0c"/>
<circle cx="266.0" cy="318.0" r="1.72" fill="#d2320c"/>
<circle cx="266.0" cy="322.6" r="1.72" fill="#d2320c"/>
<circle cx="266.0" cy="326.9" r="1.72" fill="#d2320c"/>
<circle cx="266.0" cy="331.4" r="1.72" fill="#d2320c"/>
<circle cx="266.0" cy="333.7" r="1.72" fill="#d2320c"/>
<circle cx="266.0" cy="336.0" r="1.72" fill="#083a0c"/>
<circle cx="266.0" cy="339.5" r="1.72" fill="#083a0c"/>
<circle cx="266.0" cy="343.8" r="1.72" fill="#083a0c"/>
<circle cx="266.0" cy="347.9" r="1.72" fill="#083a0c"/>
<circle cx="266.0" cy="352.5" r="1.72" fill="#083a0c"/>
<circle cx="266.0" cy="356.3" r="1.72" fill="#083a0c"/>
<circle cx="266.0" cy="360.5" r="1.72" fill="#083a0c"/>
<circle cx="266.0" cy="363.8" r="1.72" fill="#083a0c"/>
<circle cx="266.0" cy="368.4" r="1.72" fill="#083a0c"/>
<circle cx="266.0" cy="372.0" r="1.72" fill="#083a0c"/>
<circle cx="266.0" cy="376.4" r="1.72" fill="#083a0c"/>
<circle cx="274.2" cy="318.5" r="1.72" fill="#d2320c"/>
<circle cx="274.2" cy="322.1" r="1.72" fill="#d2320c"/>
<circle cx="274.2" cy="326.0" r="1.72" fill="#d2320c"/>
<circle cx="274.2" cy="330.1" r="1.72" fill="#d2320c"/>
<circle cx="274.2" cy="335.0" r="1.72" fill="#d2320c"/>
<circle cx="274.2" cy="337.2" r="1.72" fill="#083a0c"/>
<circle cx="274.2" cy="340.8" r="1.72" fill="#083a0c"/>
<circle cx="274.2" cy="344.3" r="1.72" fill="#083a0c"/>
<circle cx="274.2" cy="348.3" r="1.72" fill="#083a0c"/>
<circle cx="274.2" cy="352.2" r="1.72" fill="#083a0c"/>
<circle cx="274.2" cy="356.1" r="1.72" fill="#083a0c"/>
<circle cx="274.2" cy="360.6" r="1.72" fill="#083a0c"/>
<circle cx="274.2" cy="365.9" r="1.72" fill="#083a0c"/>
<circle cx="274.2" cy="371.2" r="1.72" fill="#d2320c"/>
<circle cx="274.2" cy="376.4" r="1.72" fill="#d2320c"/>
<circle cx="282.0" cy="330.2" r="1.72" fill="#d2320c"/>
<circle cx="282.0" cy="334.4" r="1.72" fill="#d2320c"/>
<circle cx="282.0" cy="337.2" r="1.72" fill="#d2320c"/>
<circle cx="282.0" cy="339.0" r="1.72" fill="#083a0c"/>
<circle cx="282.0" cy="343.1" r="1.72" fill="#083a0c"/>
<circle cx="282.0" cy="346.6" r="1.72" fill="#083a0c"/>
<circle cx="282.0" cy="350.8" r="1.72" fill="#083a0c"/>
<circle cx="282.0" cy="354.4" r="1.72" fill="#083a0c"/>
<circle cx="282.0" cy="358.0" r="1.72" fill="#083a0c"/>
<circle cx="282.0" cy="360.0" r="1.72" fill="#083a0c"/>
<circle cx="282.0" cy="363.5" r="1.72" fill="#d2320c"/>
<circle cx="282.0" cy="368.1" r="1.72" fill="#d2320c"/>
<circle cx="282.0" cy="372.5" r="1.72" fill="#d2320c"/>
<circle cx="282.0" cy="376.4" r="1.72" fill="#d2320c"/>
<circle cx="290.2" cy="337.2" r="1.72" fill="#d2320c"/>
<circle cx="290.2" cy="339.8" r="1.72" fill="#083a0c"/>
<circle cx="290.2" cy="343.6" r="1.72" fill="#083a0c"/>
<circle cx="290.2" cy="347.8" r="1.72" fill="#083a0c"/>
<circle cx="290.2" cy="352.1" r="1.72" fill="#083a0c"/>
<circle cx="290.2" cy="355.5" r="1.72" fill="#083a0c"/>
<circle cx="290.2" cy="360.7" r="1.72" fill="#083a0c"/>
<circle cx="290.2" cy="365.0" r="1.72" fill="#d2320c"/>
<circle cx="290.2" cy="368.9" r="1.72" fill="#d2320c"/>
<circle cx="290.2" cy="372.4" r="1.72" fill="#d2320c"/>
<circle cx="290.2" cy="376.4" r="1.72" fill="#d2320c"/>
<circle cx="298.2" cy="349.4" r="1.72" fill="#081242"/>
<circle cx="298.2" cy="352.9" r="1.72" fill="#083a0c"/>
<circle cx="298.2" cy="356.4" r="1.72" fill="#083a0c"/>
<circle cx="298.2" cy="365.0" r="1.72" fill="#081242"/>
<circle cx="298.2" cy="370.0" r="1.72" fill="#d2320c"/>
<circle cx="298.2" cy="373.7" r="1.72" fill="#d2320c"/>
<circle cx="298.2" cy="376.4" r="1.72" fill="#d2320c"/>
<circle cx="306.9" cy="368.5" r="1.72" fill="#081242"/>
<circle cx="306.9" cy="371.2" r="1.72" fill="#081242"/>
<circle cx="446.9" cy="326.8" r="1.72" fill="#081242"/>
<circle cx="446.9" cy="330.0" r="1.72" fill="#081242"/>
<circle cx="446.9" cy="333.3" r="1.72" fill="#081242"/>
<circle cx="446.9" cy="337.5" r="1.72" fill="#081242"/>
<circle cx="446.9" cy="340.6" r="1.72" fill="#081242"/>
<circle cx="446.9" cy="344.1" r="1.72" fill="#081242"/>
<circle cx="446.9" cy="347.6" r="1.72" fill="#081242"/>
<circle cx="446.9" cy="351.8" r="1.72" fill="#081242"/>
<circle cx="446.9" cy="356.3" r="1.72" fill="#081242"/>
<circle cx="446.9" cy="359.5" r="1.72" fill="#081242"/>
<circle cx="446.9" cy="362.8" r="1.72" fill="#081242"/>
<circle cx="446.9" cy="367.2" r="1.72" fill="#081242"/>
<circle cx="446.9" cy="371.8" r="1.72" fill="#081242"/>
<circle cx="446.9" cy="376.4" r="1.72" fill="#081242"/>
<circle cx="476.7" cy="317.2" r="1.72" fill="#d2320c"/>
<circle cx="476.7" cy="320.5" r="1.72" fill="#d2320c"/>
<circle cx="476.7" cy="324.5" r="1.72" fill="#d2320c"/>
<circle cx="476.7" cy="327.9" r="1.72" fill="#d2320c"/>
<circle cx="476.7" cy="332.0" r="1.72" fill="#d2320c"/>
<circle cx="476.7" cy="336.3" r="1.72" fill="#d2320c"/>
<circle cx="476.7" cy="340.5" r="1.72" fill="#d2320c"/>
<circle cx="476.7" cy="344.0" r="1.72" fill="#d2320c"/>
<circle cx="476.7" cy="347.3" r="1.72" fill="#d2320c"/>
<circle cx="476.7" cy="351.4" r="1.72" fill="#d2320c"/>
<circle cx="476.7" cy="355.3" r="1.72" fill="#d2320c"/>
<circle cx="476.7" cy="358.7" r="1.72" fill="#d2320c"/>
<circle cx="476.7" cy="362.1" r="1.72" fill="#d2320c"/>
<circle cx="476.7" cy="366.0" r="1.72" fill="#d2320c"/>
<circle cx="476.7" cy="369.3" r="1.72" fill="#d2320c"/>
<circle cx="476.7" cy="373.4" r="1.72" fill="#d2320c"/>
<circle cx="476.7" cy="378.1" r="1.72" fill="#d2320c"/>
<circle cx="507.1" cy="329.4" r="1.72" fill="#083a0c"/>
<circle cx="507.1" cy="333.2" r="1.72" fill="#083a0c"/>
<circle cx="507.1" cy="336.6" r="1.72" fill="#083a0c"/>
<circle cx="507.1" cy="339.9" r="1.72" fill="#083a0c"/>
<circle cx="507.1" cy="343.8" r="1.72" fill="#083a0c"/>
<circle cx="507.1" cy="347.7" r="1.72" fill="#083a0c"/>
<circle cx="507.1" cy="351.3" r="1.72" fill="#083a0c"/>
<circle cx="507.1" cy="355.5" r="1.72" fill="#083a0c"/>
<circle cx="507.1" cy="359.4" r="1.72" fill="#083a0c"/>
<circle cx="507.1" cy="363.6" r="1.72" fill="#083a0c"/>
<circle cx="507.1" cy="366.9" r="1.72" fill="#083a0c"/>
<circle cx="507.1" cy="370.2" r="1.72" fill="#083a0c"/>
<circle cx="507.1" cy="373.9" r="1.72" fill="#083a0c"/>
<circle cx="507.1" cy="377.2" r="1.72" fill="#083a0c"/>
<circle cx="48.1" cy="417.6" r="1.72" fill="#083a0c"/>
<circle cx="52.0" cy="417.6" r="1.72" fill="#083a0c"/>
<circle cx="55.5" cy="417.6" r="1.72" fill="#083a0c"/>
<circle cx="60.2" cy="417.6" r="1.72" fill="#083a0c"/>
<circle cx="63.6" cy="417.6" r="1.72" fill="#083a0c"/>
<circle cx="67.4" cy="417.6" r="1.72" fill="#083a0c"/>
<circle cx="71.9" cy="417.6" r="1.72" fill="#083a0c"/>
<circle cx="75.4" cy="417.6" r="1.72" fill="#083a0c"/>
<circle cx="78.9" cy="417.6" r="1.72" fill="#083a0c"/>
<circle cx="82.3" cy="417.6" r="1.72" fill="#083a0c"/>
<circle cx="85.9" cy="417.6" r="1.72" fill="#083a0c"/>
<circle cx="90.0" cy="417.6" r="1.72" fill="#083a0c"/>
<circle cx="94.6" cy="417.6" r="1.72" fill="#083a0c"/>
<circle cx="98.2" cy="417.6" r="1.72" fill="#083a0c"/>
<circle cx="101.7" cy="417.6" r="1.72" fill="#083a0c"/>
<circle cx="106.5" cy="417.6" r="1.72" fill="#083a0c"/>
<circle cx="48.1" cy="447.9" r="1.72" fill="#d2320c"/>
<circle cx="51.9" cy="447.9" r="1.72" fill="#d2320c"/>
<circle cx="55.5" cy="447.9" r="1.72" fill="#d2320c"/>
<circle cx="59.5" cy="447.9" r="1.72" fill="#d2320c"/>
<circle cx="64.0" cy="447.9" r="1.72" fill="#d2320c"/>
<circle cx="68.6" cy="447.9" r="1.72" fill="#d2320c"/>
<circle cx="72.8" cy="447.9" r="1.72" fill="#d2320c"/>
<circle cx="76.2" cy="447.9" r="1.72" fill="#d2320c"/>
<circle cx="80.6" cy="447.9" r="1.72" fill="#d2320c"/>
<circle cx="84.9" cy="447.9" r="1.72" fill="#d2320c"/>
<circle cx="89.5" cy="447.9" r="1.72" fill="#d2320c"/>
<circle cx="94.3" cy="447.9" r="1.72" fill="#d2320c"/>
<circle cx="98.1" cy="447.9" r="1.72" fill="#d2320c"/>
<circle cx="102.7" cy="447.9" r="1.72" fill="#d2320c"/>
<circle cx="106.5" cy="447.9" r="1.72" fill="#d2320c"/>
<circle cx="48.1" cy="476.9" r="1.72" fill="#081242"/>
<circle cx="52.7" cy="476.9" r="1.72" fill="#081242"/>
<circle cx="56.3" cy="476.9" r="1.72" fill="#081242"/>
<circle cx="61.0" cy="476.9" r="1.72" fill="#081242"/>
<circle cx="65.4" cy="476.9" r="1.72" fill="#081242"/>
<circle cx="69.7" cy="476.9" r="1.72" fill="#081242"/>
<circle cx="74.0" cy="476.9" r="1.72" fill="#081242"/>
<circle cx="77.4" cy="476.9" r="1.72" fill="#081242"/>
<circle cx="82.1" cy="476.9" r="1.72" fill="#081242"/>
<circle cx="86.2" cy="476.9" r="1.72" fill="#081242"/>
<circle cx="90.2" cy="476.9" r="1.72" fill="#081242"/>
<circle cx="94.0" cy="476.9" r="1.72" fill="#081242"/>
<circle cx="98.5" cy="476.9" r="1.72" fill="#081242"/>
<circle cx="103.0" cy="476.9" r="1.72" fill="#081242"/>
<circle cx="107.0" cy="476.9" r="1.72" fill="#081242"/>
<circle cx="148.1" cy="417.6" r="1.72" fill="#083a0c"/>
<circle cx="152.0" cy="417.6" r="1.72" fill="#083a0c"/>
<circle cx="156.7" cy="417.6" r="1.72" fill="#083a0c"/>
<circle cx="161.0" cy="417.6" r="1.72" fill="#083a0c"/>
<circle cx="164.6" cy="417.6" r="1.72" fill="#083a0c"/>
<circle cx="168.5" cy="417.6" r="1.72" fill="#083a0c"/>
<circle cx="172.4" cy="417.6" r="1.72" fill="#083a0c"/>
<circle cx="177.1" cy="417.6" r="1.72" fill="#083a0c"/>
<circle cx="181.5" cy="417.6" r="1.72" fill="#083a0c"/>
<circle cx="185.0" cy="417.6" r="1.72" fill="#083a0c"/>
<circle cx="189.7" cy="417.6" r="1.72" fill="#083a0c"/>
<circle cx="192.5" cy="417.6" r="1.72" fill="#083a0c"/>
<circle cx="148.1" cy="447.9" r="1.72" fill="#d2320c"/>
<circle cx="152.2" cy="447.9" r="1.72" fill="#d2320c"/>
<circle cx="156.3" cy="447.9" r="1.72" fill="#d2320c"/>
<circle cx="160.6" cy="447.9" r="1.72" fill="#d2320c"/>
<circle cx="164.2" cy="447.9" r="1.72" fill="#d2320c"/>
<circle cx="168.9" cy="447.9" r="1.72" fill="#d2320c"/>
<circle cx="173.7" cy="447.9" r="1.72" fill="#d2320c"/>
<circle cx="177.9" cy="447.9" r="1.72" fill="#d2320c"/>
<circle cx="182.4" cy="447.9" r="1.72" fill="#d2320c"/>
<circle cx="186.0" cy="447.9" r="1.72" fill="#d2320c"/>
<circle cx="190.7" cy="447.9" r="1.72" fill="#d2320c"/>
<circle cx="207.2" cy="447.9" r="1.75" fill="#d2320c"/>
<circle cx="148.1" cy="476.9" r="1.72" fill="#081242"/>
<circle cx="152.2" cy="476.9" r="1.72" fill="#081242"/>
<circle cx="156.2" cy="476.9" r="1.72" fill="#081242"/>
<circle cx="159.7" cy="476.9" r="1.72" fill="#081242"/>
<circle cx="163.0" cy="476.9" r="1.72" fill="#081242"/>
<circle cx="166.9" cy="476.9" r="1.72" fill="#081242"/>
<circle cx="171.2" cy="476.9" r="1.72" fill="#081242"/>
<circle cx="175.7" cy="476.9" r="1.72" fill="#081242"/>
<circle cx="179.4" cy="476.9" r="1.72" fill="#081242"/>
<circle cx="183.1" cy="476.9" r="1.72" fill="#081242"/>
<circle cx="187.2" cy="476.9" r="1.72" fill="#081242"/>
<circle cx="190.7" cy="476.9" r="1.72" fill="#081242"/>
<circle cx="248.9" cy="417.6" r="1.75" fill="#083a0c"/>
<circle cx="248.9" cy="447.9" r="1.75" fill="#d2320c"/>
<circle cx="257.1" cy="417.6" r="1.75" fill="#083a0c"/>
<circle cx="257.1" cy="447.9" r="1.75" fill="#d2320c"/>
<circle cx="266.0" cy="417.6" r="1.75" fill="#083a0c"/>
<circle cx="266.0" cy="447.9" r="1.75" fill="#d2320c"/>
<circle cx="274.2" cy="417.6" r="1.75" fill="#083a0c"/>
<circle cx="274.2" cy="447.9" r="1.75" fill="#d2320c"/>
<circle cx="282.0" cy="417.6" r="1.75" fill="#083a0c"/>
<circle cx="282.0" cy="447.9" r="1.75" fill="#d2320c"/>
<circle cx="290.2" cy="417.6" r="1.75" fill="#083a0c"/>
<circle cx="290.2" cy="447.9" r="1.75" fill="#d2320c"/>
<circle cx="298.2" cy="417.6" r="1.75" fill="#083a0c"/>
<circle cx="298.2" cy="447.9" r="1.75" fill="#d2320c"/>
<circle cx="248.9" cy="476.9" r="1.75" fill="#081242"/>
<circle cx="257.1" cy="476.9" r="1.75" fill="#081242"/>
<circle cx="266.0" cy="476.9" r="1.75" fill="#081242"/>
<circle cx="274.2" cy="476.9" r="1.75" fill="#081242"/>
<circle cx="282.0" cy="476.9" r="1.75" fill="#081242"/>
<circle cx="290.2" cy="476.9" r="1.75" fill="#081242"/>
<circle cx="298.2" cy="476.9" r="1.75" fill="#081242"/>
<circle cx="306.9" cy="476.9" r="1.75" fill="#081242"/>
<circle cx="349.4" cy="417.6" r="1.72" fill="#083a0c"/>
<circle cx="353.1" cy="417.6" r="1.72" fill="#083a0c"/>
<circle cx="356.7" cy="417.6" r="1.72" fill="#083a0c"/>
<circle cx="360.3" cy="417.6" r="1.72" fill="#083a0c"/>
<circle cx="364.2" cy="417.6" r="1.72" fill="#083a0c"/>
<circle cx="368.5" cy="417.6" r="1.72" fill="#083a0c"/>
<circle cx="372.2" cy="417.6" r="1.72" fill="#083a0c"/>
<circle cx="375.8" cy="417.6" r="1.72" fill="#083a0c"/>
<circle cx="379.5" cy="417.6" r="1.72" fill="#083a0c"/>
<circle cx="382.9" cy="417.6" r="1.72" fill="#083a0c"/>
<circle cx="386.5" cy="417.6" r="1.72" fill="#083a0c"/>
<circle cx="390.3" cy="417.6" r="1.72" fill="#083a0c"/>
<circle cx="393.6" cy="417.6" r="1.72" fill="#083a0c"/>
<circle cx="349.4" cy="447.9" r="1.72" fill="#d2320c"/>
<circle cx="353.3" cy="447.9" r="1.72" fill="#d2320c"/>
<circle cx="357.5" cy="447.9" r="1.72" fill="#d2320c"/>
<circle cx="362.2" cy="447.9" r="1.72" fill="#d2320c"/>
<circle cx="366.1" cy="447.9" r="1.72" fill="#d2320c"/>
<circle cx="370.1" cy="447.9" r="1.72" fill="#d2320c"/>
<circle cx="373.9" cy="447.9" r="1.72" fill="#d2320c"/>
<circle cx="378.0" cy="447.9" r="1.72" fill="#d2320c"/>
<circle cx="382.3" cy="447.9" r="1.72" fill="#d2320c"/>
<circle cx="386.8" cy="447.9" r="1.72" fill="#d2320c"/>
<circle cx="391.5" cy="447.9" r="1.72" fill="#d2320c"/>
<circle cx="395.0" cy="447.9" r="1.72" fill="#d2320c"/>
<circle cx="398.9" cy="447.9" r="1.72" fill="#d2320c"/>
<circle cx="403.3" cy="447.9" r="1.72" fill="#d2320c"/>
<circle cx="349.4" cy="476.9" r="1.72" fill="#081242"/>
<circle cx="353.3" cy="476.9" r="1.72" fill="#081242"/>
<circle cx="357.2" cy="476.9" r="1.72" fill="#081242"/>
<circle cx="361.9" cy="476.9" r="1.72" fill="#081242"/>
<circle cx="366.0" cy="476.9" r="1.72" fill="#081242"/>
<circle cx="369.7" cy="476.9" r="1.72" fill="#081242"/>
<circle cx="373.5" cy="476.9" r="1.72" fill="#081242"/>
<circle cx="378.1" cy="476.9" r="1.72" fill="#081242"/>
<circle cx="381.7" cy="476.9" r="1.72" fill="#081242"/>
<circle cx="386.0" cy="476.9" r="1.72" fill="#081242"/>
<circle cx="389.4" cy="476.9" r="1.72" fill="#081242"/>
<circle cx="393.0" cy="476.9" r="1.72" fill="#081242"/>
<circle cx="395.8" cy="476.9" r="1.72" fill="#081242"/></g>
<g style="filter:blur(0.25px)"><path d="M42.5,14.2 L42.5,83.5 L113.5,83.5" fill="none" stroke="#333333" stroke-width="1.1"/>
<path d="M142.5,14.2 L142.5,83.5 L213.5,83.5" fill="none" stroke="#333333" stroke-width="1.1"/>
<path d="M242.5,14.2 L242.5,83.5 L313.5,83.5" fill="none" stroke="#333333" stroke-width="1.1"/>
<path d="M342.5,14.2 L342.5,83.5 L413.5,83.5" fill="none" stroke="#333333" stroke-width="1.1"/>
<path d="M442.5,14.2 L442.5,83.5 L513.5,83.5" fill="none" stroke="#333333" stroke-width="1.1"/>
<path d="M42.5,113.9 L42.5,183.0 L113.5,183.0" fill="none" stroke="#333333" stroke-width="1.1"/>
<path d="M142.5,113.9 L142.5,183.0 L213.5,183.0" fill="none" stroke="#333333" stroke-width="1.1"/>
<path d="M242.5,113.9 L242.5,183.0 L313.5,183.0" fill="none" stroke="#333333" stroke-width="1.1"/>
<path d="M342.5,113.9 L342.5,183.0 L413.5,183.0" fill="none" stroke="#333333" stroke-width="1.1"/>
<path d="M442.5,113.9 L442.5,183.0 L513.5,183.0" fill="none" stroke="#333333" stroke-width="1.1"/>
<path d="M42.5,213.0 L42.5,282.5 L113.5,282.5" fill="none" stroke="#333333" stroke-width="1.1"/>
<path d="M142.5,213.0 L142.5,282.5 L213.5,282.5" fill="none" stroke="#333333" stroke-width="1.1"/>
<path d="M242.5,213.0 L242.5,282.5 L313.5,282.5" fill="none" stroke="#333333" stroke-width="1.1"/>
<path d="M342.5,213.0 L342.5,282.5 L413.5,282.5" fill="none" stroke="#333333" stroke-width="1.1"/>
<path d="M442.5,213.0 L442.5,282.5 L513.5,282.5" fill="none" stroke="#333333" stroke-width="1.1"/>
<path d="M42.5,313.2 L42.5,382.0 L113.5,382.0" fill="none" stroke="#333333" stroke-width="1.1"/>
<path d="M142.5,313.2 L142.5,382.0 L213.5,382.0" fill="none" stroke="#333333" stroke-width="1.1"/>
<path d="M242.5,313.2 L242.5,382.0 L313.5,382.0" fill="none" stroke="#333333" stroke-width="1.1"/>
<path d="M342.5,313.2 L342.5,382.0 L413.5,382.0" fill="none" stroke="#333333" stroke-width="1.1"/>
<path d="M442.5,313.2 L442.5,382.0 L513.5,382.0" fill="none" stroke="#333333" stroke-width="1.1"/>
<path d="M42.5,412.9 L42.5,481.5 L113.5,481.5" fill="none" stroke="#333333" stroke-width="1.1"/>
<path d="M142.5,412.9 L142.5,481.5 L213.5,481.5" fill="none" stroke="#333333" stroke-width="1.1"/>
<path d="M242.5,412.9 L242.5,481.5 L313.5,481.5" fill="none" stroke="#333333" stroke-width="1.1"/>
<path d="M342.5,412.9 L342.5,481.5 L413.5,481.5" fill="none" stroke="#333333" stroke-width="1.1"/>
<path d="M442.5,412.9 L442.5,481.5 L513.5,481.5" fill="none" stroke="#333333" stroke-width="1.1"/><text x="35.6" y="80.9" font-size="7.9" text-anchor="end" fill="#141414" stroke="#141414" stroke-width="0.3" textLength="3.60" lengthAdjust="spacingAndGlyphs">0</text>
<text x="35.6" y="55.0" font-size="7.9" text-anchor="end" fill="#141414" stroke="#141414" stroke-width="0.3" textLength="10.81" lengthAdjust="spacingAndGlyphs">100</text>
<text x="35.6" y="29.1" font-size="7.9" text-anchor="end" fill="#141414" stroke="#141414" stroke-width="0.3" textLength="10.81" lengthAdjust="spacingAndGlyphs">200</text>
<text x="35.6" y="176.3" font-size="7.9" text-anchor="end" fill="#141414" stroke="#141414" stroke-width="0.3" textLength="3.60" lengthAdjust="spacingAndGlyphs">0</text>
<text x="35.6" y="155.8" font-size="7.9" text-anchor="end" fill="#141414" stroke="#141414" stroke-width="0.3" textLength="3.60" lengthAdjust="spacingAndGlyphs">5</text>
<text x="35.6" y="135.1" font-size="7.9" text-anchor="end" fill="#141414" stroke="#141414" stroke-width="0.3" textLength="7.20" lengthAdjust="spacingAndGlyphs">10</text>
<text x="35.6" y="279.8" font-size="7.9" text-anchor="end" fill="#141414" stroke="#141414" stroke-width="0.3" textLength="9.00" lengthAdjust="spacingAndGlyphs">0.0</text>
<text x="35.6" y="259.5" font-size="7.9" text-anchor="end" fill="#141414" stroke="#141414" stroke-width="0.3" textLength="9.00" lengthAdjust="spacingAndGlyphs">2.5</text>
<text x="35.6" y="238.6" font-size="7.9" text-anchor="end" fill="#141414" stroke="#141414" stroke-width="0.3" textLength="9.00" lengthAdjust="spacingAndGlyphs">5.0</text>
<text x="35.6" y="218.0" font-size="7.9" text-anchor="end" fill="#141414" stroke="#141414" stroke-width="0.3" textLength="9.00" lengthAdjust="spacingAndGlyphs">7.5</text>
<text x="35.6" y="380.6" font-size="7.9" text-anchor="end" fill="#141414" stroke="#141414" stroke-width="0.3" textLength="7.20" lengthAdjust="spacingAndGlyphs">50</text>
<text x="35.6" y="350.6" font-size="7.9" text-anchor="end" fill="#141414" stroke="#141414" stroke-width="0.3" textLength="10.81" lengthAdjust="spacingAndGlyphs">100</text>
<text x="35.6" y="320.6" font-size="7.9" text-anchor="end" fill="#141414" stroke="#141414" stroke-width="0.3" textLength="10.81" lengthAdjust="spacingAndGlyphs">150</text>
<text x="35.6" y="479.8" font-size="7.9" text-anchor="end" fill="#141414" stroke="#141414" stroke-width="0.3" textLength="3.60" lengthAdjust="spacingAndGlyphs">0</text>
<text x="35.6" y="450.2" font-size="7.9" text-anchor="end" fill="#141414" stroke="#141414" stroke-width="0.3" textLength="3.60" lengthAdjust="spacingAndGlyphs">1</text>
<text x="35.6" y="419.9" font-size="7.9" text-anchor="end" fill="#141414" stroke="#141414" stroke-width="0.3" textLength="3.60" lengthAdjust="spacingAndGlyphs">2</text>
<text x="48.8" y="494.9" font-size="7.9" text-anchor="middle" fill="#141414" stroke="#141414" stroke-width="0.3" textLength="3.60" lengthAdjust="spacingAndGlyphs">0</text>
<text x="75.3" y="494.9" font-size="7.9" text-anchor="middle" fill="#141414" stroke="#141414" stroke-width="0.3" textLength="10.81" lengthAdjust="spacingAndGlyphs">100</text>
<text x="100.2" y="494.9" font-size="7.9" text-anchor="middle" fill="#141414" stroke="#141414" stroke-width="0.3" textLength="10.81" lengthAdjust="spacingAndGlyphs">200</text>
<text x="152.5" y="494.9" font-size="7.9" text-anchor="middle" fill="#141414" stroke="#141414" stroke-width="0.3" textLength="3.60" lengthAdjust="spacingAndGlyphs">0</text>
<text x="195.0" y="494.9" font-size="7.9" text-anchor="middle" fill="#141414" stroke="#141414" stroke-width="0.3" textLength="7.20" lengthAdjust="spacingAndGlyphs">10</text>
<text x="249.0" y="494.9" font-size="7.9" text-anchor="middle" fill="#141414" stroke="#141414" stroke-width="0.3" textLength="3.60" lengthAdjust="spacingAndGlyphs">0</text>
<text x="290.5" y="494.9" font-size="7.9" text-anchor="middle" fill="#141414" stroke="#141414" stroke-width="0.3" textLength="3.60" lengthAdjust="spacingAndGlyphs">5</text>
<text x="349.4" y="494.9" font-size="7.9" text-anchor="middle" fill="#141414" stroke="#141414" stroke-width="0.3" textLength="7.20" lengthAdjust="spacingAndGlyphs">50</text>
<text x="377.7" y="494.9" font-size="7.9" text-anchor="middle" fill="#141414" stroke="#141414" stroke-width="0.3" textLength="10.81" lengthAdjust="spacingAndGlyphs">100</text>
<text x="405.6" y="494.9" font-size="7.9" text-anchor="middle" fill="#141414" stroke="#141414" stroke-width="0.3" textLength="10.81" lengthAdjust="spacingAndGlyphs">150</text>
<text x="446.9" y="494.9" font-size="7.9" text-anchor="middle" fill="#141414" stroke="#141414" stroke-width="0.3" textLength="3.60" lengthAdjust="spacingAndGlyphs">0</text>
<text x="477.2" y="494.9" font-size="7.9" text-anchor="middle" fill="#141414" stroke="#141414" stroke-width="0.3" textLength="3.60" lengthAdjust="spacingAndGlyphs">1</text>
<text x="506.5" y="494.9" font-size="7.9" text-anchor="middle" fill="#141414" stroke="#141414" stroke-width="0.3" textLength="3.60" lengthAdjust="spacingAndGlyphs">2</text>
<text x="77.3" y="508.6" font-size="12" text-anchor="middle" fill="#141414" stroke="#141414" stroke-width="0.28">Dist_vehicle [m]</text>
<text x="176.7" y="508.6" font-size="12" text-anchor="middle" fill="#141414" stroke="#141414" stroke-width="0.28">Impact_time [sec]</text>
<text x="276.8" y="508.6" font-size="12" text-anchor="middle" fill="#141414" stroke="#141414" stroke-width="0.28">Num_vehicles</text>
<text x="376.0" y="508.6" font-size="12" text-anchor="middle" fill="#141414" stroke="#141414" stroke-width="0.28">GPS_speed [km/h]</text>
<text x="476.7" y="508.6" font-size="12" text-anchor="middle" fill="#141414" stroke="#141414" stroke-width="0.28">status</text>
<text x="18.2" y="49.6" font-size="12" text-anchor="middle" fill="#141414" stroke="#141414" stroke-width="0.28" transform="rotate(-90 18.2 49.6)">Dist_vehicle [m]</text>
<text x="21.7" y="150.0" font-size="12" text-anchor="middle" fill="#141414" stroke="#141414" stroke-width="0.28" transform="rotate(-90 21.7 150.0)">Impact_time [sec]</text>
<text x="20.1" y="249.6" font-size="12" text-anchor="middle" fill="#141414" stroke="#141414" stroke-width="0.28" transform="rotate(-90 20.1 249.6)">Num_vehicles</text>
<text x="18.2" y="348.5" font-size="12" text-anchor="middle" fill="#141414" stroke="#141414" stroke-width="0.28" transform="rotate(-90 18.2 348.5)">GPS_speed [km/h]</text>
<text x="25.3" y="448.5" font-size="12" text-anchor="middle" fill="#141414" stroke="#141414" stroke-width="0.28" transform="rotate(-90 25.3 448.5)">status</text>
<text x="532.2" y="245.2" font-size="9.7" text-anchor="middle" fill="#141414" stroke="#141414" stroke-width="0.28">status</text>
<circle cx="528.2" cy="254.0" r="1.5" fill="#081242"/>
<text x="542.4" y="256.7" font-size="7.6" text-anchor="middle" fill="#141414" stroke="#141414" stroke-width="0.25">0</text>
<circle cx="528.2" cy="264.7" r="1.5" fill="#d2320c"/>
<text x="542.4" y="267.4" font-size="7.6" text-anchor="middle" fill="#141414" stroke="#141414" stroke-width="0.25">1</text>
<circle cx="528.2" cy="275.5" r="1.5" fill="#083a0c"/>
<text x="542.4" y="278.2" font-size="7.6" text-anchor="middle" fill="#141414" stroke="#141414" stroke-width="0.25">2</text></g>
</svg></body></html>
